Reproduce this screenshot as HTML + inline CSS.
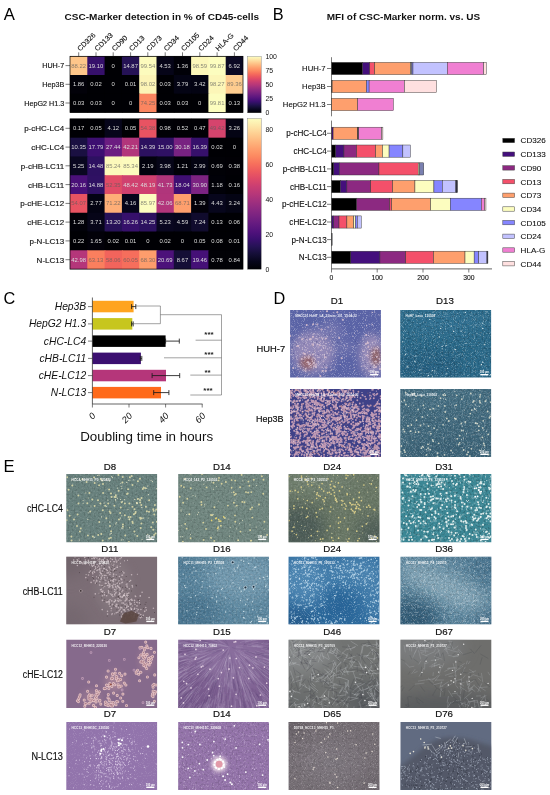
<!DOCTYPE html>
<html><head><meta charset="utf-8"><title>Figure</title>
<style>html,body{margin:0;padding:0;background:#fff}svg{display:block}text{font-family:"Liberation Sans",sans-serif}</style>
</head><body>
<svg width="550" height="795" viewBox="0 0 550 795">
<rect width="550" height="795" fill="#fff"/>
<g font-family="Liberation Sans, sans-serif">
<text x="3.8" y="19.8" font-size="16.7" fill="#000">A</text>
<text x="64.6" y="20.3" font-size="9" font-weight="bold" fill="#111" textLength="194.4" lengthAdjust="spacingAndGlyphs">CSC-Marker detection in % of CD45-cells</text>
<rect x="70.0" y="56.3" width="173.0" height="56.1" fill="#000004"/>
<text x="64.2" y="68.2" font-size="7.2" text-anchor="end" fill="#111" stroke="#111" stroke-width="0.15">HUH-7</text>
<line x1="65.5" x2="70.0" y1="65.6" y2="65.6" stroke="#222" stroke-width="0.6"/>
<rect x="70.00" y="56.30" width="18.20" height="19.60" fill="#fec68a"/>
<text x="78.65" y="67.6" font-size="5.9" text-anchor="middle" fill="#5c5c5c" fill-opacity="0.72">88.22</text>
<rect x="87.30" y="56.30" width="18.20" height="19.60" fill="#36106b"/>
<text x="95.95" y="67.6" font-size="5.9" text-anchor="middle" fill="#dcdcdc">19.10</text>
<rect x="104.60" y="56.30" width="18.20" height="19.60" fill="#000004"/>
<text x="113.25" y="67.6" font-size="5.9" text-anchor="middle" fill="#dcdcdc">0</text>
<rect x="121.90" y="56.30" width="18.20" height="19.60" fill="#251255"/>
<text x="130.55" y="67.6" font-size="5.9" text-anchor="middle" fill="#dcdcdc">14.87</text>
<rect x="139.20" y="56.30" width="18.20" height="19.60" fill="#fcfbbd"/>
<text x="147.85" y="67.6" font-size="5.9" text-anchor="middle" fill="#5c5c5c" fill-opacity="0.72">99.54</text>
<rect x="156.50" y="56.30" width="18.20" height="19.60" fill="#060518"/>
<text x="165.15" y="67.6" font-size="5.9" text-anchor="middle" fill="#dcdcdc">4.53</text>
<rect x="173.80" y="56.30" width="18.20" height="19.60" fill="#010108"/>
<text x="182.45" y="67.6" font-size="5.9" text-anchor="middle" fill="#dcdcdc">1.36</text>
<rect x="191.10" y="56.30" width="18.20" height="19.60" fill="#fcf7b9"/>
<text x="199.75" y="67.6" font-size="5.9" text-anchor="middle" fill="#5c5c5c" fill-opacity="0.72">98.59</text>
<rect x="208.40" y="56.30" width="18.20" height="19.60" fill="#fcfdbf"/>
<text x="217.05" y="67.6" font-size="5.9" text-anchor="middle" fill="#5c5c5c" fill-opacity="0.72">99.87</text>
<rect x="225.70" y="56.30" width="17.30" height="19.60" fill="#0b0924"/>
<text x="234.35" y="67.6" font-size="5.9" text-anchor="middle" fill="#dcdcdc">6.92</text>
<text x="64.2" y="86.9" font-size="7.2" text-anchor="end" fill="#111" stroke="#111" stroke-width="0.15">Hep3B</text>
<line x1="65.5" x2="70.0" y1="84.3" y2="84.3" stroke="#222" stroke-width="0.6"/>
<rect x="70.00" y="75.00" width="18.20" height="19.60" fill="#020109"/>
<text x="78.65" y="86.3" font-size="5.9" text-anchor="middle" fill="#dcdcdc">1.86</text>
<rect x="87.30" y="75.00" width="18.20" height="19.60" fill="#000004"/>
<text x="95.95" y="86.3" font-size="5.9" text-anchor="middle" fill="#dcdcdc">0.02</text>
<rect x="104.60" y="75.00" width="18.20" height="19.60" fill="#000004"/>
<text x="113.25" y="86.3" font-size="5.9" text-anchor="middle" fill="#dcdcdc">0</text>
<rect x="121.90" y="75.00" width="18.20" height="19.60" fill="#000004"/>
<text x="130.55" y="86.3" font-size="5.9" text-anchor="middle" fill="#dcdcdc">0.01</text>
<rect x="139.20" y="75.00" width="18.20" height="19.60" fill="#fcf4b6"/>
<text x="147.85" y="86.3" font-size="5.9" text-anchor="middle" fill="#5c5c5c" fill-opacity="0.72">98.02</text>
<rect x="156.50" y="75.00" width="18.20" height="19.60" fill="#000004"/>
<text x="165.15" y="86.3" font-size="5.9" text-anchor="middle" fill="#dcdcdc">0.03</text>
<rect x="173.80" y="75.00" width="18.20" height="19.60" fill="#040414"/>
<text x="182.45" y="86.3" font-size="5.9" text-anchor="middle" fill="#dcdcdc">3.79</text>
<rect x="191.10" y="75.00" width="18.20" height="19.60" fill="#030312"/>
<text x="199.75" y="86.3" font-size="5.9" text-anchor="middle" fill="#dcdcdc">3.42</text>
<rect x="208.40" y="75.00" width="18.20" height="19.60" fill="#fcf6b8"/>
<text x="217.05" y="86.3" font-size="5.9" text-anchor="middle" fill="#5c5c5c" fill-opacity="0.72">98.27</text>
<rect x="225.70" y="75.00" width="17.30" height="19.60" fill="#fecc8f"/>
<text x="234.35" y="86.3" font-size="5.9" text-anchor="middle" fill="#5c5c5c" fill-opacity="0.72">89.36</text>
<text x="64.2" y="105.6" font-size="7.2" text-anchor="end" fill="#111" stroke="#111" stroke-width="0.15">HepG2 H1.3</text>
<line x1="65.5" x2="70.0" y1="103.0" y2="103.0" stroke="#222" stroke-width="0.6"/>
<rect x="70.00" y="93.70" width="18.20" height="18.70" fill="#000004"/>
<text x="78.65" y="105.0" font-size="5.9" text-anchor="middle" fill="#dcdcdc">0.03</text>
<rect x="87.30" y="93.70" width="18.20" height="18.70" fill="#000004"/>
<text x="95.95" y="105.0" font-size="5.9" text-anchor="middle" fill="#dcdcdc">0.03</text>
<rect x="104.60" y="93.70" width="18.20" height="18.70" fill="#000004"/>
<text x="113.25" y="105.0" font-size="5.9" text-anchor="middle" fill="#dcdcdc">0</text>
<rect x="121.90" y="93.70" width="18.20" height="18.70" fill="#000004"/>
<text x="130.55" y="105.0" font-size="5.9" text-anchor="middle" fill="#dcdcdc">0</text>
<rect x="139.20" y="93.70" width="18.20" height="18.70" fill="#fb8560"/>
<text x="147.85" y="105.0" font-size="5.9" text-anchor="middle" fill="#5c5c5c" fill-opacity="0.72">74.25</text>
<rect x="156.50" y="93.70" width="18.20" height="18.70" fill="#000004"/>
<text x="165.15" y="105.0" font-size="5.9" text-anchor="middle" fill="#dcdcdc">0.03</text>
<rect x="173.80" y="93.70" width="18.20" height="18.70" fill="#000004"/>
<text x="182.45" y="105.0" font-size="5.9" text-anchor="middle" fill="#dcdcdc">0.03</text>
<rect x="191.10" y="93.70" width="18.20" height="18.70" fill="#000004"/>
<text x="199.75" y="105.0" font-size="5.9" text-anchor="middle" fill="#dcdcdc">0</text>
<rect x="208.40" y="93.70" width="18.20" height="18.70" fill="#fcfdbf"/>
<text x="217.05" y="105.0" font-size="5.9" text-anchor="middle" fill="#5c5c5c" fill-opacity="0.72">99.81</text>
<rect x="225.70" y="93.70" width="17.30" height="18.70" fill="#000004"/>
<text x="234.35" y="105.0" font-size="5.9" text-anchor="middle" fill="#dcdcdc">0.13</text>
<rect x="70.0" y="56.3" width="173.0" height="56.1" fill="none" stroke="#000" stroke-width="0.7"/>
<rect x="70.0" y="118.9" width="173.0" height="150.2" fill="#000004"/>
<text x="64.2" y="131.2" font-size="8.0" text-anchor="end" fill="#111" stroke="#111" stroke-width="0.15">p-cHC-LC4</text>
<line x1="65.5" x2="70.0" y1="128.3" y2="128.3" stroke="#222" stroke-width="0.6"/>
<rect x="70.00" y="118.90" width="18.20" height="19.67" fill="#000004"/>
<text x="78.65" y="130.3" font-size="5.9" text-anchor="middle" fill="#dcdcdc">0.17</text>
<rect x="87.30" y="118.90" width="18.20" height="19.67" fill="#000004"/>
<text x="95.95" y="130.3" font-size="5.9" text-anchor="middle" fill="#dcdcdc">0.05</text>
<rect x="104.60" y="118.90" width="18.20" height="19.67" fill="#06051a"/>
<text x="113.25" y="130.3" font-size="5.9" text-anchor="middle" fill="#dcdcdc">4.12</text>
<rect x="121.90" y="118.90" width="18.20" height="19.67" fill="#000004"/>
<text x="130.55" y="130.3" font-size="5.9" text-anchor="middle" fill="#dcdcdc">0.05</text>
<rect x="139.20" y="118.90" width="18.20" height="19.67" fill="#e85362"/>
<text x="147.85" y="130.3" font-size="5.9" text-anchor="middle" fill="#5c5c5c" fill-opacity="0.72">54.38</text>
<rect x="156.50" y="118.90" width="18.20" height="19.67" fill="#010106"/>
<text x="165.15" y="130.3" font-size="5.9" text-anchor="middle" fill="#dcdcdc">0.98</text>
<rect x="173.80" y="118.90" width="18.20" height="19.67" fill="#010005"/>
<text x="182.45" y="130.3" font-size="5.9" text-anchor="middle" fill="#dcdcdc">0.52</text>
<rect x="191.10" y="118.90" width="18.20" height="19.67" fill="#010005"/>
<text x="199.75" y="130.3" font-size="5.9" text-anchor="middle" fill="#dcdcdc">0.47</text>
<rect x="208.40" y="118.90" width="18.20" height="19.67" fill="#d5446d"/>
<text x="217.05" y="130.3" font-size="5.9" text-anchor="middle" fill="#5c5c5c" fill-opacity="0.72">49.42</text>
<rect x="225.70" y="118.90" width="17.30" height="19.67" fill="#040414"/>
<text x="234.35" y="130.3" font-size="5.9" text-anchor="middle" fill="#dcdcdc">3.26</text>
<text x="64.2" y="149.9" font-size="8.0" text-anchor="end" fill="#111" stroke="#111" stroke-width="0.15">cHC-LC4</text>
<line x1="65.5" x2="70.0" y1="147.1" y2="147.1" stroke="#222" stroke-width="0.6"/>
<rect x="70.00" y="137.67" width="18.20" height="19.67" fill="#1a1042"/>
<text x="78.65" y="149.1" font-size="5.9" text-anchor="middle" fill="#dcdcdc">10.35</text>
<rect x="87.30" y="137.67" width="18.20" height="19.67" fill="#3d0f71"/>
<text x="95.95" y="149.1" font-size="5.9" text-anchor="middle" fill="#dcdcdc">17.79</text>
<rect x="104.60" y="137.67" width="18.20" height="19.67" fill="#6b1d81"/>
<text x="113.25" y="149.1" font-size="5.9" text-anchor="middle" fill="#dcdcdc">27.44</text>
<rect x="121.90" y="137.67" width="18.20" height="19.67" fill="#b2357b"/>
<text x="130.55" y="149.1" font-size="5.9" text-anchor="middle" fill="#dcdcdc">42.21</text>
<rect x="139.20" y="137.67" width="18.20" height="19.67" fill="#2c115f"/>
<text x="147.85" y="149.1" font-size="5.9" text-anchor="middle" fill="#dcdcdc">14.39</text>
<rect x="156.50" y="137.67" width="18.20" height="19.67" fill="#2f1163"/>
<text x="165.15" y="149.1" font-size="5.9" text-anchor="middle" fill="#dcdcdc">15.00</text>
<rect x="173.80" y="137.67" width="18.20" height="19.67" fill="#782281"/>
<text x="182.45" y="149.1" font-size="5.9" text-anchor="middle" fill="#dcdcdc">30.18</text>
<rect x="191.10" y="137.67" width="18.20" height="19.67" fill="#36106b"/>
<text x="199.75" y="149.1" font-size="5.9" text-anchor="middle" fill="#dcdcdc">16.39</text>
<rect x="208.40" y="137.67" width="18.20" height="19.67" fill="#000004"/>
<text x="217.05" y="149.1" font-size="5.9" text-anchor="middle" fill="#dcdcdc">0.02</text>
<rect x="225.70" y="137.67" width="17.30" height="19.67" fill="#000004"/>
<text x="234.35" y="149.1" font-size="5.9" text-anchor="middle" fill="#dcdcdc">0</text>
<text x="64.2" y="168.7" font-size="8.0" text-anchor="end" fill="#111" stroke="#111" stroke-width="0.15">p-cHB-LC11</text>
<line x1="65.5" x2="70.0" y1="165.8" y2="165.8" stroke="#222" stroke-width="0.6"/>
<rect x="70.00" y="156.44" width="18.20" height="19.67" fill="#090720"/>
<text x="78.65" y="167.8" font-size="5.9" text-anchor="middle" fill="#dcdcdc">5.25</text>
<rect x="87.30" y="156.44" width="18.20" height="19.67" fill="#2d1161"/>
<text x="95.95" y="167.8" font-size="5.9" text-anchor="middle" fill="#dcdcdc">14.48</text>
<rect x="104.60" y="156.44" width="18.20" height="19.67" fill="#fcf9bb"/>
<text x="113.25" y="167.8" font-size="5.9" text-anchor="middle" fill="#5c5c5c" fill-opacity="0.72">85.24</text>
<rect x="121.90" y="156.44" width="18.20" height="19.67" fill="#fcfbbd"/>
<text x="130.55" y="167.8" font-size="5.9" text-anchor="middle" fill="#5c5c5c" fill-opacity="0.72">85.34</text>
<rect x="139.20" y="156.44" width="18.20" height="19.67" fill="#02020d"/>
<text x="147.85" y="167.8" font-size="5.9" text-anchor="middle" fill="#dcdcdc">2.19</text>
<rect x="156.50" y="156.44" width="18.20" height="19.67" fill="#060518"/>
<text x="165.15" y="167.8" font-size="5.9" text-anchor="middle" fill="#dcdcdc">3.98</text>
<rect x="173.80" y="156.44" width="18.20" height="19.67" fill="#010108"/>
<text x="182.45" y="167.8" font-size="5.9" text-anchor="middle" fill="#dcdcdc">1.21</text>
<rect x="191.10" y="156.44" width="18.20" height="19.67" fill="#030312"/>
<text x="199.75" y="167.8" font-size="5.9" text-anchor="middle" fill="#dcdcdc">2.99</text>
<rect x="208.40" y="156.44" width="18.20" height="19.67" fill="#010106"/>
<text x="217.05" y="167.8" font-size="5.9" text-anchor="middle" fill="#dcdcdc">0.69</text>
<rect x="225.70" y="156.44" width="17.30" height="19.67" fill="#010005"/>
<text x="234.35" y="167.8" font-size="5.9" text-anchor="middle" fill="#dcdcdc">0.38</text>
<text x="64.2" y="187.5" font-size="8.0" text-anchor="end" fill="#111" stroke="#111" stroke-width="0.15">cHB-LC11</text>
<line x1="65.5" x2="70.0" y1="184.6" y2="184.6" stroke="#222" stroke-width="0.6"/>
<rect x="70.00" y="175.21" width="18.20" height="19.67" fill="#4a1079"/>
<text x="78.65" y="186.6" font-size="5.9" text-anchor="middle" fill="#dcdcdc">20.16</text>
<rect x="87.30" y="175.21" width="18.20" height="19.67" fill="#2f1163"/>
<text x="95.95" y="186.6" font-size="5.9" text-anchor="middle" fill="#dcdcdc">14.88</text>
<rect x="104.60" y="175.21" width="18.20" height="19.67" fill="#e04c67"/>
<text x="113.25" y="186.6" font-size="5.9" text-anchor="middle" fill="#5c5c5c" fill-opacity="0.72">52.35</text>
<rect x="121.90" y="175.21" width="18.20" height="19.67" fill="#d0416f"/>
<text x="130.55" y="186.6" font-size="5.9" text-anchor="middle" fill="#dcdcdc">48.42</text>
<rect x="139.20" y="175.21" width="18.20" height="19.67" fill="#cf4070"/>
<text x="147.85" y="186.6" font-size="5.9" text-anchor="middle" fill="#dcdcdc">48.19</text>
<rect x="156.50" y="175.21" width="18.20" height="19.67" fill="#b0357b"/>
<text x="165.15" y="186.6" font-size="5.9" text-anchor="middle" fill="#dcdcdc">41.73</text>
<rect x="173.80" y="175.21" width="18.20" height="19.67" fill="#3f0f72"/>
<text x="182.45" y="186.6" font-size="5.9" text-anchor="middle" fill="#dcdcdc">18.04</text>
<rect x="191.10" y="175.21" width="18.20" height="19.67" fill="#7c2382"/>
<text x="199.75" y="186.6" font-size="5.9" text-anchor="middle" fill="#dcdcdc">30.90</text>
<rect x="208.40" y="175.21" width="18.20" height="19.67" fill="#010108"/>
<text x="217.05" y="186.6" font-size="5.9" text-anchor="middle" fill="#dcdcdc">1.18</text>
<rect x="225.70" y="175.21" width="17.30" height="19.67" fill="#000004"/>
<text x="234.35" y="186.6" font-size="5.9" text-anchor="middle" fill="#dcdcdc">0.16</text>
<text x="64.2" y="206.2" font-size="8.0" text-anchor="end" fill="#111" stroke="#111" stroke-width="0.15">p-cHE-LC12</text>
<line x1="65.5" x2="70.0" y1="203.4" y2="203.4" stroke="#222" stroke-width="0.6"/>
<rect x="70.00" y="193.98" width="18.20" height="19.67" fill="#e85362"/>
<text x="78.65" y="205.4" font-size="5.9" text-anchor="middle" fill="#5c5c5c" fill-opacity="0.72">54.07</text>
<rect x="87.30" y="193.98" width="18.20" height="19.67" fill="#030312"/>
<text x="95.95" y="205.4" font-size="5.9" text-anchor="middle" fill="#dcdcdc">2.77</text>
<rect x="104.60" y="193.98" width="18.20" height="19.67" fill="#feae77"/>
<text x="113.25" y="205.4" font-size="5.9" text-anchor="middle" fill="#5c5c5c" fill-opacity="0.72">71.22</text>
<rect x="121.90" y="193.98" width="18.20" height="19.67" fill="#06051a"/>
<text x="130.55" y="205.4" font-size="5.9" text-anchor="middle" fill="#dcdcdc">4.16</text>
<rect x="139.20" y="193.98" width="18.20" height="19.67" fill="#fcfdbf"/>
<text x="147.85" y="205.4" font-size="5.9" text-anchor="middle" fill="#5c5c5c" fill-opacity="0.72">85.97</text>
<rect x="156.50" y="193.98" width="18.20" height="19.67" fill="#b2357b"/>
<text x="165.15" y="205.4" font-size="5.9" text-anchor="middle" fill="#dcdcdc">42.06</text>
<rect x="173.80" y="193.98" width="18.20" height="19.67" fill="#fe9f6d"/>
<text x="182.45" y="205.4" font-size="5.9" text-anchor="middle" fill="#5c5c5c" fill-opacity="0.72">68.71</text>
<rect x="191.10" y="193.98" width="18.20" height="19.67" fill="#020109"/>
<text x="199.75" y="205.4" font-size="5.9" text-anchor="middle" fill="#dcdcdc">1.39</text>
<rect x="208.40" y="193.98" width="18.20" height="19.67" fill="#07061c"/>
<text x="217.05" y="205.4" font-size="5.9" text-anchor="middle" fill="#dcdcdc">4.43</text>
<rect x="225.70" y="193.98" width="17.30" height="19.67" fill="#040414"/>
<text x="234.35" y="205.4" font-size="5.9" text-anchor="middle" fill="#dcdcdc">3.24</text>
<text x="64.2" y="225.0" font-size="8.0" text-anchor="end" fill="#111" stroke="#111" stroke-width="0.15">cHE-LC12</text>
<line x1="65.5" x2="70.0" y1="222.1" y2="222.1" stroke="#222" stroke-width="0.6"/>
<rect x="70.00" y="212.75" width="18.20" height="19.67" fill="#010108"/>
<text x="78.65" y="224.1" font-size="5.9" text-anchor="middle" fill="#dcdcdc">1.28</text>
<rect x="87.30" y="212.75" width="18.20" height="19.67" fill="#060518"/>
<text x="95.95" y="224.1" font-size="5.9" text-anchor="middle" fill="#dcdcdc">3.71</text>
<rect x="104.60" y="212.75" width="18.20" height="19.67" fill="#271258"/>
<text x="113.25" y="224.1" font-size="5.9" text-anchor="middle" fill="#dcdcdc">13.20</text>
<rect x="121.90" y="212.75" width="18.20" height="19.67" fill="#36106b"/>
<text x="130.55" y="224.1" font-size="5.9" text-anchor="middle" fill="#dcdcdc">16.26</text>
<rect x="139.20" y="212.75" width="18.20" height="19.67" fill="#2c115f"/>
<text x="147.85" y="224.1" font-size="5.9" text-anchor="middle" fill="#dcdcdc">14.25</text>
<rect x="156.50" y="212.75" width="18.20" height="19.67" fill="#090720"/>
<text x="165.15" y="224.1" font-size="5.9" text-anchor="middle" fill="#dcdcdc">5.23</text>
<rect x="173.80" y="212.75" width="18.20" height="19.67" fill="#07061c"/>
<text x="182.45" y="224.1" font-size="5.9" text-anchor="middle" fill="#dcdcdc">4.59</text>
<rect x="191.10" y="212.75" width="18.20" height="19.67" fill="#100b2d"/>
<text x="199.75" y="224.1" font-size="5.9" text-anchor="middle" fill="#dcdcdc">7.24</text>
<rect x="208.40" y="212.75" width="18.20" height="19.67" fill="#000004"/>
<text x="217.05" y="224.1" font-size="5.9" text-anchor="middle" fill="#dcdcdc">0.13</text>
<rect x="225.70" y="212.75" width="17.30" height="19.67" fill="#000004"/>
<text x="234.35" y="224.1" font-size="5.9" text-anchor="middle" fill="#dcdcdc">0.06</text>
<text x="64.2" y="243.8" font-size="8.0" text-anchor="end" fill="#111" stroke="#111" stroke-width="0.15">p-N-LC13</text>
<line x1="65.5" x2="70.0" y1="240.9" y2="240.9" stroke="#222" stroke-width="0.6"/>
<rect x="70.00" y="231.52" width="18.20" height="19.67" fill="#000004"/>
<text x="78.65" y="242.9" font-size="5.9" text-anchor="middle" fill="#dcdcdc">0.22</text>
<rect x="87.30" y="231.52" width="18.20" height="19.67" fill="#020109"/>
<text x="95.95" y="242.9" font-size="5.9" text-anchor="middle" fill="#dcdcdc">1.65</text>
<rect x="104.60" y="231.52" width="18.20" height="19.67" fill="#000004"/>
<text x="113.25" y="242.9" font-size="5.9" text-anchor="middle" fill="#dcdcdc">0.02</text>
<rect x="121.90" y="231.52" width="18.20" height="19.67" fill="#000004"/>
<text x="130.55" y="242.9" font-size="5.9" text-anchor="middle" fill="#dcdcdc">0.01</text>
<rect x="139.20" y="231.52" width="18.20" height="19.67" fill="#000004"/>
<text x="147.85" y="242.9" font-size="5.9" text-anchor="middle" fill="#dcdcdc">0</text>
<rect x="156.50" y="231.52" width="18.20" height="19.67" fill="#000004"/>
<text x="165.15" y="242.9" font-size="5.9" text-anchor="middle" fill="#dcdcdc">0.02</text>
<rect x="173.80" y="231.52" width="18.20" height="19.67" fill="#000004"/>
<text x="182.45" y="242.9" font-size="5.9" text-anchor="middle" fill="#dcdcdc">0</text>
<rect x="191.10" y="231.52" width="18.20" height="19.67" fill="#000004"/>
<text x="199.75" y="242.9" font-size="5.9" text-anchor="middle" fill="#dcdcdc">0.05</text>
<rect x="208.40" y="231.52" width="18.20" height="19.67" fill="#000004"/>
<text x="217.05" y="242.9" font-size="5.9" text-anchor="middle" fill="#dcdcdc">0.08</text>
<rect x="225.70" y="231.52" width="17.30" height="19.67" fill="#000004"/>
<text x="234.35" y="242.9" font-size="5.9" text-anchor="middle" fill="#dcdcdc">0.01</text>
<text x="64.2" y="262.6" font-size="8.0" text-anchor="end" fill="#111" stroke="#111" stroke-width="0.15">N-LC13</text>
<line x1="65.5" x2="70.0" y1="259.7" y2="259.7" stroke="#222" stroke-width="0.6"/>
<rect x="70.00" y="250.29" width="18.20" height="18.77" fill="#b5367a"/>
<text x="78.65" y="261.7" font-size="5.9" text-anchor="middle" fill="#dcdcdc">42.98</text>
<rect x="87.30" y="250.29" width="18.20" height="18.77" fill="#fa7f5e"/>
<text x="95.95" y="261.7" font-size="5.9" text-anchor="middle" fill="#5c5c5c" fill-opacity="0.72">63.13</text>
<rect x="104.60" y="250.29" width="18.20" height="18.77" fill="#f2645c"/>
<text x="113.25" y="261.7" font-size="5.9" text-anchor="middle" fill="#5c5c5c" fill-opacity="0.72">58.06</text>
<rect x="121.90" y="250.29" width="18.20" height="18.77" fill="#f66e5c"/>
<text x="130.55" y="261.7" font-size="5.9" text-anchor="middle" fill="#5c5c5c" fill-opacity="0.72">60.05</text>
<rect x="139.20" y="250.29" width="18.20" height="18.77" fill="#fe9d6c"/>
<text x="147.85" y="261.7" font-size="5.9" text-anchor="middle" fill="#5c5c5c" fill-opacity="0.72">68.30</text>
<rect x="156.50" y="250.29" width="18.20" height="18.77" fill="#4c117a"/>
<text x="165.15" y="261.7" font-size="5.9" text-anchor="middle" fill="#dcdcdc">20.69</text>
<rect x="173.80" y="250.29" width="18.20" height="18.77" fill="#140e36"/>
<text x="182.45" y="261.7" font-size="5.9" text-anchor="middle" fill="#dcdcdc">8.67</text>
<rect x="191.10" y="250.29" width="18.20" height="18.77" fill="#451077"/>
<text x="199.75" y="261.7" font-size="5.9" text-anchor="middle" fill="#dcdcdc">19.46</text>
<rect x="208.40" y="250.29" width="18.20" height="18.77" fill="#010106"/>
<text x="217.05" y="261.7" font-size="5.9" text-anchor="middle" fill="#dcdcdc">0.78</text>
<rect x="225.70" y="250.29" width="17.30" height="18.77" fill="#010106"/>
<text x="234.35" y="261.7" font-size="5.9" text-anchor="middle" fill="#dcdcdc">0.84</text>
<rect x="70.0" y="118.9" width="173.0" height="150.2" fill="none" stroke="#000" stroke-width="0.7"/>
<line x1="78.7" x2="78.7" y1="52.3" y2="56.3" stroke="#222" stroke-width="0.6"/>
<text transform="translate(80.2,51.5) rotate(-45)" font-size="7.2" fill="#111" stroke="#111" stroke-width="0.12">CD326</text>
<line x1="96.0" x2="96.0" y1="52.3" y2="56.3" stroke="#222" stroke-width="0.6"/>
<text transform="translate(97.5,51.5) rotate(-45)" font-size="7.2" fill="#111" stroke="#111" stroke-width="0.12">CD133</text>
<line x1="113.2" x2="113.2" y1="52.3" y2="56.3" stroke="#222" stroke-width="0.6"/>
<text transform="translate(114.8,51.5) rotate(-45)" font-size="7.2" fill="#111" stroke="#111" stroke-width="0.12">CD90</text>
<line x1="130.6" x2="130.6" y1="52.3" y2="56.3" stroke="#222" stroke-width="0.6"/>
<text transform="translate(132.1,51.5) rotate(-45)" font-size="7.2" fill="#111" stroke="#111" stroke-width="0.12">CD13</text>
<line x1="147.8" x2="147.8" y1="52.3" y2="56.3" stroke="#222" stroke-width="0.6"/>
<text transform="translate(149.3,51.5) rotate(-45)" font-size="7.2" fill="#111" stroke="#111" stroke-width="0.12">CD73</text>
<line x1="165.2" x2="165.2" y1="52.3" y2="56.3" stroke="#222" stroke-width="0.6"/>
<text transform="translate(166.7,51.5) rotate(-45)" font-size="7.2" fill="#111" stroke="#111" stroke-width="0.12">CD34</text>
<line x1="182.5" x2="182.5" y1="52.3" y2="56.3" stroke="#222" stroke-width="0.6"/>
<text transform="translate(184.0,51.5) rotate(-45)" font-size="7.2" fill="#111" stroke="#111" stroke-width="0.12">CD105</text>
<line x1="199.8" x2="199.8" y1="52.3" y2="56.3" stroke="#222" stroke-width="0.6"/>
<text transform="translate(201.3,51.5) rotate(-45)" font-size="7.2" fill="#111" stroke="#111" stroke-width="0.12">CD24</text>
<line x1="217.1" x2="217.1" y1="52.3" y2="56.3" stroke="#222" stroke-width="0.6"/>
<text transform="translate(218.6,51.5) rotate(-45)" font-size="7.2" fill="#111" stroke="#111" stroke-width="0.12">HLA-G</text>
<line x1="234.4" x2="234.4" y1="52.3" y2="56.3" stroke="#222" stroke-width="0.6"/>
<text transform="translate(235.9,51.5) rotate(-45)" font-size="7.2" fill="#111" stroke="#111" stroke-width="0.12">CD44</text>
<defs><linearGradient id="mg" x1="0" y1="1" x2="0" y2="0">
<stop offset="0.00" stop-color="#000004"/>
<stop offset="0.05" stop-color="#06051a"/>
<stop offset="0.10" stop-color="#140e36"/>
<stop offset="0.15" stop-color="#251255"/>
<stop offset="0.20" stop-color="#3b0f70"/>
<stop offset="0.25" stop-color="#51127c"/>
<stop offset="0.30" stop-color="#641a80"/>
<stop offset="0.35" stop-color="#782281"/>
<stop offset="0.40" stop-color="#8c2981"/>
<stop offset="0.45" stop-color="#a1307e"/>
<stop offset="0.50" stop-color="#b73779"/>
<stop offset="0.55" stop-color="#ca3e72"/>
<stop offset="0.60" stop-color="#de4968"/>
<stop offset="0.65" stop-color="#ed5a5f"/>
<stop offset="0.70" stop-color="#f7705c"/>
<stop offset="0.75" stop-color="#fc8961"/>
<stop offset="0.80" stop-color="#fe9f6d"/>
<stop offset="0.85" stop-color="#feb77e"/>
<stop offset="0.90" stop-color="#fecf92"/>
<stop offset="0.95" stop-color="#fde7a9"/>
<stop offset="1.00" stop-color="#fcfdbf"/>
</linearGradient></defs>
<rect x="247.6" y="56.6" width="13.6" height="56.2" fill="url(#mg)" stroke="#222" stroke-width="0.4" stroke-opacity="0.6"/>
<text x="265.4" y="59.2" font-size="6.9" fill="#111">100</text>
<text x="265.4" y="73.2" font-size="6.9" fill="#111">75</text>
<text x="265.4" y="87.3" font-size="6.9" fill="#111">50</text>
<text x="265.4" y="101.3" font-size="6.9" fill="#111">25</text>
<text x="265.4" y="115.4" font-size="6.9" fill="#111">0</text>
<rect x="247.6" y="118.6" width="13.6" height="150.6" fill="url(#mg)" stroke="#222" stroke-width="0.4" stroke-opacity="0.6"/>
<text x="265.4" y="131.7" font-size="6.9" fill="#111">80</text>
<text x="265.4" y="166.7" font-size="6.9" fill="#111">60</text>
<text x="265.4" y="201.7" font-size="6.9" fill="#111">40</text>
<text x="265.4" y="236.8" font-size="6.9" fill="#111">20</text>
<text x="265.4" y="271.8" font-size="6.9" fill="#111">0</text>
</g>
<g font-family="Liberation Sans, sans-serif">
<text x="272.7" y="19.8" font-size="16.3" fill="#000">B</text>
<text x="326.8" y="20.1" font-size="9" font-weight="bold" fill="#111" textLength="153.3" lengthAdjust="spacingAndGlyphs">MFI of CSC-Marker norm. vs. US</text>
<text x="325.6" y="71.3" font-size="7.7" text-anchor="end" fill="#111" stroke="#111" stroke-width="0.12">HUH-7</text>
<line x1="327" x2="331.5" y1="68.5" y2="68.5" stroke="#222" stroke-width="0.6"/>
<rect x="331.50" y="62.40" width="31.09" height="12.2" fill="#000000" stroke="#333" stroke-width="0.45"/>
<rect x="362.59" y="62.40" width="7.20" height="12.2" fill="#440f7c" stroke="#333" stroke-width="0.45"/>
<rect x="369.79" y="62.40" width="4.91" height="12.2" fill="#f4506a" stroke="#333" stroke-width="0.45"/>
<rect x="374.69" y="62.40" width="35.99" height="12.2" fill="#fe9f6d" stroke="#333" stroke-width="0.45"/>
<rect x="410.69" y="62.40" width="0.98" height="12.2" fill="#fcfdbf" stroke="#333" stroke-width="0.45"/>
<rect x="411.67" y="62.40" width="1.31" height="12.2" fill="#8585ff" stroke="#333" stroke-width="0.45"/>
<rect x="412.98" y="62.40" width="34.36" height="12.2" fill="#c2c2ff" stroke="#333" stroke-width="0.45"/>
<rect x="447.34" y="62.40" width="36.32" height="12.2" fill="#f07fd2" stroke="#333" stroke-width="0.45"/>
<rect x="483.66" y="62.40" width="2.62" height="12.2" fill="#ffe0e0" stroke="#333" stroke-width="0.45"/>
<text x="325.6" y="89.3" font-size="7.7" text-anchor="end" fill="#111" stroke="#111" stroke-width="0.12">Hep3B</text>
<line x1="327" x2="331.5" y1="86.5" y2="86.5" stroke="#222" stroke-width="0.6"/>
<rect x="331.50" y="80.40" width="0.65" height="12.2" fill="#000000" stroke="#333" stroke-width="0.45"/>
<rect x="332.15" y="80.40" width="34.36" height="12.2" fill="#fe9f6d" stroke="#333" stroke-width="0.45"/>
<rect x="366.51" y="80.40" width="2.62" height="12.2" fill="#8585ff" stroke="#333" stroke-width="0.45"/>
<rect x="369.13" y="80.40" width="35.34" height="12.2" fill="#f07fd2" stroke="#333" stroke-width="0.45"/>
<rect x="404.47" y="80.40" width="32.07" height="12.2" fill="#ffe0e0" stroke="#333" stroke-width="0.45"/>
<text x="325.6" y="107.3" font-size="7.7" text-anchor="end" fill="#111" stroke="#111" stroke-width="0.12">HepG2 H1.3</text>
<line x1="327" x2="331.5" y1="104.5" y2="104.5" stroke="#222" stroke-width="0.6"/>
<rect x="331.50" y="98.40" width="26.18" height="12.2" fill="#fe9f6d" stroke="#333" stroke-width="0.45"/>
<rect x="357.68" y="98.40" width="35.67" height="12.2" fill="#f07fd2" stroke="#333" stroke-width="0.45"/>
<text x="326.8" y="136.2" font-size="8.15" text-anchor="end" fill="#111" stroke="#111" stroke-width="0.12">p-cHC-LC4</text>
<line x1="327" x2="331.5" y1="133.3" y2="133.3" stroke="#222" stroke-width="0.6"/>
<rect x="331.50" y="127.20" width="1.64" height="12.2" fill="#440f7c" stroke="#333" stroke-width="0.45"/>
<rect x="333.14" y="127.20" width="24.54" height="12.2" fill="#fe9f6d" stroke="#333" stroke-width="0.45"/>
<rect x="357.68" y="127.20" width="0.98" height="12.2" fill="#000000" stroke="#333" stroke-width="0.45"/>
<rect x="358.66" y="127.20" width="22.91" height="12.2" fill="#f07fd2" stroke="#333" stroke-width="0.45"/>
<rect x="381.57" y="127.20" width="1.31" height="12.2" fill="#ffe0e0" stroke="#333" stroke-width="0.45"/>
<text x="326.8" y="154.0" font-size="8.15" text-anchor="end" fill="#111" stroke="#111" stroke-width="0.12">cHC-LC4</text>
<line x1="327" x2="331.5" y1="151.1" y2="151.1" stroke="#222" stroke-width="0.6"/>
<rect x="331.50" y="145.00" width="4.25" height="12.2" fill="#000000" stroke="#333" stroke-width="0.45"/>
<rect x="335.75" y="145.00" width="8.18" height="12.2" fill="#440f7c" stroke="#333" stroke-width="0.45"/>
<rect x="343.93" y="145.00" width="12.76" height="12.2" fill="#8c2981" stroke="#333" stroke-width="0.45"/>
<rect x="356.70" y="145.00" width="18.98" height="12.2" fill="#f4506a" stroke="#333" stroke-width="0.45"/>
<rect x="375.68" y="145.00" width="6.87" height="12.2" fill="#fe9f6d" stroke="#333" stroke-width="0.45"/>
<rect x="382.55" y="145.00" width="6.54" height="12.2" fill="#fcfdbf" stroke="#333" stroke-width="0.45"/>
<rect x="389.09" y="145.00" width="13.74" height="12.2" fill="#8585ff" stroke="#333" stroke-width="0.45"/>
<rect x="402.84" y="145.00" width="7.53" height="12.2" fill="#c2c2ff" stroke="#333" stroke-width="0.45"/>
<text x="326.8" y="171.8" font-size="8.15" text-anchor="end" fill="#111" stroke="#111" stroke-width="0.12">p-cHB-LC11</text>
<line x1="327" x2="331.5" y1="168.9" y2="168.9" stroke="#222" stroke-width="0.6"/>
<rect x="331.50" y="162.80" width="2.29" height="12.2" fill="#000000" stroke="#333" stroke-width="0.45"/>
<rect x="333.79" y="162.80" width="5.89" height="12.2" fill="#440f7c" stroke="#333" stroke-width="0.45"/>
<rect x="339.68" y="162.80" width="39.27" height="12.2" fill="#8c2981" stroke="#333" stroke-width="0.45"/>
<rect x="378.95" y="162.80" width="39.27" height="12.2" fill="#f4506a" stroke="#333" stroke-width="0.45"/>
<rect x="418.21" y="162.80" width="1.31" height="12.2" fill="#fcfdbf" stroke="#333" stroke-width="0.45"/>
<rect x="419.52" y="162.80" width="4.25" height="12.2" fill="#7a80b0" stroke="#333" stroke-width="0.45"/>
<text x="326.8" y="189.5" font-size="8.15" text-anchor="end" fill="#111" stroke="#111" stroke-width="0.12">cHB-LC11</text>
<line x1="327" x2="331.5" y1="186.6" y2="186.6" stroke="#222" stroke-width="0.6"/>
<rect x="331.50" y="180.50" width="8.84" height="12.2" fill="#000000" stroke="#333" stroke-width="0.45"/>
<rect x="340.34" y="180.50" width="6.54" height="12.2" fill="#440f7c" stroke="#333" stroke-width="0.45"/>
<rect x="346.88" y="180.50" width="23.89" height="12.2" fill="#8c2981" stroke="#333" stroke-width="0.45"/>
<rect x="370.77" y="180.50" width="21.92" height="12.2" fill="#f4506a" stroke="#333" stroke-width="0.45"/>
<rect x="392.69" y="180.50" width="22.25" height="12.2" fill="#fe9f6d" stroke="#333" stroke-width="0.45"/>
<rect x="414.94" y="180.50" width="18.98" height="12.2" fill="#fcfdbf" stroke="#333" stroke-width="0.45"/>
<rect x="433.92" y="180.50" width="8.51" height="12.2" fill="#8585ff" stroke="#333" stroke-width="0.45"/>
<rect x="442.43" y="180.50" width="13.42" height="12.2" fill="#c2c2ff" stroke="#333" stroke-width="0.45"/>
<rect x="455.85" y="180.50" width="1.64" height="12.2" fill="#303040" stroke="#333" stroke-width="0.45"/>
<text x="326.8" y="207.2" font-size="8.15" text-anchor="end" fill="#111" stroke="#111" stroke-width="0.12">p-cHE-LC12</text>
<line x1="327" x2="331.5" y1="204.3" y2="204.3" stroke="#222" stroke-width="0.6"/>
<rect x="331.50" y="198.20" width="25.20" height="12.2" fill="#000000" stroke="#333" stroke-width="0.45"/>
<rect x="356.70" y="198.20" width="33.05" height="12.2" fill="#8c2981" stroke="#333" stroke-width="0.45"/>
<rect x="389.75" y="198.20" width="1.96" height="12.2" fill="#f4506a" stroke="#333" stroke-width="0.45"/>
<rect x="391.71" y="198.20" width="38.94" height="12.2" fill="#fe9f6d" stroke="#333" stroke-width="0.45"/>
<rect x="430.65" y="198.20" width="19.63" height="12.2" fill="#fcfdbf" stroke="#333" stroke-width="0.45"/>
<rect x="450.28" y="198.20" width="31.09" height="12.2" fill="#8585ff" stroke="#333" stroke-width="0.45"/>
<rect x="481.37" y="198.20" width="3.27" height="12.2" fill="#f07fd2" stroke="#333" stroke-width="0.45"/>
<rect x="484.64" y="198.20" width="1.31" height="12.2" fill="#ffe0e0" stroke="#333" stroke-width="0.45"/>
<text x="326.8" y="224.9" font-size="8.15" text-anchor="end" fill="#111" stroke="#111" stroke-width="0.12">cHE-LC12</text>
<line x1="327" x2="331.5" y1="222.0" y2="222.0" stroke="#222" stroke-width="0.6"/>
<rect x="331.50" y="215.90" width="2.29" height="12.2" fill="#440f7c" stroke="#333" stroke-width="0.45"/>
<rect x="333.79" y="215.90" width="5.24" height="12.2" fill="#8c2981" stroke="#333" stroke-width="0.45"/>
<rect x="339.03" y="215.90" width="7.85" height="12.2" fill="#f4506a" stroke="#333" stroke-width="0.45"/>
<rect x="346.88" y="215.90" width="6.87" height="12.2" fill="#fe9f6d" stroke="#333" stroke-width="0.45"/>
<rect x="353.75" y="215.90" width="1.64" height="12.2" fill="#fcfdbf" stroke="#333" stroke-width="0.45"/>
<rect x="355.39" y="215.90" width="1.96" height="12.2" fill="#8585ff" stroke="#333" stroke-width="0.45"/>
<rect x="357.35" y="215.90" width="3.93" height="12.2" fill="#c2c2ff" stroke="#333" stroke-width="0.45"/>
<text x="326.8" y="242.5" font-size="8.15" text-anchor="end" fill="#111" stroke="#111" stroke-width="0.12">p-N-LC13</text>
<line x1="327" x2="331.5" y1="239.6" y2="239.6" stroke="#222" stroke-width="0.6"/>
<rect x="331.50" y="233.50" width="0.65" height="12.2" fill="#303040" stroke="#333" stroke-width="0.45"/>
<text x="326.8" y="260.2" font-size="8.15" text-anchor="end" fill="#111" stroke="#111" stroke-width="0.12">N-LC13</text>
<line x1="327" x2="331.5" y1="257.3" y2="257.3" stroke="#222" stroke-width="0.6"/>
<rect x="331.50" y="251.20" width="19.31" height="12.2" fill="#000000" stroke="#333" stroke-width="0.45"/>
<rect x="350.81" y="251.20" width="29.12" height="12.2" fill="#440f7c" stroke="#333" stroke-width="0.45"/>
<rect x="379.93" y="251.20" width="25.85" height="12.2" fill="#8c2981" stroke="#333" stroke-width="0.45"/>
<rect x="405.78" y="251.20" width="27.81" height="12.2" fill="#f4506a" stroke="#333" stroke-width="0.45"/>
<rect x="433.59" y="251.20" width="31.41" height="12.2" fill="#fe9f6d" stroke="#333" stroke-width="0.45"/>
<rect x="465.01" y="251.20" width="9.16" height="12.2" fill="#fcfdbf" stroke="#333" stroke-width="0.45"/>
<rect x="474.17" y="251.20" width="4.58" height="12.2" fill="#8585ff" stroke="#333" stroke-width="0.45"/>
<rect x="478.75" y="251.20" width="8.18" height="12.2" fill="#c2c2ff" stroke="#333" stroke-width="0.45"/>
<rect x="486.93" y="251.20" width="0.98" height="12.2" fill="#303040" stroke="#333" stroke-width="0.45"/>
<line x1="331.5" x2="331.5" y1="57.2" y2="116.3" stroke="#444" stroke-width="0.7"/>
<line x1="331.5" x2="331.5" y1="120.6" y2="268.9" stroke="#444" stroke-width="0.7"/>
<line x1="331.5" x2="492" y1="268.9" y2="268.9" stroke="#222" stroke-width="0.7"/>
<line x1="331.5" x2="331.5" y1="268.9" y2="272.5" stroke="#222" stroke-width="0.6"/>
<text x="331.5" y="279.9" font-size="6.8" text-anchor="middle" fill="#111" stroke="#111" stroke-width="0.1">0</text>
<line x1="377.2" x2="377.2" y1="268.9" y2="272.5" stroke="#222" stroke-width="0.6"/>
<text x="377.2" y="279.9" font-size="6.8" text-anchor="middle" fill="#111" stroke="#111" stroke-width="0.1">100</text>
<line x1="423.0" x2="423.0" y1="268.9" y2="272.5" stroke="#222" stroke-width="0.6"/>
<text x="423.0" y="279.9" font-size="6.8" text-anchor="middle" fill="#111" stroke="#111" stroke-width="0.1">200</text>
<line x1="468.8" x2="468.8" y1="268.9" y2="272.5" stroke="#222" stroke-width="0.6"/>
<text x="468.8" y="279.9" font-size="6.8" text-anchor="middle" fill="#111" stroke="#111" stroke-width="0.1">300</text>
<rect x="502.8" y="138.3" width="11.8" height="4.4" fill="#000000" stroke="#444" stroke-width="0.5"/>
<text x="520.6" y="143.4" font-size="8.1" fill="#111" stroke="#111" stroke-width="0.1">CD326</text>
<rect x="502.8" y="152.0" width="11.8" height="4.4" fill="#440f7c" stroke="#444" stroke-width="0.5"/>
<text x="520.6" y="157.1" font-size="8.1" fill="#111" stroke="#111" stroke-width="0.1">CD133</text>
<rect x="502.8" y="165.7" width="11.8" height="4.4" fill="#8c2981" stroke="#444" stroke-width="0.5"/>
<text x="520.6" y="170.8" font-size="8.1" fill="#111" stroke="#111" stroke-width="0.1">CD90</text>
<rect x="502.8" y="179.4" width="11.8" height="4.4" fill="#f4506a" stroke="#444" stroke-width="0.5"/>
<text x="520.6" y="184.5" font-size="8.1" fill="#111" stroke="#111" stroke-width="0.1">CD13</text>
<rect x="502.8" y="193.1" width="11.8" height="4.4" fill="#fe9f6d" stroke="#444" stroke-width="0.5"/>
<text x="520.6" y="198.2" font-size="8.1" fill="#111" stroke="#111" stroke-width="0.1">CD73</text>
<rect x="502.8" y="206.8" width="11.8" height="4.4" fill="#fcfdbf" stroke="#444" stroke-width="0.5"/>
<text x="520.6" y="211.8" font-size="8.1" fill="#111" stroke="#111" stroke-width="0.1">CD34</text>
<rect x="502.8" y="220.4" width="11.8" height="4.4" fill="#8585ff" stroke="#444" stroke-width="0.5"/>
<text x="520.6" y="225.5" font-size="8.1" fill="#111" stroke="#111" stroke-width="0.1">CD105</text>
<rect x="502.8" y="234.1" width="11.8" height="4.4" fill="#c2c2ff" stroke="#444" stroke-width="0.5"/>
<text x="520.6" y="239.2" font-size="8.1" fill="#111" stroke="#111" stroke-width="0.1">CD24</text>
<rect x="502.8" y="247.8" width="11.8" height="4.4" fill="#f07fd2" stroke="#444" stroke-width="0.5"/>
<text x="520.6" y="252.9" font-size="8.1" fill="#111" stroke="#111" stroke-width="0.1">HLA-G</text>
<rect x="502.8" y="261.5" width="11.8" height="4.4" fill="#ffe0e0" stroke="#444" stroke-width="0.5"/>
<text x="520.6" y="266.6" font-size="8.1" fill="#111" stroke="#111" stroke-width="0.1">CD44</text>
</g>
<g font-family="Liberation Sans, sans-serif">
<text x="3.6" y="303.8" font-size="16.3" fill="#000">C</text>
<text x="86.2" y="309.9" font-size="10.3" font-style="italic" text-anchor="end" fill="#111">Hep3B</text>
<line x1="88" x2="92.4" y1="306.6" y2="306.6" stroke="#222" stroke-width="0.6"/>
<rect x="92.4" y="300.8" width="41.2" height="11.5" fill="#ffa420"/>
<path d="M131.6 306.6H135.8M131.6 304.1v5M135.8 304.1v5" stroke="#1a1a1a" stroke-width="0.85" fill="none"/>
<text x="86.2" y="327.2" font-size="10.3" font-style="italic" text-anchor="end" fill="#111">HepG2 H1.3</text>
<line x1="88" x2="92.4" y1="323.9" y2="323.9" stroke="#222" stroke-width="0.6"/>
<rect x="92.4" y="318.1" width="39.9" height="11.5" fill="#c7c61e"/>
<path d="M131.6 323.9H133.2M131.6 321.4v5M133.2 321.4v5" stroke="#1a1a1a" stroke-width="0.85" fill="none"/>
<text x="86.2" y="344.5" font-size="10.3" font-style="italic" text-anchor="end" fill="#111">cHC-LC4</text>
<line x1="88" x2="92.4" y1="341.1" y2="341.1" stroke="#222" stroke-width="0.6"/>
<rect x="92.4" y="335.4" width="73.2" height="11.5" fill="#000000"/>
<path d="M165.6 341.1H179.3M165.6 338.6v5M179.3 338.6v5" stroke="#1a1a1a" stroke-width="0.85" fill="none"/>
<text x="86.2" y="361.8" font-size="10.3" font-style="italic" text-anchor="end" fill="#111">cHB-LC11</text>
<line x1="88" x2="92.4" y1="358.4" y2="358.4" stroke="#222" stroke-width="0.6"/>
<rect x="92.4" y="352.6" width="48.5" height="11.5" fill="#3b0f70"/>
<path d="M140.3 358.4H141.8M140.3 355.9v5M141.8 355.9v5" stroke="#1a1a1a" stroke-width="0.85" fill="none"/>
<text x="86.2" y="378.9" font-size="10.3" font-style="italic" text-anchor="end" fill="#111">cHE-LC12</text>
<line x1="88" x2="92.4" y1="375.6" y2="375.6" stroke="#222" stroke-width="0.6"/>
<rect x="92.4" y="369.8" width="73.6" height="11.5" fill="#b5367a"/>
<path d="M152.1 375.6H179.7M152.1 373.1v5M179.7 373.1v5" stroke="#1a1a1a" stroke-width="0.85" fill="none"/>
<text x="86.2" y="396.0" font-size="10.3" font-style="italic" text-anchor="end" fill="#111">N-LC13</text>
<line x1="88" x2="92.4" y1="392.6" y2="392.6" stroke="#222" stroke-width="0.6"/>
<rect x="92.4" y="386.9" width="68.6" height="11.5" fill="#ff6a1a"/>
<path d="M153.7 392.6H168.9M153.7 390.1v5M168.9 390.1v5" stroke="#1a1a1a" stroke-width="0.85" fill="none"/>
<path d="M92.4 297.5V404H202.5" stroke="#222" stroke-width="0.7" fill="none"/>
<line x1="92.4" x2="92.4" y1="404" y2="407.5" stroke="#222" stroke-width="0.6"/>
<text transform="translate(96.2,416.5) rotate(-45)" font-size="9.2" text-anchor="end" font-style="italic" fill="#111">0</text>
<line x1="129.0" x2="129.0" y1="404" y2="407.5" stroke="#222" stroke-width="0.6"/>
<text transform="translate(132.8,416.5) rotate(-45)" font-size="9.2" text-anchor="end" font-style="italic" fill="#111">20</text>
<line x1="165.6" x2="165.6" y1="404" y2="407.5" stroke="#222" stroke-width="0.6"/>
<text transform="translate(169.4,416.5) rotate(-45)" font-size="9.2" text-anchor="end" font-style="italic" fill="#111">40</text>
<line x1="202.2" x2="202.2" y1="404" y2="407.5" stroke="#222" stroke-width="0.6"/>
<text transform="translate(206.0,416.5) rotate(-45)" font-size="9.2" text-anchor="end" font-style="italic" fill="#111">60</text>
<text x="80.2" y="440.6" font-size="13.1" fill="#111" textLength="133" lengthAdjust="spacingAndGlyphs">Doubling time in hours</text>
<path d="M135.7 306H160.4V323.7H133.6M160.4 314.7H221.5V395H190.3M195.6 340.2H221.5M164 357.8H221.5M190.3 375.1H221.5" stroke="#555" stroke-width="0.55" fill="none"/>
<text x="209" y="337.4" font-size="8" font-weight="bold" text-anchor="middle" fill="#222">***</text>
<text x="209" y="357.4" font-size="8" font-weight="bold" text-anchor="middle" fill="#222">***</text>
<text x="207.5" y="375" font-size="8" font-weight="bold" text-anchor="middle" fill="#222">**</text>
<text x="208" y="393.3" font-size="8" font-weight="bold" text-anchor="middle" fill="#222">***</text>
</g>
<g font-family="Liberation Sans, sans-serif">
<text x="273.5" y="303.8" font-size="16.3" fill="#000">D</text>
<text x="3.5" y="472.4" font-size="16.6" fill="#000">E</text>
<text x="337.0" y="304.2" font-size="9.7" text-anchor="middle" fill="#111" stroke="#111" stroke-width="0.18">D1</text>
<text x="445.0" y="304.2" font-size="9.7" text-anchor="middle" fill="#111" stroke="#111" stroke-width="0.18">D13</text>
<text x="285.2" y="351.5" font-size="9.8" text-anchor="end" fill="#111" stroke="#111" stroke-width="0.18" textLength="28.6" lengthAdjust="spacingAndGlyphs">HUH-7</text>
<text x="283.6" y="422.2" font-size="9.8" text-anchor="end" fill="#111" stroke="#111" stroke-width="0.18" textLength="27.6" lengthAdjust="spacingAndGlyphs">Hep3B</text>
<text x="62.8" y="512.3000000000001" font-size="10.0" text-anchor="end" fill="#111" stroke="#111" stroke-width="0.18" textLength="35.8" lengthAdjust="spacingAndGlyphs">cHC-LC4</text>
<text x="109.89999999999999" y="469.5" font-size="9.7" text-anchor="middle" fill="#111" stroke="#111" stroke-width="0.18">D8</text>
<text x="221.79999999999998" y="469.5" font-size="9.7" text-anchor="middle" fill="#111" stroke="#111" stroke-width="0.18">D14</text>
<text x="332.2" y="469.5" font-size="9.7" text-anchor="middle" fill="#111" stroke="#111" stroke-width="0.18">D24</text>
<text x="444.09999999999997" y="469.5" font-size="9.7" text-anchor="middle" fill="#111" stroke="#111" stroke-width="0.18">D31</text>
<text x="62.8" y="595.1" font-size="10.0" text-anchor="end" fill="#111" stroke="#111" stroke-width="0.18" textLength="40.1" lengthAdjust="spacingAndGlyphs">cHB-LC11</text>
<text x="109.89999999999999" y="552.3" font-size="9.7" text-anchor="middle" fill="#111" stroke="#111" stroke-width="0.18">D11</text>
<text x="221.79999999999998" y="552.3" font-size="9.7" text-anchor="middle" fill="#111" stroke="#111" stroke-width="0.18">D16</text>
<text x="332.2" y="552.3" font-size="9.7" text-anchor="middle" fill="#111" stroke="#111" stroke-width="0.18">D24</text>
<text x="444.09999999999997" y="552.3" font-size="9.7" text-anchor="middle" fill="#111" stroke="#111" stroke-width="0.18">D36</text>
<text x="62.8" y="678.1" font-size="10.0" text-anchor="end" fill="#111" stroke="#111" stroke-width="0.18" textLength="40.0" lengthAdjust="spacingAndGlyphs">cHE-LC12</text>
<text x="109.89999999999999" y="635.3" font-size="9.7" text-anchor="middle" fill="#111" stroke="#111" stroke-width="0.18">D7</text>
<text x="221.79999999999998" y="635.3" font-size="9.7" text-anchor="middle" fill="#111" stroke="#111" stroke-width="0.18">D15</text>
<text x="332.2" y="635.3" font-size="9.7" text-anchor="middle" fill="#111" stroke="#111" stroke-width="0.18">D46</text>
<text x="444.09999999999997" y="635.3" font-size="9.7" text-anchor="middle" fill="#111" stroke="#111" stroke-width="0.18">D67</text>
<text x="62.8" y="760.2" font-size="10.0" text-anchor="end" fill="#111" stroke="#111" stroke-width="0.18" textLength="31.4" lengthAdjust="spacingAndGlyphs">N-LC13</text>
<text x="109.89999999999999" y="717.4" font-size="9.7" text-anchor="middle" fill="#111" stroke="#111" stroke-width="0.18">D7</text>
<text x="221.79999999999998" y="717.4" font-size="9.7" text-anchor="middle" fill="#111" stroke="#111" stroke-width="0.18">D14</text>
<text x="332.2" y="717.4" font-size="9.7" text-anchor="middle" fill="#111" stroke="#111" stroke-width="0.18">D65</text>
<text x="444.09999999999997" y="717.4" font-size="9.7" text-anchor="middle" fill="#111" stroke="#111" stroke-width="0.18">D76</text>
</g>
<defs>
<filter id="b2" x="-50%" y="-50%" width="200%" height="200%"><feGaussianBlur stdDeviation="2"/></filter>
<filter id="b4" x="-50%" y="-50%" width="200%" height="200%"><feGaussianBlur stdDeviation="4"/></filter>
<filter id="b8" x="-60%" y="-60%" width="220%" height="220%"><feGaussianBlur stdDeviation="8"/></filter>
<filter id="nw" x="0" y="0" width="100%" height="100%"><feTurbulence type="fractalNoise" baseFrequency="0.55" numOctaves="2" seed="3"/><feColorMatrix values="0 0 0 0 1  0 0 0 0 1  0 0 0 0 1  4.5 0 0 0 -2.2"/></filter>
<filter id="nw2" x="0" y="0" width="100%" height="100%"><feTurbulence type="fractalNoise" baseFrequency="0.35" numOctaves="2" seed="11"/><feColorMatrix values="0 0 0 0 1  0 0 0 0 1  0 0 0 0 1  0 5 0 0 -2.6"/></filter>
<filter id="nk" x="0" y="0" width="100%" height="100%"><feTurbulence type="fractalNoise" baseFrequency="0.5" numOctaves="2" seed="7"/><feColorMatrix values="0 0 0 0 0  0 0 0 0 0  0 0 0 0 0  0 0 4.5 0 -2.2"/></filter>
<filter id="ng" x="0" y="0" width="100%" height="100%"><feTurbulence type="fractalNoise" baseFrequency="0.8" numOctaves="2" seed="5"/><feColorMatrix values="1.6 0 0 0 -0.3  1.6 0 0 0 -0.3  1.6 0 0 0 -0.3  0 0 0 0 1"/></filter>
<filter id="nf" x="0" y="0" width="100%" height="100%"><feTurbulence type="fractalNoise" baseFrequency="1.1" numOctaves="1" seed="9"/><feColorMatrix values="0 0 0 0 1  0 0 0 0 1  0 0 0 0 1  6 0 0 0 -3.3"/></filter>
<filter id="nfk" x="0" y="0" width="100%" height="100%"><feTurbulence type="fractalNoise" baseFrequency="1.0" numOctaves="1" seed="21"/><feColorMatrix values="0 0 0 0 0  0 0 0 0 0  0 0 0 0 0  0 6 0 0 -3.3"/></filter>
<radialGradient id="vg" cx="0.5" cy="0.5" r="0.75"><stop offset="0.45" stop-color="#000" stop-opacity="0"/><stop offset="1" stop-color="#000" stop-opacity="1"/></radialGradient>
</defs>
<clipPath id="cd00"><rect x="290.1" y="310.1" width="90.8" height="67.4"/></clipPath>
<g clip-path="url(#cd00)">
<rect x="289.1" y="309.1" width="92.8" height="70.2" fill="#5a63a6"/>
<ellipse cx="312.8" cy="352.4" rx="21.8" ry="21.8" fill="#b09cc0" opacity="0.65" filter="url(#b4)"/>
<ellipse cx="371.8" cy="355.1" rx="12.7" ry="21.8" fill="#b09cc0" opacity="0.7" filter="url(#b4)"/>
<ellipse cx="331.0" cy="330.6" rx="12.7" ry="9.5" fill="#8c86b8" opacity="0.45" filter="url(#b4)"/>
<ellipse cx="344.6" cy="347.6" rx="10.9" ry="8.2" fill="#8c86b8" opacity="0.35" filter="url(#b4)"/>
<ellipse cx="307.4" cy="362.6" rx="7.3" ry="6.8" fill="#94646a" opacity="0.9" filter="url(#b2)"/>
<ellipse cx="375.9" cy="356.5" rx="5.0" ry="8.9" fill="#8c5e62" opacity="0.9" filter="url(#b2)"/>
<rect x="290.1" y="310.1" width="90.8" height="68.2" filter="url(#nf)" opacity="0.3"/>
<path d="M313.3 343.9h0M371.9 312.2h0M309.8 338.9h0M310.2 340.0h0M331.8 329.9h0M365.5 355.8h0M336.0 350.3h0M312.1 364.5h0M305.8 347.5h0M325.8 343.5h0M306.2 350.0h0M297.7 311.2h0M346.8 333.6h0M304.6 346.1h0M314.9 358.6h0M319.3 342.4h0M325.2 338.8h0M309.1 351.4h0M378.7 364.5h0M310.4 354.3h0M327.9 327.3h0M377.5 349.0h0M308.8 356.1h0M317.0 344.2h0M369.2 371.5h0M302.4 347.7h0M374.1 341.3h0M361.6 366.6h0M379.8 338.8h0M378.2 372.1h0M313.1 342.6h0M349.3 312.8h0M330.9 331.5h0M318.0 326.9h0M291.9 326.7h0M334.9 368.9h0M335.6 364.3h0M379.5 366.1h0M316.7 371.1h0M306.3 339.6h0M327.9 349.0h0M313.6 366.6h0M326.5 351.9h0M315.1 354.2h0M318.4 357.3h0M377.3 349.1h0M305.1 359.9h0M374.0 376.3h0M363.0 339.6h0M312.6 361.2h0M307.3 340.0h0M314.9 350.0h0M378.5 347.3h0M367.8 362.6h0M324.9 329.5h0M322.5 346.1h0M330.3 340.8h0M379.8 330.9h0M364.1 351.4h0M314.1 358.4h0M334.1 342.0h0M322.4 354.9h0M326.6 357.1h0M354.3 367.6h0M371.8 352.6h0M307.3 352.8h0M311.9 359.1h0M321.2 367.2h0M335.0 335.9h0M311.1 366.0h0M320.1 350.6h0M370.0 361.8h0M372.4 312.5h0M300.8 316.3h0M366.9 355.3h0M341.0 345.7h0M322.2 338.2h0M354.4 370.3h0M317.7 339.1h0M299.6 354.6h0M323.7 345.6h0M321.5 349.3h0M364.1 354.5h0M317.2 334.1h0M373.8 364.8h0M347.5 346.0h0M305.8 368.9h0M368.7 371.0h0M362.4 350.0h0M367.4 341.4h0M317.3 357.2h0M327.2 353.1h0M317.5 344.6h0M323.9 361.2h0M320.7 341.2h0M322.3 338.4h0M313.5 345.1h0M378.3 358.9h0M299.5 347.8h0M315.4 342.8h0M300.6 368.3h0M325.2 371.8h0M371.4 347.3h0M374.2 376.2h0M307.8 348.3h0M377.3 346.4h0M303.6 338.3h0M323.5 342.2h0M353.1 346.6h0M319.7 357.2h0M334.9 332.6h0M302.8 327.6h0M344.7 345.5h0M360.0 356.6h0M297.1 359.5h0M318.9 328.5h0M374.9 353.6h0M371.7 353.3h0M295.0 344.8h0M309.6 339.7h0M333.1 337.6h0M324.0 354.7h0M303.0 370.1h0M366.5 367.9h0M324.8 340.1h0M362.7 351.3h0M293.5 358.1h0M362.9 366.0h0M324.9 367.0h0M378.2 354.9h0M374.3 367.4h0M324.3 317.5h0M338.9 336.8h0M306.0 350.0h0M325.2 348.3h0M315.3 338.4h0M379.6 358.4h0M313.3 333.9h0M369.3 349.5h0M297.1 363.7h0M316.0 355.2h0M322.5 367.3h0M298.1 366.5h0M308.4 362.2h0M333.9 351.9h0M299.0 366.8h0M340.9 341.1h0M309.6 366.2h0M374.0 372.0h0M307.4 344.9h0M379.2 363.1h0M380.0 367.1h0M372.7 342.6h0M323.5 347.7h0M367.4 351.6h0M342.2 352.3h0M333.7 360.4h0M323.1 361.1h0M310.1 373.7h0M297.8 365.8h0M328.8 342.4h0M354.4 333.5h0M376.5 366.9h0M363.3 351.5h0M318.3 351.3h0M329.8 353.9h0M357.5 331.0h0M320.8 350.3h0M369.1 324.3h0M316.8 338.8h0M332.0 369.2h0M335.3 356.2h0M369.1 361.1h0M378.9 314.8h0M320.3 311.4h0M309.2 370.6h0M306.1 371.9h0M362.3 370.0h0M365.7 320.3h0M310.1 329.6h0M328.5 327.1h0M374.6 361.6h0M305.7 368.5h0M373.3 367.7h0M379.5 359.6h0M301.0 374.8h0M314.7 352.0h0M319.8 337.6h0M323.6 370.8h0M322.4 339.6h0M308.7 362.1h0M333.7 312.6h0M323.4 348.2h0M370.9 349.2h0M327.8 315.0h0M349.9 368.7h0M312.2 359.9h0M379.8 377.9h0M318.1 347.9h0M331.7 347.8h0M324.6 354.8h0M330.3 367.1h0M378.7 340.8h0M373.0 363.0h0M340.6 364.6h0M330.2 370.7h0M332.4 344.7h0M310.5 365.4h0M331.3 369.9h0M318.5 361.5h0M325.9 346.7h0M377.3 351.3h0M366.4 325.3h0M298.6 337.9h0M378.5 374.4h0M304.5 376.3h0M302.5 334.6h0M311.4 344.0h0M370.7 359.1h0M293.9 366.0h0M300.1 337.4h0M346.1 348.8h0M364.1 365.9h0M368.2 357.5h0M372.3 363.2h0M329.8 320.2h0M368.7 335.3h0M299.7 371.9h0M315.2 352.4h0M331.5 350.0h0M296.0 341.6h0M294.0 348.0h0M302.3 349.5h0M292.1 351.8h0M306.9 362.5h0M368.9 332.1h0M313.5 357.2h0M371.7 363.4h0M318.4 363.1h0M352.7 336.1h0M370.6 357.9h0M329.4 347.9h0M314.7 350.7h0M375.8 371.6h0M331.3 361.3h0M292.6 349.8h0M366.5 326.0h0M363.0 338.1h0M345.6 333.8h0M318.1 346.8h0M367.3 368.5h0M367.7 352.5h0M372.6 324.5h0M309.5 351.5h0M314.1 333.9h0M372.4 352.6h0M366.2 374.9h0M313.6 347.1h0M306.4 342.8h0M372.0 324.3h0M296.0 357.1h0M327.4 336.7h0M377.0 372.1h0M371.9 352.8h0M375.9 341.1h0M370.7 356.3h0M374.8 312.4h0M346.2 356.6h0M370.6 358.1h0M291.9 354.9h0M362.8 327.3h0M325.0 321.9h0M375.1 336.6h0M308.7 374.7h0M330.4 350.3h0M373.4 348.0h0M306.1 310.7h0M315.4 359.2h0M299.7 337.1h0M372.3 357.5h0M370.3 363.8h0M321.7 337.7h0M374.4 365.2h0M371.8 355.3h0M363.1 360.5h0M374.6 365.2h0M291.5 349.3h0M298.0 369.5h0M376.1 363.6h0M370.5 374.1h0M311.0 367.4h0M301.7 355.7h0M346.8 317.7h0M316.9 345.2h0M309.0 367.1h0M298.3 364.6h0M310.0 339.2h0M373.9 371.6h0M362.6 357.7h0M321.2 350.2h0" stroke="#ecd6e0" stroke-width="0.9" stroke-linecap="round" fill="none" opacity="0.85"/>
<path d="M375.9 361.5h0M321.5 329.4h0M312.9 354.3h0M316.4 364.6h0M375.5 366.9h0M305.4 370.5h0M337.3 312.3h0M309.1 364.1h0M376.8 356.8h0M309.9 363.2h0M313.2 324.3h0M290.3 336.1h0M304.8 357.6h0M327.0 311.3h0M326.0 338.4h0M367.5 355.4h0M303.5 353.2h0M368.2 346.7h0M304.9 354.1h0M367.9 343.1h0M342.8 319.8h0M313.7 363.0h0M325.7 370.7h0M341.7 358.2h0M324.9 356.9h0M375.7 348.5h0M301.7 359.1h0M314.5 365.4h0M307.7 362.2h0M308.6 356.6h0M297.3 346.1h0M380.0 369.0h0M315.8 366.9h0M310.7 339.0h0M366.1 343.7h0M308.6 357.7h0M317.3 324.5h0M376.1 373.7h0M293.3 367.9h0M312.9 344.5h0M366.2 335.1h0M380.1 361.9h0M298.2 346.1h0M339.2 338.0h0M326.4 367.5h0M320.3 376.0h0M312.6 345.4h0M302.2 339.2h0M297.3 377.6h0M306.7 325.0h0M308.7 364.3h0M322.5 371.0h0M374.2 351.7h0M313.0 336.8h0M319.7 345.3h0" stroke="#ecd4dc" stroke-width="2.0" stroke-linecap="round" fill="none" opacity="0.9"/>
<path d="M375.9 361.5h0M321.5 329.4h0M312.9 354.3h0M316.4 364.6h0M375.5 366.9h0M305.4 370.5h0M337.3 312.3h0M309.1 364.1h0M376.8 356.8h0M309.9 363.2h0M313.2 324.3h0M290.3 336.1h0M304.8 357.6h0M327.0 311.3h0M326.0 338.4h0M367.5 355.4h0M303.5 353.2h0M368.2 346.7h0M304.9 354.1h0M367.9 343.1h0M342.8 319.8h0M313.7 363.0h0M325.7 370.7h0M341.7 358.2h0M324.9 356.9h0M375.7 348.5h0M301.7 359.1h0M314.5 365.4h0M307.7 362.2h0M308.6 356.6h0M297.3 346.1h0M380.0 369.0h0M315.8 366.9h0M310.7 339.0h0M366.1 343.7h0M308.6 357.7h0M317.3 324.5h0M376.1 373.7h0M293.3 367.9h0M312.9 344.5h0M366.2 335.1h0M380.1 361.9h0M298.2 346.1h0M339.2 338.0h0M326.4 367.5h0M320.3 376.0h0M312.6 345.4h0M302.2 339.2h0M297.3 377.6h0M306.7 325.0h0M308.7 364.3h0M322.5 371.0h0M374.2 351.7h0M313.0 336.8h0M319.7 345.3h0" stroke="#9a80a8" stroke-width="0.84" stroke-linecap="round" fill="none" opacity="0.9"/>
<path d="M314.2 350.3h0M312.6 342.1h0M367.0 346.4h0M311.8 346.0h0M292.3 347.2h0M320.3 360.0h0M293.5 353.5h0M318.0 336.4h0M375.9 376.1h0M317.0 368.9h0M332.1 315.8h0M378.0 359.3h0M310.2 373.0h0M325.2 335.6h0M296.3 345.0h0M329.7 334.9h0M372.8 327.0h0M292.8 339.4h0M324.6 364.4h0M303.7 360.7h0M373.6 377.3h0M364.3 371.2h0M363.0 321.5h0M368.1 336.6h0M312.8 353.2h0M294.8 370.7h0M369.2 332.6h0M337.8 342.5h0M351.7 366.6h0M318.1 354.5h0M301.5 355.3h0M325.8 355.8h0M335.7 317.0h0M344.6 324.5h0M380.1 352.7h0M335.4 373.0h0M371.7 353.9h0M299.2 362.2h0M326.0 376.0h0M316.8 342.1h0M370.0 350.7h0M370.3 367.3h0M375.3 357.5h0M322.2 358.0h0M370.4 367.4h0M316.8 341.7h0M328.9 369.2h0M309.9 360.7h0M365.4 363.4h0M326.3 340.0h0M370.5 357.9h0M305.5 338.7h0M314.6 352.2h0M355.4 341.4h0M313.1 346.3h0M308.8 336.1h0M304.1 343.8h0M295.6 358.1h0M357.3 343.4h0M364.9 361.0h0M323.9 366.1h0M315.5 320.0h0M324.5 340.4h0M310.0 362.6h0M332.8 339.2h0M375.7 333.6h0M332.6 341.8h0M299.3 354.1h0M302.9 376.8h0M290.5 332.4h0" stroke="#3a3c78" stroke-width="0.9" stroke-linecap="round" fill="none" opacity="0.6"/>
<text x="295.3" y="316.8" font-size="3.2" font-weight="bold" fill="#fff" opacity="0.88">MHCC01 HuH7_LA_2,0mm_101_15.04.22</text>
<rect x="370.1" y="374.0" width="8" height="1.4" fill="#fff"/>
<text x="374.1" y="373.2" font-size="2.7" font-weight="bold" text-anchor="middle" fill="#fff">100 µm</text>
</g>
<clipPath id="cd01"><rect x="400.3" y="310.1" width="90.8" height="67.4"/></clipPath>
<g clip-path="url(#cd01)">
<rect x="399.3" y="309.1" width="92.8" height="70.2" fill="#2a6989"/>
<ellipse cx="445.7" cy="320.3" rx="45.4" ry="13.6" fill="#347698" opacity="0.5" filter="url(#b8)"/>
<ellipse cx="427.5" cy="368.1" rx="36.3" ry="17.1" fill="#22587a" opacity="0.5" filter="url(#b8)"/>
<rect x="400.3" y="310.1" width="90.8" height="68.2" filter="url(#nf)" opacity="0.28"/>
<rect x="400.3" y="310.1" width="90.8" height="68.2" filter="url(#nw)" opacity="0.08"/>
<rect x="400.3" y="310.1" width="90.8" height="68.2" filter="url(#nk)" opacity="0.15"/>
<path d="M487.1 374.7h0M408.0 367.1h0M461.1 331.1h0M455.4 349.7h0M439.4 336.9h0M490.6 374.8h0M440.7 328.4h0M402.8 341.8h0M434.8 370.9h0M451.2 326.2h0M429.8 319.4h0M491.0 356.1h0M481.4 364.4h0M482.6 362.1h0M432.4 377.0h0M414.9 361.5h0M442.2 346.3h0M484.3 344.3h0M432.4 370.3h0M442.2 348.8h0M466.0 343.3h0M429.8 357.8h0M482.7 328.4h0M428.4 375.4h0M446.1 345.4h0M453.7 331.4h0M446.8 373.8h0M407.1 366.1h0M482.7 323.2h0M405.6 354.6h0M420.9 369.8h0M447.7 368.3h0M419.4 370.2h0M465.4 312.3h0M415.9 356.0h0M487.0 311.8h0" stroke="#e6f2f4" stroke-width="1.3" stroke-linecap="round" fill="none" opacity="0.9"/>
<text x="405.5" y="316.8" font-size="3.2" font-weight="bold" fill="#fff" opacity="0.88">HuH7_Lasu_110502</text>
<rect x="480.3" y="374.0" width="8" height="1.4" fill="#fff"/>
<text x="484.3" y="373.2" font-size="2.7" font-weight="bold" text-anchor="middle" fill="#fff">100 µm</text>
</g>
<clipPath id="cd10"><rect x="290.1" y="388.9" width="90.8" height="68.2"/></clipPath>
<g clip-path="url(#cd10)">
<rect x="289.1" y="387.9" width="92.8" height="70.2" fill="#3f4188"/>
<path d="M311.7 426.0h0M344.9 431.6h0M291.3 446.0h0M311.4 456.8h0M366.1 421.4h0M303.8 432.2h0M337.6 439.5h0M295.9 440.6h0M317.5 391.0h0M333.0 437.9h0M354.9 451.7h0M362.8 419.2h0M369.9 395.5h0M309.8 454.7h0M347.0 409.4h0M325.1 412.8h0M343.2 450.6h0M374.4 447.3h0M351.1 400.0h0M377.7 450.6h0M342.2 408.3h0M367.6 456.4h0M362.8 416.9h0M316.8 441.3h0M294.1 430.8h0M355.3 411.5h0M379.1 423.4h0M318.2 394.1h0M292.9 402.4h0M345.5 399.6h0M368.9 410.3h0M371.5 414.7h0M337.3 432.8h0M340.9 431.2h0M336.1 418.3h0M311.7 409.4h0M337.4 426.3h0M327.8 428.5h0M346.0 432.0h0M347.1 420.7h0M322.1 437.1h0M292.1 393.0h0M343.9 410.7h0M318.5 414.1h0M317.4 414.6h0M292.5 427.7h0M318.2 404.1h0M311.8 401.7h0M353.5 395.8h0M320.4 445.7h0M349.1 449.3h0M310.5 397.1h0M307.4 443.9h0M306.8 407.9h0M348.4 443.9h0M301.9 408.8h0M314.7 412.5h0M328.2 416.8h0M304.3 389.2h0M370.0 456.2h0M376.4 452.1h0M357.8 446.0h0M337.2 408.6h0M310.8 393.5h0M316.2 444.2h0M372.1 436.2h0M371.5 450.3h0M291.3 439.7h0M317.3 434.1h0M327.7 452.9h0M321.1 406.1h0M333.4 442.3h0M308.0 425.4h0M305.7 442.9h0M363.3 445.1h0M347.2 447.7h0M314.7 407.2h0M328.5 421.2h0M290.3 392.6h0M301.4 393.6h0M318.8 410.4h0M348.8 428.9h0M307.5 411.3h0M340.5 437.7h0M297.4 401.1h0M345.0 442.3h0M362.8 431.4h0M323.9 422.7h0M328.3 436.2h0M312.4 425.4h0M296.6 417.9h0M370.0 452.8h0M371.6 442.8h0M332.2 397.3h0M350.2 449.4h0M350.7 438.9h0M299.5 429.0h0M303.1 441.7h0M298.4 395.7h0M306.4 390.5h0M301.1 446.5h0M366.0 453.9h0M336.5 437.7h0M358.1 452.6h0M319.5 427.4h0M312.1 401.2h0M346.0 440.3h0M323.5 416.0h0M328.1 394.6h0M378.5 417.1h0M304.7 436.0h0M351.3 424.2h0M348.5 450.1h0M298.8 439.9h0M337.1 419.1h0M307.0 407.1h0M343.3 410.4h0M352.9 453.9h0M354.1 417.1h0M343.2 407.1h0M292.2 421.6h0M305.7 413.5h0M333.6 429.8h0M365.9 444.9h0M333.8 438.1h0M326.4 438.9h0M332.5 404.6h0M355.3 435.0h0M367.6 405.4h0M313.6 401.7h0M368.1 450.3h0M368.7 410.3h0M356.3 394.8h0M342.8 435.0h0M320.5 418.7h0M309.2 428.8h0M325.6 426.0h0M315.0 434.3h0M370.7 450.9h0M375.6 414.4h0M358.9 409.1h0M349.5 443.9h0M358.6 454.5h0M338.8 396.6h0M322.1 437.9h0M341.5 401.3h0M347.4 401.1h0M349.6 397.3h0M302.9 411.5h0M344.3 426.7h0M331.7 410.2h0M296.3 437.7h0M339.4 439.3h0M314.2 415.0h0M293.9 423.3h0M359.9 413.1h0M326.7 425.8h0M322.1 446.7h0M314.7 395.7h0M360.8 438.5h0M307.3 417.3h0M364.2 440.0h0M303.4 416.1h0M338.0 427.7h0M312.8 442.2h0M363.0 449.7h0M324.9 426.6h0M347.6 455.5h0M317.3 447.6h0M344.7 438.5h0M360.1 434.0h0M337.6 420.3h0M338.2 391.4h0M348.8 419.2h0M377.2 449.7h0M362.0 431.4h0M322.8 404.8h0M339.0 452.3h0M369.1 436.3h0M368.0 429.9h0M355.1 439.3h0M363.3 452.4h0M329.8 440.5h0M300.0 391.8h0M308.3 399.9h0M353.6 425.6h0M349.1 409.7h0M358.8 416.3h0M371.8 438.0h0M323.8 425.0h0M310.4 389.1h0M307.8 403.2h0M326.8 400.4h0M300.1 400.4h0M295.5 390.4h0M327.1 436.9h0M326.7 415.9h0M377.8 403.8h0M333.2 400.1h0M321.5 397.4h0M356.2 407.7h0M332.4 452.5h0M312.8 407.0h0M347.2 412.4h0M352.1 455.0h0M290.4 391.0h0M305.6 391.4h0M349.5 450.3h0M378.5 421.4h0M373.4 453.0h0M317.8 430.3h0M298.1 408.9h0M300.5 415.5h0M351.8 452.2h0M357.3 439.0h0M340.3 451.9h0M327.8 404.5h0M333.7 407.3h0M355.5 430.2h0M325.2 422.1h0M359.0 435.1h0M311.6 446.4h0M369.9 448.4h0M371.5 438.9h0M323.7 393.8h0M300.1 394.4h0M312.0 392.2h0M348.6 428.8h0M311.0 454.9h0M341.2 417.5h0M345.0 442.7h0M307.2 401.0h0M365.1 396.6h0M297.9 420.6h0M365.4 430.9h0M359.2 448.3h0M344.9 419.3h0M366.0 429.4h0M308.8 425.7h0M334.1 393.8h0M356.9 417.7h0M345.1 403.5h0M380.5 411.8h0M297.7 403.8h0M374.6 438.4h0M379.7 430.6h0M338.7 417.5h0M372.1 453.7h0M360.3 416.7h0M306.9 395.4h0M316.8 424.3h0M293.8 439.7h0M329.4 412.4h0M357.9 408.5h0M317.3 416.9h0M304.0 440.9h0M378.8 455.7h0M323.9 399.9h0M332.2 424.8h0M322.8 447.1h0M332.2 449.4h0M317.1 405.4h0M291.0 397.9h0M338.8 400.2h0M308.6 441.4h0M379.0 442.5h0M293.3 401.5h0M329.4 412.0h0M339.7 395.3h0M312.5 443.6h0M313.7 391.9h0M347.1 435.0h0M363.5 405.8h0M359.0 442.7h0M365.6 426.5h0M305.4 390.1h0M371.5 450.7h0M350.5 452.2h0M344.8 417.2h0M305.6 401.4h0M380.2 426.2h0M322.1 419.9h0M331.2 454.3h0M318.7 424.5h0M367.4 445.3h0M345.7 391.0h0M340.0 422.2h0M354.5 451.1h0M350.8 414.2h0M371.4 454.4h0M307.8 451.7h0M324.9 445.4h0M314.7 453.7h0M318.9 415.7h0M302.0 406.0h0M297.3 404.6h0M297.3 424.8h0M366.2 431.9h0M290.6 408.1h0M296.4 407.2h0M314.4 426.1h0M311.5 454.2h0M351.4 433.0h0M295.1 440.7h0M307.3 445.0h0M294.5 454.4h0M324.8 396.2h0M379.8 408.0h0M303.3 397.6h0M373.2 394.1h0M375.4 456.9h0M312.4 413.1h0M334.1 436.9h0M292.0 412.5h0M361.1 427.7h0M339.0 419.1h0M374.8 446.8h0M377.6 446.2h0M314.2 402.7h0M378.9 416.8h0M300.5 389.8h0M362.2 456.5h0M337.8 441.1h0M339.2 419.0h0M344.6 410.9h0M324.0 410.6h0M344.7 455.8h0M368.4 445.9h0M378.8 407.3h0M335.6 438.8h0M348.7 408.2h0M331.2 421.5h0M369.5 456.2h0M330.2 431.0h0M328.7 446.7h0M295.5 447.2h0M379.2 413.9h0M339.9 449.2h0M368.9 437.4h0M317.4 423.4h0M323.9 433.3h0M343.2 398.9h0M323.8 430.8h0M297.5 410.8h0M292.8 425.6h0M338.6 439.2h0M366.2 451.2h0M352.1 397.1h0M324.4 421.3h0M316.1 401.9h0M344.5 394.7h0M322.0 389.4h0M306.8 407.6h0M336.6 418.4h0M350.0 418.6h0M379.0 436.0h0M330.2 440.3h0M296.1 389.5h0M328.4 449.9h0M320.2 417.5h0M298.1 432.6h0M375.0 424.6h0M297.8 404.7h0M367.9 425.7h0M379.3 434.0h0M308.5 409.3h0M302.2 425.2h0M322.3 441.3h0M368.0 439.2h0M295.5 418.4h0M307.7 448.3h0M364.8 452.8h0M373.1 416.0h0M307.0 391.5h0M325.0 447.0h0M295.3 416.3h0M306.2 406.0h0M353.1 412.1h0M310.1 419.1h0M312.4 436.6h0M351.0 430.5h0M358.3 415.8h0M344.4 431.7h0M295.2 442.6h0M334.6 428.4h0M371.7 435.7h0M364.3 456.2h0M380.5 421.8h0M355.2 412.0h0M343.1 396.2h0M367.4 421.5h0M368.5 419.4h0M343.0 445.1h0M298.6 440.8h0M317.6 449.7h0M339.3 456.3h0M358.0 408.8h0M351.7 439.0h0M333.6 427.6h0M353.4 427.3h0M300.1 426.7h0M307.9 416.7h0M299.8 392.6h0M308.4 423.3h0M299.3 425.6h0M369.0 424.1h0M296.1 407.7h0M333.4 418.5h0M336.5 402.5h0M379.6 442.8h0M378.6 411.2h0M305.1 434.4h0M336.3 414.3h0M357.7 423.3h0M328.9 443.8h0M339.5 428.8h0M294.3 400.5h0M309.3 440.6h0M376.6 446.7h0M323.9 391.9h0M357.8 451.7h0M304.5 455.8h0M334.1 439.3h0M339.5 434.5h0M304.7 398.2h0M370.4 398.3h0M297.6 442.5h0M331.5 456.7h0M314.0 436.7h0M315.7 436.5h0M293.1 424.2h0M325.4 443.8h0M350.7 411.2h0M331.2 443.5h0M311.0 417.3h0M318.8 428.0h0M344.3 408.7h0M292.5 412.0h0M341.8 407.0h0M344.7 434.1h0M337.5 418.0h0M295.8 443.1h0M299.2 452.1h0M346.7 418.8h0M333.7 405.8h0M327.7 389.7h0M290.5 437.2h0M317.8 421.1h0M317.8 398.0h0M298.1 454.7h0M377.6 402.0h0M357.7 425.1h0M336.3 431.9h0M351.3 423.8h0M290.7 393.6h0M374.2 417.7h0M341.0 415.6h0M344.7 390.9h0M357.1 406.5h0M313.4 413.3h0M357.6 454.2h0M308.5 411.9h0M311.9 428.8h0M312.0 401.3h0M306.3 423.1h0M370.3 427.4h0M329.2 391.6h0M358.3 413.7h0M314.8 403.9h0M308.0 430.2h0M333.5 414.7h0M329.4 402.5h0M348.8 437.7h0M307.8 449.7h0M354.8 455.7h0M360.6 450.2h0M344.1 453.5h0M367.8 450.7h0M303.3 403.6h0M328.4 410.4h0M374.4 406.2h0M376.3 410.5h0M378.7 408.1h0M370.7 405.5h0M320.3 409.6h0M339.3 427.1h0M336.2 409.2h0M374.9 440.3h0M296.5 406.0h0M304.2 454.9h0M373.1 426.9h0M328.9 392.7h0M314.2 408.6h0M308.3 451.8h0M350.5 396.2h0M326.3 412.4h0M344.0 406.0h0M342.4 390.6h0M321.3 400.5h0M300.4 410.5h0M327.0 411.7h0M334.3 442.0h0M359.8 421.8h0M305.6 446.7h0M324.8 424.1h0M324.2 413.6h0M291.1 426.1h0M335.1 419.7h0M300.5 448.0h0M362.3 406.7h0M339.2 446.1h0M369.7 455.7h0M324.5 396.2h0M331.1 439.6h0M380.8 435.1h0M339.9 394.4h0M298.4 394.7h0M315.6 434.1h0M309.2 437.7h0M336.5 452.8h0M354.1 439.6h0M359.7 436.5h0M307.5 425.5h0M309.8 428.9h0M367.0 419.3h0M350.9 398.2h0M362.7 447.5h0M311.4 400.2h0M329.9 415.5h0M353.5 410.6h0M359.7 441.9h0M296.8 452.2h0M344.1 416.5h0M329.2 403.7h0M322.0 429.9h0M376.1 433.2h0M350.1 429.9h0M335.1 424.6h0M317.2 446.8h0M334.1 419.1h0M308.5 406.8h0M341.1 428.2h0M306.3 402.5h0M331.4 427.5h0M350.0 444.3h0M290.2 418.9h0M294.1 442.8h0M316.7 431.5h0M335.2 447.5h0M321.3 393.3h0M323.1 425.5h0M290.7 391.5h0M298.6 447.0h0M311.8 437.4h0M295.7 440.1h0M380.7 398.6h0M312.7 447.7h0M342.7 399.1h0M366.5 452.4h0M346.2 455.4h0M317.8 397.3h0M326.1 448.8h0M352.5 446.5h0M314.2 414.0h0M351.0 448.9h0M374.4 436.4h0M336.2 439.9h0M323.7 413.1h0M310.8 449.1h0M349.0 422.0h0M341.9 421.2h0M370.4 428.9h0M365.8 456.5h0M325.7 403.0h0M309.2 440.5h0M365.1 413.2h0M372.2 434.1h0M341.0 418.6h0M337.0 408.4h0M370.5 440.6h0M307.7 438.8h0M349.4 403.5h0M337.6 414.4h0M330.8 433.1h0M375.9 433.7h0M346.7 428.7h0M346.3 397.5h0M313.5 452.4h0M333.0 440.4h0M337.6 399.9h0M359.5 440.7h0M334.4 392.9h0M370.7 431.5h0M364.0 413.1h0M326.5 394.2h0M296.6 406.2h0M300.6 426.0h0M343.7 412.6h0M365.1 428.4h0M319.4 416.7h0M378.3 389.0h0M310.6 443.0h0M305.5 441.1h0M378.8 420.0h0M327.8 404.1h0M354.0 427.2h0M298.0 412.8h0M335.5 399.4h0M348.6 407.8h0M295.6 448.2h0M364.8 413.1h0M305.7 431.6h0M300.1 442.3h0M367.8 446.0h0M369.6 436.5h0M328.8 390.6h0M312.8 420.3h0M378.2 428.2h0M377.1 407.1h0M362.7 449.6h0M327.2 430.0h0M311.4 417.5h0M298.2 452.2h0M364.4 454.0h0M353.6 408.8h0M300.0 449.2h0M295.7 453.1h0M296.3 406.6h0M315.6 437.3h0M347.4 447.1h0M355.0 415.1h0M304.3 426.2h0M357.3 410.8h0M339.7 431.7h0M313.4 435.9h0M351.1 454.7h0M377.4 430.8h0M337.9 440.2h0M307.8 424.2h0M332.2 433.9h0M362.3 444.3h0M353.9 431.7h0M290.3 400.7h0M323.9 437.0h0M326.2 418.8h0M379.6 425.3h0M317.7 437.4h0M357.6 448.9h0M377.9 430.5h0M332.3 395.5h0M366.2 437.4h0M304.8 396.3h0M335.1 437.4h0M357.0 428.7h0M307.2 391.8h0M337.3 430.7h0M374.5 442.4h0M290.5 454.4h0M299.6 401.0h0M306.1 414.3h0M322.1 433.5h0M362.1 431.7h0M318.2 432.6h0M343.4 422.4h0M308.7 437.6h0M293.4 406.1h0M297.6 444.7h0M296.4 431.8h0M367.2 409.5h0M303.9 440.6h0M296.8 396.8h0M312.5 410.9h0M340.2 417.1h0M321.0 421.4h0M312.2 400.8h0M318.8 449.7h0M324.0 411.6h0M369.4 419.1h0M306.1 404.3h0M302.0 426.7h0M337.4 423.2h0M307.5 444.9h0M341.3 406.1h0M308.4 400.6h0M365.6 427.9h0M379.8 442.9h0M297.0 447.0h0M291.1 442.7h0M294.4 419.9h0M320.3 409.6h0M330.2 457.0h0M368.1 437.1h0M352.5 428.4h0M341.5 409.7h0M372.9 413.9h0M378.8 423.7h0M320.9 399.1h0M317.7 450.1h0M330.4 397.7h0M337.5 413.8h0M309.8 410.1h0M367.7 427.9h0M380.6 396.3h0M291.6 418.9h0M315.7 408.4h0M297.1 390.1h0M298.1 424.9h0M344.7 447.0h0M314.9 431.4h0M295.3 405.3h0M336.0 407.6h0M313.3 450.6h0M310.2 394.2h0M309.7 449.1h0M330.3 454.4h0M336.0 406.5h0M309.4 405.3h0M344.9 419.3h0M345.8 435.6h0M366.7 420.5h0M377.1 440.5h0M292.3 418.7h0M324.1 395.6h0M313.2 440.9h0M316.7 445.2h0M297.8 408.0h0M329.1 450.9h0M349.3 399.4h0M308.6 414.3h0M292.1 422.3h0M350.1 445.3h0M344.8 407.4h0M347.8 392.5h0M335.7 401.4h0M364.9 412.7h0M315.9 424.4h0M322.0 410.9h0M335.9 429.8h0M343.7 409.9h0M321.4 396.5h0M372.6 442.6h0M378.9 426.8h0M349.4 447.5h0M317.7 403.1h0M343.6 413.0h0M367.2 435.7h0M353.2 402.2h0M301.7 450.5h0M315.3 401.9h0M332.2 436.4h0M369.6 418.2h0M357.2 430.3h0M316.7 420.7h0M313.3 445.2h0M297.9 446.7h0M338.2 429.0h0M319.0 441.4h0M367.0 410.0h0M317.7 440.0h0M344.8 410.8h0M375.7 405.1h0M374.6 454.6h0M360.5 452.3h0M336.3 421.1h0M349.3 436.7h0M294.2 395.1h0M380.6 439.6h0M376.4 447.0h0M364.5 437.4h0M373.2 418.2h0M318.5 389.8h0M343.7 407.7h0M298.7 413.3h0M343.8 453.2h0M313.3 394.1h0M347.5 433.7h0M290.3 450.5h0M347.2 416.4h0M317.5 407.8h0M355.9 420.0h0M322.4 427.6h0M343.9 446.4h0M362.9 409.6h0M375.5 425.0h0M297.9 440.5h0M355.9 423.5h0M300.6 429.7h0M308.8 430.5h0M349.1 412.8h0M356.6 452.2h0M326.5 439.7h0M324.2 440.4h0M308.3 388.9h0M358.4 391.8h0M319.0 403.1h0M307.3 428.8h0M321.8 447.2h0M336.6 434.3h0M307.0 453.9h0M339.6 422.7h0M316.9 393.9h0M324.0 457.0h0M314.8 403.4h0M379.0 443.8h0M339.4 442.3h0M376.7 428.1h0M307.2 433.3h0M373.4 432.7h0M303.9 424.7h0M373.3 450.4h0M335.7 455.7h0M296.5 401.3h0M319.6 437.2h0M362.6 436.8h0M364.3 430.8h0M339.5 396.3h0M374.8 411.8h0M369.4 435.6h0M332.8 423.5h0M308.2 399.7h0M337.9 393.8h0M299.3 415.2h0M333.2 398.8h0M323.0 445.5h0M319.8 446.2h0M336.9 432.5h0M376.6 447.2h0M301.8 407.3h0M306.5 449.7h0M352.7 436.2h0M337.2 431.8h0M338.4 431.7h0M315.9 400.8h0M344.3 422.1h0M308.4 423.6h0M308.1 419.9h0M324.2 441.6h0M376.3 394.6h0M296.0 454.4h0M329.4 395.6h0M380.3 435.8h0M341.7 410.1h0M317.7 399.1h0M294.4 391.7h0M367.1 444.5h0M331.0 425.9h0M317.7 423.8h0M366.5 412.7h0M326.8 449.2h0M347.0 397.9h0M346.8 395.9h0M343.4 415.4h0M358.7 429.5h0M341.7 439.4h0M314.7 433.2h0M332.1 450.0h0M340.2 427.7h0M306.8 434.5h0M338.5 419.7h0M368.0 456.0h0M372.7 421.1h0M293.8 447.5h0M315.3 409.7h0M316.3 408.6h0M322.8 440.5h0M374.7 414.5h0M356.6 438.3h0M307.6 440.6h0M322.0 434.4h0M361.3 450.2h0M300.5 436.0h0M302.9 430.5h0M309.9 390.8h0M367.2 428.9h0M371.5 433.2h0M306.0 418.8h0M313.8 434.9h0M313.6 400.7h0M354.6 434.3h0M371.5 440.6h0M357.8 434.2h0M305.3 414.6h0M358.3 409.6h0M296.9 429.7h0M359.8 447.6h0M379.6 404.0h0M303.3 451.0h0M377.8 443.9h0M360.4 413.2h0M328.8 436.7h0M341.0 427.6h0M332.8 417.6h0M331.9 438.8h0M306.2 391.5h0M367.2 429.8h0M375.0 444.9h0M310.3 425.6h0M344.2 394.3h0M355.7 406.3h0M345.8 449.5h0M334.5 406.5h0M376.7 403.8h0M374.8 425.5h0M373.5 438.8h0M315.8 433.7h0M310.6 405.9h0M295.5 443.8h0M303.8 428.4h0M298.2 418.2h0M331.4 438.5h0M380.7 434.5h0M291.1 413.2h0M330.0 401.0h0M317.9 398.8h0M335.8 398.1h0M376.3 438.1h0M300.0 434.0h0M375.0 422.7h0M360.6 397.9h0M363.7 444.8h0M292.3 390.6h0M353.2 414.4h0M378.9 448.2h0M330.0 430.3h0M362.1 433.9h0M294.6 401.1h0M373.7 421.1h0M307.1 406.2h0M316.2 443.1h0M319.2 435.4h0M369.9 436.4h0M328.9 415.8h0M379.8 453.3h0M334.9 393.8h0M345.5 417.0h0M332.8 437.2h0M314.2 423.8h0M290.7 393.2h0M354.5 414.9h0M312.2 402.2h0M310.8 455.8h0M306.5 390.2h0M336.9 442.2h0M339.4 392.5h0M312.6 404.9h0M343.5 433.6h0M313.4 389.6h0M354.7 397.1h0M358.3 437.3h0M379.8 437.8h0M319.2 454.8h0M347.9 455.9h0M306.1 397.8h0M301.0 449.3h0M333.3 414.1h0M329.8 438.4h0M368.8 446.6h0M366.4 413.2h0M309.3 445.1h0M322.9 444.6h0M290.7 417.9h0M300.3 415.7h0M370.3 451.8h0M296.8 413.8h0M292.7 442.1h0M360.9 435.0h0M321.2 419.6h0M291.1 417.7h0M313.2 442.6h0M327.4 390.6h0M314.0 395.7h0M370.7 424.3h0M304.3 390.8h0M307.6 439.9h0M353.3 425.3h0M341.8 433.5h0M293.4 407.3h0M378.8 419.4h0M354.6 407.5h0M366.8 421.8h0M337.3 427.6h0M314.7 421.2h0M299.5 442.6h0M340.9 416.9h0M331.3 414.2h0M376.2 413.9h0M349.9 389.3h0M341.0 444.8h0M294.8 454.9h0M328.1 423.8h0M322.4 405.4h0M324.2 398.8h0M336.7 439.0h0M350.6 451.1h0M375.6 420.5h0M326.0 418.7h0M344.8 392.5h0M338.7 412.1h0M364.1 411.1h0M323.4 401.4h0M365.1 450.6h0M313.0 424.9h0M322.9 389.4h0M374.8 441.2h0M346.0 391.7h0M345.7 438.0h0M329.6 444.5h0M297.1 396.8h0M315.3 393.2h0M301.9 418.0h0M311.3 417.7h0M369.0 448.1h0M378.4 427.1h0M292.9 394.2h0M345.4 428.8h0M299.9 438.4h0M376.8 431.6h0M302.1 451.2h0M309.0 417.6h0M319.4 421.0h0M312.5 397.0h0M354.8 435.2h0M349.8 445.9h0M306.7 391.8h0M354.5 407.5h0M342.8 431.9h0M350.8 415.0h0M319.6 439.1h0M316.6 394.0h0M358.7 413.2h0M366.7 418.5h0M357.9 423.5h0M365.9 445.1h0M325.0 444.1h0M349.3 403.7h0M296.8 447.6h0M341.8 446.3h0M367.8 417.9h0M379.6 409.7h0M327.3 419.0h0M339.6 442.1h0M305.3 425.2h0M343.7 412.2h0M362.1 411.6h0M357.1 423.7h0M320.7 427.7h0M371.8 412.9h0M309.5 408.7h0M374.4 395.4h0M332.6 437.3h0M301.1 415.5h0M303.1 397.2h0M290.1 394.3h0M365.9 412.7h0M339.2 449.7h0M307.7 416.3h0M302.2 418.6h0M296.0 411.5h0M372.8 389.7h0M345.8 404.6h0M321.1 456.5h0M322.2 401.2h0M360.3 437.7h0M337.0 452.6h0M339.8 454.1h0M333.1 443.1h0M316.8 416.2h0M324.1 412.8h0M297.0 406.7h0M312.7 443.9h0M318.0 424.1h0M375.8 454.2h0M302.6 451.7h0M337.2 392.9h0M352.6 435.6h0M320.4 407.7h0M328.1 430.7h0M320.8 404.2h0M348.8 404.7h0M366.0 399.0h0M298.3 444.4h0M290.2 408.0h0M333.2 398.9h0M353.3 407.6h0M313.2 390.4h0M315.0 434.0h0M319.2 408.4h0M333.3 392.1h0M318.5 396.5h0M353.3 422.2h0M356.2 414.8h0M348.8 405.3h0M343.8 413.1h0M320.0 398.7h0M345.8 407.6h0M294.4 441.6h0M368.1 449.8h0M310.5 453.2h0M367.0 450.8h0M324.2 450.1h0M299.1 391.5h0M318.0 453.4h0M326.2 437.5h0M365.8 433.2h0M378.0 447.7h0M326.3 425.1h0M313.2 424.3h0M325.3 394.7h0M320.3 421.6h0M340.5 442.1h0M344.9 452.8h0M333.0 411.9h0M301.8 404.2h0M311.7 393.4h0M332.3 419.9h0M321.7 408.5h0M336.1 404.4h0M374.5 449.4h0M338.2 395.5h0M336.7 453.4h0M331.4 443.0h0M343.4 406.8h0M364.8 449.1h0M298.0 433.7h0M317.4 402.6h0M328.4 416.7h0M311.0 447.3h0M352.7 419.1h0M333.5 398.0h0M327.5 402.0h0M352.8 431.8h0M304.9 389.6h0M370.3 422.2h0M319.5 415.2h0M367.0 418.1h0M322.4 405.1h0M372.3 418.7h0M369.1 420.6h0M328.0 394.4h0M299.7 452.8h0M321.2 389.1h0M349.1 395.2h0M295.6 389.8h0M310.6 440.2h0M336.0 452.2h0M318.0 441.7h0M307.1 442.4h0M351.2 450.7h0M353.4 433.8h0M300.2 414.7h0M363.9 448.9h0M320.3 449.9h0M292.0 426.2h0M297.3 419.1h0M306.4 410.8h0M339.5 397.3h0M291.3 410.8h0M307.0 440.4h0M368.2 443.7h0M320.0 445.8h0M326.1 442.6h0M322.4 424.7h0M375.0 448.5h0M348.8 439.1h0M312.2 433.2h0M368.9 443.3h0M318.4 408.0h0M371.9 431.2h0M328.9 400.9h0M379.3 450.8h0M352.5 404.3h0M292.3 390.1h0M379.2 428.3h0M298.4 390.1h0M302.4 411.8h0M310.9 431.5h0M302.4 441.6h0M347.2 408.3h0M291.0 407.3h0M316.7 432.3h0M299.8 417.8h0M293.3 424.9h0M322.7 440.6h0M327.1 409.7h0M359.0 423.8h0M321.1 438.3h0M368.1 409.4h0M368.7 428.9h0M357.9 441.5h0M368.6 431.0h0M305.3 395.4h0M319.2 411.5h0M377.3 427.3h0M291.0 436.4h0M360.7 412.7h0M336.6 442.2h0M365.0 448.2h0M335.6 437.0h0M378.2 452.6h0M352.5 396.1h0M346.3 390.7h0M366.9 442.2h0M326.8 405.5h0M372.5 431.9h0M308.9 394.7h0M367.0 452.0h0M318.8 393.1h0M321.3 415.4h0M356.2 447.4h0M364.3 408.8h0M362.4 395.0h0M380.2 421.0h0M360.2 449.6h0M327.7 415.2h0M296.3 415.6h0M350.1 456.9h0M358.5 428.8h0M360.7 421.9h0M304.5 435.4h0M308.1 404.5h0M347.9 422.8h0M367.2 432.1h0M375.3 446.8h0M354.5 434.8h0M378.8 437.5h0M363.6 418.0h0M298.7 424.5h0M364.7 453.9h0M350.9 416.3h0M310.8 410.5h0M323.5 427.6h0M312.4 390.3h0M311.9 444.5h0M307.5 437.8h0M366.3 425.0h0M353.8 456.9h0M340.5 426.2h0M363.4 417.5h0M341.5 389.7h0M371.6 415.9h0M340.8 440.2h0M297.7 432.0h0M339.6 444.5h0M323.6 447.3h0M373.2 425.8h0M353.0 422.2h0M301.9 454.3h0M293.1 440.2h0M294.4 456.4h0M336.1 437.4h0M321.7 421.5h0M376.6 449.0h0M363.2 421.4h0M372.7 451.8h0M361.4 412.7h0M333.0 450.2h0M364.1 446.3h0M317.2 451.0h0M336.0 394.6h0M370.6 444.3h0M341.0 424.4h0M334.1 450.7h0M367.7 409.6h0M307.4 454.6h0M297.4 428.0h0M354.6 416.6h0M308.6 411.3h0M310.6 391.8h0M339.3 430.3h0M345.6 411.5h0M291.3 441.6h0M342.7 432.4h0M303.2 395.4h0M355.8 425.4h0M329.4 420.3h0M296.4 433.6h0M319.1 432.1h0M376.9 421.1h0M335.7 406.0h0M321.2 399.2h0M355.4 450.5h0M359.8 403.5h0M328.5 417.4h0M355.6 404.5h0M320.3 399.9h0M344.5 407.5h0M345.9 404.4h0M338.6 436.0h0M356.4 406.3h0M377.7 429.6h0M312.1 416.7h0M362.5 415.6h0M322.3 422.4h0M375.9 414.3h0M346.6 403.9h0M330.5 445.3h0M315.8 408.7h0M314.6 425.3h0M293.7 410.9h0M309.2 440.1h0M334.5 417.7h0M290.5 397.2h0M373.5 423.1h0M338.4 456.2h0M369.0 406.4h0M337.9 417.4h0M375.1 438.3h0M311.3 419.0h0M310.0 402.9h0M317.2 396.4h0M376.5 446.0h0M377.0 452.9h0M294.4 411.6h0M333.0 441.5h0M350.3 389.7h0M329.3 412.5h0M309.2 456.8h0M335.3 413.3h0M305.1 452.4h0M369.6 418.0h0M311.5 444.7h0M361.5 433.8h0M379.9 443.6h0M373.8 398.3h0M363.7 412.8h0M364.5 453.1h0M366.6 451.0h0M323.7 451.4h0M371.9 415.0h0M293.3 396.1h0M331.5 438.7h0M356.0 424.6h0M318.7 432.2h0M369.2 438.8h0M299.7 437.1h0M299.0 397.5h0M292.4 408.6h0M313.0 446.9h0M308.3 392.3h0M341.6 441.3h0M293.1 443.3h0M332.2 449.7h0M345.0 415.3h0M376.2 456.0h0M334.3 400.0h0M308.7 430.0h0M367.0 413.9h0M367.1 438.4h0M300.9 397.9h0M335.2 449.8h0M294.4 421.4h0M362.7 444.0h0M300.0 427.3h0M301.1 392.5h0M297.2 418.9h0M352.7 410.4h0M323.7 445.8h0M316.5 404.5h0M326.0 444.4h0M380.2 410.4h0M312.1 422.5h0M363.1 417.8h0M336.0 418.2h0M317.6 434.6h0M344.9 406.4h0M319.6 405.3h0M330.9 408.0h0M374.6 453.6h0M374.4 427.6h0M330.2 434.1h0M354.3 443.2h0M321.4 443.6h0M311.4 400.2h0M312.3 401.2h0M305.2 410.5h0M377.3 393.7h0M373.8 415.0h0M319.1 389.8h0M313.9 432.8h0M379.1 425.2h0M294.6 448.9h0M380.6 436.7h0M357.3 400.3h0M332.9 402.1h0M323.9 406.8h0M379.9 411.5h0M300.0 443.0h0M312.3 416.0h0M351.3 417.7h0M350.7 412.6h0M334.9 447.9h0M314.6 451.2h0M377.2 409.6h0M355.8 449.6h0M314.7 397.7h0M354.1 439.4h0M333.1 441.1h0M351.9 451.5h0M378.5 431.6h0M352.0 409.7h0M364.8 443.9h0M363.4 447.9h0M297.0 453.0h0M330.5 395.8h0M326.7 434.6h0M351.2 393.0h0M332.3 400.0h0M322.8 413.4h0M338.9 443.9h0M335.4 409.2h0M326.2 432.3h0M380.5 436.8h0M356.1 435.6h0M368.6 440.4h0M315.7 447.9h0M325.5 446.0h0M335.3 412.6h0M367.8 417.1h0M314.7 423.3h0M368.9 421.6h0M352.6 406.8h0M296.2 452.0h0M312.4 428.1h0M332.6 453.6h0M342.9 392.0h0M333.4 417.6h0M341.9 449.5h0M374.7 410.7h0M358.4 433.6h0M309.7 421.1h0M350.9 418.4h0M321.7 415.8h0M353.3 390.5h0M298.1 398.6h0M368.5 423.7h0M354.5 425.7h0M290.9 395.5h0M324.1 454.8h0M315.8 403.3h0M339.7 406.4h0M343.0 390.0h0M304.5 440.9h0M316.4 428.8h0M331.5 417.0h0M313.4 427.5h0M341.8 455.1h0M356.9 411.2h0M325.8 448.9h0M294.2 426.2h0M345.1 420.9h0M355.1 405.9h0M306.3 392.9h0M351.4 416.0h0M311.1 406.5h0M377.3 426.1h0M306.5 442.4h0M309.7 395.5h0M359.0 412.7h0M306.9 455.4h0M335.5 452.7h0M317.6 419.2h0M368.1 411.3h0M315.2 419.3h0M339.3 430.9h0M369.0 424.4h0M376.4 416.4h0M336.3 436.7h0M311.3 394.7h0M324.2 443.2h0M345.6 399.1h0M300.4 432.9h0M329.6 445.2h0M368.7 432.8h0M327.9 443.2h0M312.2 457.0h0M349.5 445.7h0M360.3 429.3h0M315.4 435.1h0M320.6 404.4h0M342.7 407.2h0M335.5 450.1h0M342.4 433.0h0M296.9 420.2h0M371.8 412.6h0M353.6 392.1h0M329.4 452.8h0M306.7 415.9h0M294.9 403.5h0M348.0 419.4h0M298.3 407.5h0M372.7 443.3h0M298.1 447.1h0M369.0 453.2h0M334.7 443.6h0M366.2 409.8h0M364.0 416.3h0M322.3 434.0h0M335.7 394.0h0M306.4 432.1h0M331.7 392.3h0" stroke="#c9a0b6" stroke-width="1.9" stroke-linecap="round" fill="none" opacity="0.93"/>
<path d="M299.1 400.6h0M305.7 428.3h0M330.2 453.9h0M320.0 410.9h0M350.9 407.7h0M324.8 412.1h0M310.6 417.4h0M362.5 448.2h0M315.9 389.6h0M370.4 414.9h0M322.2 411.8h0M315.6 421.0h0M295.6 396.5h0M332.6 433.0h0M326.4 430.2h0M338.7 425.7h0M352.0 438.5h0M350.2 403.1h0M320.1 426.2h0M312.9 454.7h0M315.6 393.7h0M373.8 438.0h0M378.0 436.3h0M332.9 415.9h0M304.4 431.7h0M314.8 431.5h0M351.3 420.8h0M332.4 391.8h0M352.7 395.3h0M335.0 412.5h0M366.7 425.7h0M332.9 428.4h0M354.6 416.8h0M301.0 419.9h0M307.9 400.7h0M372.7 423.8h0M333.1 420.2h0M363.5 423.5h0M347.6 405.5h0M300.2 400.2h0M304.2 398.0h0M303.1 422.2h0M318.4 395.1h0M315.7 438.4h0M307.4 420.7h0M326.8 423.1h0M353.2 415.2h0M342.8 404.7h0M308.2 444.3h0M304.8 429.2h0M295.8 435.3h0M329.1 418.6h0M324.3 408.3h0M296.5 429.2h0M323.2 391.8h0M345.6 391.1h0M345.7 427.8h0M328.4 411.2h0M368.7 429.3h0M327.7 455.6h0M350.9 436.3h0M310.8 397.0h0M310.2 455.0h0M333.8 444.0h0M373.0 426.5h0M380.2 407.0h0M360.8 433.4h0M310.2 451.9h0M348.4 390.0h0M323.9 398.2h0M376.1 410.4h0M372.0 437.4h0M320.4 426.3h0M355.9 432.9h0M369.4 443.5h0M303.3 419.8h0M314.7 410.7h0M357.4 445.6h0M356.6 404.6h0M352.7 405.0h0M319.6 412.1h0M292.6 455.1h0M293.7 411.8h0M313.0 423.1h0M307.3 457.0h0M299.8 407.2h0M369.8 399.5h0M346.4 412.1h0M332.7 401.4h0M336.2 405.2h0M334.9 456.6h0M341.7 409.5h0M314.2 446.6h0M366.0 416.9h0M316.9 442.9h0M305.8 394.7h0M342.0 442.5h0M363.1 395.9h0M323.7 448.4h0M309.9 398.4h0M300.2 418.2h0M325.3 400.5h0M356.0 412.6h0M324.0 407.7h0M302.2 429.1h0M307.2 454.1h0M347.1 438.0h0M342.7 420.2h0M366.3 419.8h0M352.8 442.3h0M344.7 444.5h0M309.1 456.8h0M349.1 392.5h0M340.5 450.8h0M292.1 411.4h0M352.2 410.0h0M296.0 406.6h0M362.8 453.9h0M341.7 454.7h0M313.6 420.4h0M369.3 421.9h0M296.5 415.9h0M293.7 402.4h0M291.8 401.1h0M307.0 422.7h0M337.9 435.8h0M338.0 425.1h0M333.6 393.4h0M321.8 436.9h0M372.9 420.4h0M337.5 408.2h0M315.6 425.1h0M314.4 457.0h0M336.5 427.4h0M347.5 417.2h0M297.6 427.4h0M330.0 397.9h0M363.0 403.0h0M328.2 430.8h0M313.4 393.1h0M325.5 429.4h0M337.9 442.4h0M355.3 440.6h0M357.3 432.4h0M324.7 449.9h0M322.9 397.5h0M372.1 432.8h0M370.1 392.7h0M333.6 390.4h0M352.4 454.7h0M329.1 404.6h0M347.1 445.7h0M337.9 433.2h0M354.5 408.0h0M308.8 453.7h0M318.0 430.7h0M310.4 423.4h0M339.7 419.2h0M353.5 411.3h0M320.5 448.0h0M348.8 455.2h0M363.2 426.5h0M343.7 414.5h0M363.1 436.4h0M302.1 413.6h0M321.4 397.5h0M329.4 422.5h0M328.3 423.0h0M312.7 421.7h0M360.8 442.4h0M334.4 446.0h0M322.4 441.1h0M341.4 399.8h0M320.3 418.2h0M359.2 455.5h0M350.6 408.8h0M346.8 412.9h0M318.3 424.8h0M309.4 417.7h0M375.0 419.2h0M341.9 394.8h0M369.6 451.4h0M339.7 444.8h0M321.4 398.5h0M297.3 409.6h0M326.4 410.9h0M336.2 399.2h0M320.3 390.3h0M323.6 419.6h0M330.2 422.8h0M296.4 418.9h0M335.2 426.4h0M316.8 452.2h0M360.7 430.3h0M295.0 431.2h0M319.7 435.4h0M371.4 396.1h0M333.0 398.3h0M351.5 406.8h0M353.9 447.4h0M346.7 408.2h0M361.3 443.9h0M311.0 421.1h0M346.7 398.5h0M340.2 398.3h0M339.4 419.3h0M379.3 426.8h0M328.6 430.2h0M369.2 423.7h0M328.1 446.5h0M380.3 440.0h0M315.5 406.0h0M356.0 431.9h0M324.6 417.6h0M324.3 436.0h0M316.7 425.5h0M344.9 391.8h0M373.7 448.3h0M302.5 431.5h0M362.5 420.4h0M318.1 391.0h0M380.2 411.2h0M305.1 453.9h0M329.7 392.5h0M290.4 440.0h0M322.7 390.0h0M369.5 419.6h0M306.9 411.1h0M307.0 456.4h0M290.2 432.3h0M322.2 444.6h0M314.3 447.6h0M376.3 391.2h0M380.3 430.9h0M315.5 447.8h0M371.7 454.5h0M303.2 420.3h0M330.3 403.2h0M302.2 394.1h0M291.0 416.5h0M362.5 413.5h0M347.9 400.4h0M307.8 416.2h0M375.7 453.8h0M293.9 418.0h0M324.3 420.5h0M290.6 429.2h0M358.1 452.6h0M360.4 455.8h0M316.3 430.6h0M337.2 417.8h0M320.2 390.8h0M370.0 431.9h0M334.0 415.4h0M298.1 409.8h0M329.0 414.4h0M364.7 413.8h0M341.2 412.3h0M320.2 411.5h0M347.0 397.6h0M363.7 425.2h0M313.6 390.2h0M341.0 438.4h0M372.3 448.6h0M335.9 452.2h0M290.4 449.6h0M323.3 414.0h0M344.7 426.2h0M370.7 432.8h0M310.9 449.0h0M372.7 416.8h0M297.0 408.6h0M310.1 432.0h0M344.9 416.1h0M320.2 452.1h0M344.2 428.9h0M291.9 402.9h0M291.4 413.0h0M327.3 417.2h0M337.7 450.1h0M319.5 419.5h0M303.8 437.2h0M356.3 435.8h0M291.2 427.0h0M306.6 415.5h0M353.1 395.6h0M298.6 456.7h0M339.7 390.3h0M327.4 390.2h0M348.7 391.3h0M301.2 417.7h0M308.8 445.6h0M346.8 455.6h0M356.3 451.4h0M311.0 441.8h0M293.3 450.5h0M337.4 407.4h0M379.9 410.6h0M373.7 431.8h0M314.4 404.4h0M308.6 452.7h0M297.3 444.8h0M337.2 419.6h0M336.0 428.9h0M310.9 414.2h0M347.3 426.5h0M348.2 431.4h0M328.0 396.0h0M373.4 434.1h0M318.8 425.9h0M335.3 428.9h0M310.0 426.5h0M315.7 423.4h0M300.4 408.8h0M323.8 419.6h0M344.6 431.0h0M370.9 432.8h0M372.4 419.2h0M297.5 432.1h0M374.5 393.7h0M359.0 442.5h0M311.5 451.9h0M366.6 445.3h0M336.2 433.9h0M358.2 452.4h0M348.8 439.6h0M302.8 446.0h0M311.7 426.7h0M312.5 414.2h0M361.1 453.2h0M318.9 411.0h0M339.9 414.9h0M328.2 434.0h0M328.1 422.6h0M308.0 431.9h0M317.8 419.1h0M325.4 448.3h0M363.3 438.4h0M315.7 437.8h0M345.1 447.6h0M306.5 456.4h0M345.8 408.1h0M364.0 440.4h0M298.6 441.3h0M302.6 411.7h0M346.7 442.3h0M339.5 452.4h0M355.7 437.6h0M370.9 443.5h0M309.0 396.8h0M341.8 424.3h0M291.0 401.2h0M371.0 452.8h0M346.7 429.3h0M346.0 413.4h0M293.6 444.3h0M297.9 407.1h0M375.7 431.0h0M297.6 417.0h0M294.6 411.4h0M343.7 456.2h0M377.8 454.6h0M304.8 407.2h0M301.0 406.7h0M330.8 442.3h0M362.2 421.5h0M322.2 430.0h0M327.6 401.1h0M321.8 453.0h0M299.7 449.8h0M344.2 407.1h0M316.2 450.8h0M296.9 412.2h0M371.7 389.9h0M354.5 415.3h0M327.8 423.0h0M378.8 454.3h0M337.7 402.6h0M314.2 450.6h0M344.3 417.1h0M370.5 445.1h0M327.3 421.0h0M314.1 424.6h0M290.2 434.5h0M354.3 394.6h0M295.7 429.3h0M331.7 392.3h0M290.6 412.8h0M375.2 438.8h0M357.4 397.3h0M327.6 445.2h0M317.4 408.3h0M325.6 436.2h0M312.2 407.8h0M296.9 400.8h0M308.0 391.7h0M347.1 408.9h0M317.6 422.8h0M348.0 452.6h0M297.6 393.6h0M323.8 426.1h0M368.1 429.3h0M330.8 403.5h0M322.4 397.0h0M312.5 454.7h0M358.9 406.8h0M329.9 425.4h0M305.6 390.7h0M306.6 451.1h0M372.6 420.0h0M291.0 416.1h0M374.7 424.2h0M330.9 431.6h0M301.3 429.0h0M327.9 401.4h0M328.2 454.0h0M311.8 421.9h0M294.8 410.0h0M306.9 397.7h0M309.6 440.6h0M305.1 402.1h0M298.2 403.5h0M330.3 449.1h0M294.3 437.1h0M337.9 401.9h0M301.3 455.3h0M326.9 403.2h0M345.2 406.4h0M350.8 404.8h0M325.0 427.5h0M318.1 389.0h0M299.1 394.8h0M348.5 400.6h0M323.9 396.8h0M291.8 452.1h0M337.9 445.6h0M332.9 438.1h0M320.0 440.9h0M342.8 399.9h0M306.4 424.7h0M352.4 410.7h0M344.9 416.8h0M347.9 390.0h0M291.8 450.8h0M342.6 413.6h0M317.9 409.1h0M311.6 446.4h0M378.5 400.2h0M330.3 410.2h0M362.0 392.5h0M291.3 392.3h0M341.1 389.1h0M321.7 455.5h0M344.1 437.4h0M339.2 450.2h0M354.8 441.1h0M343.9 400.8h0M312.1 449.6h0M368.4 433.5h0M309.5 420.8h0M379.9 436.5h0M380.1 418.4h0M340.4 418.3h0M322.1 394.8h0M312.9 446.5h0M319.8 391.7h0M309.2 414.2h0M371.1 447.0h0M360.6 422.8h0M308.2 443.3h0M333.2 436.3h0M314.1 408.5h0M331.5 439.8h0M321.6 416.4h0M337.2 429.4h0M330.2 439.7h0M329.4 441.4h0M342.8 395.5h0M357.8 396.9h0M371.3 420.3h0M295.9 450.0h0M310.6 436.1h0M311.2 456.5h0M319.7 446.5h0M306.4 454.1h0M322.2 443.1h0M321.6 416.5h0M324.3 406.2h0M331.0 433.0h0M293.5 441.5h0M354.4 432.8h0M302.8 451.5h0M322.2 440.2h0M378.0 436.5h0M358.6 423.7h0M302.7 400.0h0M329.1 451.4h0M342.6 447.1h0M349.6 449.0h0M365.5 434.9h0" stroke="#ecd8dc" stroke-width="1.0" stroke-linecap="round" fill="none" opacity="0.85"/>
<path d="M345.3 439.6h0M328.9 390.7h0M364.0 449.3h0M334.5 403.9h0M316.2 416.3h0M296.2 439.0h0M295.2 402.5h0M305.8 415.3h0M379.3 427.4h0M344.0 410.0h0M317.7 422.8h0M340.5 427.6h0M327.4 413.1h0M337.8 392.3h0M349.0 403.5h0M350.8 446.4h0M338.6 409.6h0M304.2 425.6h0M337.0 445.5h0M292.3 405.2h0M354.1 423.8h0M306.5 410.6h0M356.1 406.0h0M348.5 414.3h0M310.8 441.6h0M359.3 419.6h0M365.8 414.5h0M335.1 393.3h0M310.2 398.0h0M343.1 423.0h0M323.1 390.9h0M358.0 446.1h0M313.5 452.5h0M339.9 396.9h0M375.0 449.1h0M297.4 423.9h0M367.9 393.1h0M334.4 392.6h0M341.5 406.9h0M341.9 445.9h0M370.3 437.8h0M359.0 422.6h0M334.1 428.5h0M328.6 447.8h0M323.4 414.0h0M298.4 420.7h0M341.2 405.7h0M315.8 453.6h0M366.8 430.2h0M372.7 419.2h0M370.7 431.0h0M326.8 418.0h0M346.5 447.2h0M307.8 455.6h0M304.3 446.8h0M365.4 456.0h0M295.3 451.0h0M380.4 456.5h0M299.5 449.8h0M327.7 417.8h0M319.4 438.2h0M351.5 402.5h0M374.3 405.7h0M346.2 424.2h0M317.8 453.5h0M307.7 439.1h0M349.8 412.3h0M348.4 436.8h0M305.5 392.8h0M294.4 414.4h0M310.0 414.5h0M355.1 417.4h0M312.3 452.5h0M323.4 452.7h0M293.8 415.9h0M308.3 410.3h0M321.1 437.2h0M342.5 446.6h0M299.0 405.8h0M316.0 438.1h0M331.2 392.1h0M376.2 419.5h0M340.1 420.4h0M296.4 417.8h0M299.2 452.1h0M330.8 451.4h0M303.1 404.6h0M321.1 425.9h0M349.1 390.7h0M330.5 410.1h0M348.0 427.6h0M297.1 390.4h0M375.5 446.0h0M360.0 428.3h0M297.2 440.6h0M348.7 415.1h0M309.9 423.2h0M339.6 421.2h0M297.8 450.0h0M327.5 407.1h0M296.0 389.0h0M302.3 432.7h0M369.9 405.2h0M354.0 442.8h0M373.3 446.9h0M335.7 434.5h0M332.4 408.8h0M308.3 396.1h0M302.8 446.0h0M345.5 409.5h0M307.3 417.8h0M338.7 422.1h0M318.9 446.3h0M349.0 443.1h0M320.6 404.6h0M349.1 400.1h0M345.8 402.8h0M320.9 432.5h0M302.5 412.5h0M355.0 453.1h0" stroke="#a86a60" stroke-width="1.2" stroke-linecap="round" fill="none" opacity="0.6"/>
<text x="295.3" y="395.6" font-size="3.2" font-weight="bold" fill="#fff" opacity="0.88">MHCC01 Hep3B_LA_2,0mm_101_15.04.22</text>
<rect x="370.1" y="453.6" width="8" height="1.4" fill="#fff"/>
<text x="374.1" y="452.8" font-size="2.7" font-weight="bold" text-anchor="middle" fill="#fff">100 µm</text>
</g>
<clipPath id="cd11"><rect x="400.3" y="388.9" width="90.8" height="68.2"/></clipPath>
<g clip-path="url(#cd11)">
<rect x="399.3" y="387.9" width="92.8" height="70.2" fill="#3f677b"/>
<ellipse cx="445.7" cy="395.7" rx="45.4" ry="13.6" fill="#4a7488" opacity="0.5" filter="url(#b8)"/>
<ellipse cx="445.7" cy="453.7" rx="45.4" ry="13.6" fill="#365a6e" opacity="0.5" filter="url(#b8)"/>
<rect x="400.3" y="388.9" width="90.8" height="68.2" filter="url(#nf)" opacity="0.2"/>
<rect x="400.3" y="388.9" width="90.8" height="68.2" filter="url(#nw)" opacity="0.14"/>
<rect x="400.3" y="388.9" width="90.8" height="68.2" filter="url(#nk)" opacity="0.1"/>
<path d="M421.7 395.9h0M414.4 393.4h0M483.7 443.5h0M420.5 425.5h0M416.0 396.1h0M484.5 445.4h0M473.0 402.1h0M457.2 438.8h0M480.2 394.8h0M461.3 423.4h0M443.3 395.0h0M478.9 426.2h0M482.8 427.9h0M477.3 423.6h0M454.7 418.3h0M428.0 444.3h0M404.5 431.6h0M448.8 421.0h0M490.9 402.2h0M418.7 432.0h0M432.6 439.8h0M451.0 450.6h0M405.9 404.5h0M456.2 405.1h0M416.4 420.2h0M463.6 450.0h0M467.0 454.4h0M426.5 454.8h0M437.6 453.2h0M474.6 408.9h0M440.6 398.2h0M487.6 411.5h0M404.4 400.5h0M433.2 408.7h0M489.4 417.8h0M405.7 392.7h0M461.8 399.1h0M444.9 405.9h0M411.4 425.0h0M437.5 456.3h0M422.3 416.9h0M438.5 405.9h0M475.8 422.9h0M423.4 405.4h0M421.3 448.2h0M405.0 452.2h0M490.2 416.4h0M459.7 442.8h0M445.2 395.2h0M479.6 450.3h0M430.9 433.7h0M458.6 444.5h0M459.7 435.7h0M484.1 454.1h0M488.5 454.5h0M404.3 450.2h0M488.2 434.4h0M415.5 432.2h0M468.1 452.2h0M400.6 451.8h0M479.9 396.8h0M471.4 448.8h0M480.1 402.7h0M430.3 449.7h0M443.1 424.8h0M403.4 429.4h0M478.8 430.4h0M433.2 441.2h0M401.3 446.0h0M408.0 426.0h0M471.8 410.1h0M444.5 454.8h0M410.7 431.2h0M446.8 418.5h0M470.8 393.5h0M418.1 409.5h0M438.7 443.3h0M479.7 400.9h0M445.2 412.0h0M482.4 437.4h0M428.6 426.1h0M465.3 421.9h0M422.6 446.7h0M469.9 456.1h0M461.7 430.5h0M483.2 420.8h0M428.1 448.1h0M456.0 419.0h0M470.3 413.6h0M412.4 394.5h0M473.8 401.0h0M434.1 428.2h0M456.7 395.3h0M485.3 401.2h0M430.0 409.4h0" stroke="#d8dccc" stroke-width="1.8" stroke-linecap="round" fill="none" opacity="0.9"/>
<path d="M402.1 453.6h0M473.0 444.0h0M414.7 428.7h0M452.4 452.9h0M488.2 396.9h0M461.6 439.7h0M475.8 409.6h0M437.2 429.8h0M464.2 410.0h0M430.0 431.6h0M481.9 416.2h0M474.5 408.3h0M401.5 401.4h0M463.3 430.8h0M486.7 431.4h0M406.4 455.3h0M483.8 430.1h0M408.6 406.5h0M484.6 449.8h0M413.8 405.2h0M486.4 400.0h0M462.1 426.2h0M424.1 424.7h0M409.1 391.1h0M411.4 393.1h0M426.5 449.6h0M466.7 433.6h0M480.1 438.0h0M463.3 438.3h0M445.9 399.4h0M444.3 393.5h0M479.7 406.4h0M462.2 447.7h0M435.4 417.8h0M479.9 390.2h0M414.1 399.6h0M475.1 404.7h0M443.6 437.9h0M475.3 456.9h0M483.9 452.8h0M477.3 445.8h0M410.0 431.1h0M428.0 433.0h0M454.8 391.4h0M423.5 447.4h0M428.2 450.0h0M431.1 445.8h0M481.4 449.1h0M463.7 430.1h0M490.0 413.0h0M465.1 422.9h0M454.6 405.9h0M406.8 442.2h0M463.6 396.9h0M475.4 423.6h0M476.9 431.4h0M402.0 438.9h0M443.7 398.8h0M481.1 439.9h0M427.4 415.4h0M403.4 417.0h0M468.8 447.7h0M463.0 442.7h0M440.0 400.8h0M480.8 452.5h0M468.9 416.7h0M476.7 410.8h0M423.5 423.8h0M424.2 408.5h0M412.3 440.6h0" stroke="#eef0e4" stroke-width="1.0" stroke-linecap="round" fill="none" opacity="0.9"/>
<text x="405.5" y="395.6" font-size="3.2" font-weight="bold" fill="#fff" opacity="0.88">Hep3B_Lasu_110502</text>
<rect x="480.3" y="453.6" width="8" height="1.4" fill="#fff"/>
<text x="484.3" y="452.8" font-size="2.7" font-weight="bold" text-anchor="middle" fill="#fff">100 µm</text>
</g>
<clipPath id="ce00"><rect x="66.3" y="474" width="90.8" height="68.2"/></clipPath>
<g clip-path="url(#ce00)">
<rect x="65.3" y="473" width="92.8" height="70.2" fill="#68817d"/>
<rect x="66.3" y="474" width="90.8" height="68.2" filter="url(#nw)" opacity="0.1"/>
<rect x="66.3" y="474" width="90.8" height="68.2" filter="url(#nk)" opacity="0.12"/>
<path d="M122.9 524.6h0M125.2 535.4h0M118.4 474.9h0M80.8 528.4h0M122.4 482.6h0M145.4 488.3h0M155.5 533.5h0M153.6 510.8h0M154.1 535.0h0M99.1 485.3h0M66.6 520.2h0M71.5 540.5h0M134.4 531.6h0M137.8 499.0h0M67.1 477.2h0M150.7 538.2h0M115.8 495.3h0M82.4 479.3h0M128.9 542.0h0M141.3 505.1h0M71.4 536.5h0M111.1 531.2h0M137.9 481.3h0M79.9 531.6h0M154.9 504.9h0M132.5 506.7h0M103.0 484.0h0M111.6 497.1h0M129.4 519.3h0M99.3 522.0h0M140.5 518.2h0M141.5 497.9h0M153.2 509.3h0M119.0 519.4h0M122.9 526.8h0M131.7 475.9h0M106.3 518.3h0M128.6 517.0h0M109.1 489.4h0M78.4 495.6h0M87.9 535.6h0M103.1 493.0h0M69.6 515.8h0M115.8 497.1h0M153.3 529.8h0M140.1 517.8h0M98.2 534.9h0M100.4 503.4h0M111.0 493.5h0M67.5 510.3h0M151.2 527.3h0M124.9 515.2h0M77.0 525.9h0M114.7 496.9h0M114.4 505.7h0M133.9 514.3h0M146.9 511.2h0M137.0 503.2h0M130.6 517.1h0M149.1 500.3h0M143.7 487.4h0M129.4 503.5h0M137.2 536.1h0M109.7 511.4h0M140.0 478.7h0M140.7 528.0h0M156.9 521.8h0M142.8 489.0h0M152.8 522.6h0M92.9 536.6h0M121.7 502.2h0M122.8 477.0h0M100.7 478.9h0M78.5 503.4h0M120.8 507.4h0M149.0 511.8h0M90.2 511.6h0M134.5 509.3h0M74.0 519.6h0M77.6 514.5h0M145.9 506.8h0M128.1 489.2h0M98.0 500.3h0M141.8 518.2h0M120.1 513.1h0M102.2 480.6h0M110.0 525.9h0M105.2 505.8h0M101.3 534.0h0M89.4 492.9h0M109.1 538.5h0M127.0 493.9h0M132.5 485.1h0M68.6 489.7h0M102.7 540.4h0M94.6 505.9h0M132.8 523.0h0M124.9 503.4h0M156.2 509.4h0M110.9 537.8h0M94.1 477.5h0M102.8 510.2h0M110.5 513.0h0M86.6 481.9h0M94.7 482.9h0M118.7 490.7h0M129.9 477.3h0M92.3 499.5h0M135.3 513.2h0M140.5 518.7h0M132.4 521.8h0M140.0 500.1h0M72.3 485.6h0M127.7 493.5h0M135.7 512.0h0M87.3 503.3h0M141.4 523.6h0M108.2 503.6h0M154.3 514.6h0M140.2 502.6h0" stroke="#dcd8a8" stroke-width="2.0" stroke-linecap="round" fill="none" opacity="0.9"/>
<path d="M110.1 534.1h0M85.9 492.9h0M117.4 498.3h0M88.2 498.0h0M122.4 501.3h0M141.8 507.4h0M122.9 528.6h0M83.1 500.5h0M109.5 522.0h0M129.2 519.7h0M138.8 498.7h0M128.0 509.6h0M94.2 537.4h0M121.8 488.2h0M115.7 500.8h0M116.6 522.8h0M146.8 488.5h0M104.1 503.0h0M148.4 494.6h0M121.3 539.9h0M121.1 486.5h0M120.3 518.1h0M142.1 539.3h0M143.5 518.0h0M109.6 480.9h0M80.5 480.3h0M123.1 539.8h0M75.6 478.4h0M133.8 479.7h0M115.6 499.6h0M120.5 499.5h0M129.6 527.8h0M87.9 519.4h0M155.7 510.9h0M151.1 480.3h0M99.1 475.1h0M107.9 500.1h0M106.5 506.2h0M112.4 477.6h0M137.0 503.6h0M148.2 518.0h0M135.0 534.8h0M137.2 502.8h0M156.6 488.8h0M90.9 506.0h0M126.8 482.4h0M107.9 479.0h0M147.8 534.4h0M120.7 483.3h0M149.9 537.9h0M83.1 503.3h0M134.8 499.4h0M130.0 480.1h0M124.7 499.6h0M88.2 512.8h0M115.8 523.9h0M110.0 522.1h0M136.3 502.6h0M121.7 528.1h0M111.7 476.6h0M97.7 475.5h0M117.7 488.1h0M71.7 480.0h0M79.4 540.0h0M101.6 516.9h0M147.8 486.1h0M111.2 533.4h0M121.8 515.7h0M152.5 481.6h0M128.4 480.3h0" stroke="#f2eecc" stroke-width="1.1" stroke-linecap="round" fill="none" opacity="0.9"/>
<text x="71.5" y="480.7" font-size="3.2" font-weight="bold" fill="#fff" opacity="0.88">HCC4_MHH15_P0_120420</text>
<rect x="146.3" y="538.7" width="8" height="1.4" fill="#fff"/>
<text x="150.3" y="537.9" font-size="2.7" font-weight="bold" text-anchor="middle" fill="#fff">100 µm</text>
</g>
<clipPath id="ce01"><rect x="178.2" y="474" width="90.8" height="68.2"/></clipPath>
<g clip-path="url(#ce01)">
<rect x="177.2" y="473" width="92.8" height="70.2" fill="#70867f"/>
<rect x="178.2" y="474" width="90.8" height="68.2" filter="url(#nw)" opacity="0.1"/>
<rect x="178.2" y="474" width="90.8" height="68.2" filter="url(#nk)" opacity="0.12"/>
<path d="M250.2 530.1h0M202.0 474.0h0M220.9 525.8h0M248.1 492.6h0M244.5 502.2h0M240.1 487.2h0M251.3 492.1h0M240.5 531.6h0M186.7 528.6h0M218.6 480.4h0M235.9 493.9h0M231.6 487.7h0M210.9 537.6h0M224.9 518.0h0M251.3 540.6h0M211.0 515.0h0M231.7 480.1h0M225.9 482.0h0M206.6 487.4h0M190.7 488.3h0M241.6 474.9h0M179.7 496.7h0M234.5 494.9h0M213.5 482.7h0M183.1 502.8h0M214.3 540.9h0M267.1 534.9h0M259.0 504.5h0M250.5 509.2h0M242.3 501.9h0M246.0 492.1h0M249.4 485.7h0M189.4 514.2h0M201.5 504.8h0M201.3 502.0h0M233.8 492.3h0M221.7 483.7h0M206.0 528.9h0M238.1 540.2h0M212.3 515.1h0M214.4 507.3h0M263.2 493.8h0M219.0 477.9h0M248.4 481.6h0M211.1 538.0h0M183.9 487.1h0M233.9 502.8h0M252.1 507.5h0M187.3 498.7h0M235.0 515.4h0M235.2 480.6h0M236.8 505.6h0M235.3 521.8h0M253.8 479.7h0M261.0 535.9h0M219.2 521.3h0M190.6 538.3h0M218.2 527.1h0M203.3 522.6h0M250.9 540.7h0M263.5 479.7h0M203.6 539.9h0M261.9 476.2h0M252.3 517.6h0M181.2 485.8h0M182.9 541.7h0M264.4 521.8h0M185.2 523.9h0M227.9 505.6h0M185.0 479.0h0" stroke="#e0d8a0" stroke-width="1.9" stroke-linecap="round" fill="none" opacity="0.9"/>
<path d="M181.0 509.8h0M203.8 484.3h0M213.5 489.2h0M229.4 536.1h0M193.0 495.6h0M230.2 527.6h0M195.3 496.2h0M218.2 501.1h0M228.2 519.2h0M236.8 528.9h0M238.7 540.3h0M235.0 500.2h0M181.8 525.8h0M242.8 480.8h0M181.1 511.0h0M198.7 512.6h0M204.8 506.1h0M256.7 485.5h0M189.1 481.7h0M182.7 536.7h0M239.6 523.7h0M204.3 504.2h0M256.2 527.1h0M197.6 514.4h0M250.0 524.8h0M242.5 520.6h0M186.7 514.6h0M211.5 482.0h0M180.7 536.8h0M217.8 530.8h0M190.9 474.7h0M178.4 530.5h0M231.8 492.6h0M216.3 486.4h0M213.1 514.5h0M235.1 506.8h0M190.6 534.6h0M218.9 529.1h0M264.3 529.2h0M189.1 514.4h0" stroke="#f2eecc" stroke-width="1.0" stroke-linecap="round" fill="none" opacity="0.9"/>
<path d="M223.7 516.9h0M216.3 518.1h0M220.7 521.2h0M215.8 518.4h0M217.6 528.4h0M218.7 519.5h0M211.6 520.4h0" stroke="#e2d070" stroke-width="1.7" stroke-linecap="round" fill="none" opacity="1"/>
<text x="183.4" y="480.7" font-size="3.2" font-weight="bold" fill="#fff" opacity="0.88">HCC4_142_P2_120502</text>
<rect x="258.2" y="538.7" width="8" height="1.4" fill="#fff"/>
<text x="262.2" y="537.9" font-size="2.7" font-weight="bold" text-anchor="middle" fill="#fff">100 µm</text>
</g>
<clipPath id="ce02"><rect x="288.6" y="474" width="90.8" height="68.2"/></clipPath>
<g clip-path="url(#ce02)">
<rect x="287.6" y="473" width="92.8" height="70.2" fill="#6a7866"/>
<ellipse cx="297.7" cy="528.6" rx="27.2" ry="23.9" fill="#3e4e50" opacity="0.65" filter="url(#b8)"/>
<ellipse cx="379.4" cy="535.4" rx="22.7" ry="20.5" fill="#3e4e50" opacity="0.55" filter="url(#b8)"/>
<ellipse cx="315.8" cy="480.8" rx="36.3" ry="13.6" fill="#7a8a7c" opacity="0.5" filter="url(#b8)"/>
<rect x="288.6" y="474" width="90.8" height="68.2" filter="url(#nw)" opacity="0.1"/>
<rect x="288.6" y="474" width="90.8" height="68.2" filter="url(#nk)" opacity="0.08"/>
<path d="M293.9 508.6h0M328.0 478.8h0M327.1 530.4h0M350.4 503.2h0M341.8 504.9h0M302.4 507.3h0M351.3 509.2h0M324.2 501.2h0M346.2 478.2h0M297.8 498.8h0M368.0 515.9h0M330.9 507.0h0M363.9 485.0h0M374.9 510.0h0M335.6 498.2h0M321.7 489.0h0M347.9 528.5h0M356.7 506.6h0M338.4 482.9h0M312.2 502.6h0M339.0 527.5h0M339.5 490.9h0M358.7 508.6h0M351.5 504.8h0M295.2 490.4h0M319.4 487.3h0M345.3 508.9h0M298.1 492.1h0M359.3 492.4h0M340.4 521.8h0M334.0 486.1h0M290.2 491.1h0M355.2 511.6h0M331.7 537.7h0M325.3 497.7h0M311.8 485.1h0M330.3 484.7h0M316.7 498.3h0M306.8 508.4h0M356.5 508.3h0M344.6 517.8h0M316.2 512.7h0M377.4 537.9h0M329.4 492.3h0M370.1 507.2h0M317.3 531.3h0M356.8 531.2h0M327.5 492.8h0M335.0 486.9h0M338.5 523.1h0M355.1 504.7h0M347.1 493.5h0M301.3 487.1h0M356.7 502.2h0M336.2 499.7h0M330.1 511.6h0M347.2 494.7h0M341.5 500.5h0M349.8 502.6h0M355.7 508.4h0M349.0 538.7h0M301.5 477.5h0M323.0 499.5h0M320.5 539.2h0M362.3 526.3h0M317.3 492.8h0M323.7 491.1h0M311.1 478.4h0M353.0 504.5h0M347.9 541.6h0M359.2 538.5h0M322.1 483.6h0M338.6 517.6h0M368.8 505.4h0M322.3 508.4h0M376.4 487.5h0M335.6 500.2h0M292.1 531.2h0M333.0 490.0h0M359.4 505.3h0M331.6 481.3h0M322.9 538.8h0M334.5 495.8h0M358.0 504.2h0M288.8 476.3h0M344.5 503.5h0M347.9 475.5h0M311.2 535.6h0M336.9 501.7h0M293.9 527.1h0M338.6 538.2h0M316.7 494.5h0M360.2 509.7h0M354.4 512.9h0M307.8 516.5h0M371.3 483.9h0M301.5 476.0h0M371.6 538.4h0M307.3 481.6h0M353.6 499.1h0M352.6 510.7h0M357.8 540.7h0M296.4 534.6h0M320.2 496.3h0M306.4 517.5h0M307.3 500.5h0M317.0 516.8h0M333.1 540.5h0M374.0 509.4h0M361.4 500.7h0M346.2 506.0h0M331.1 494.1h0M346.1 475.0h0M359.1 497.6h0M293.9 505.9h0M334.3 492.5h0M318.6 495.6h0M330.2 526.0h0M307.9 484.4h0M289.0 520.6h0M366.3 523.8h0M353.7 474.8h0M347.7 529.7h0M366.8 507.2h0M330.9 488.1h0M342.1 486.9h0M319.9 509.4h0M305.0 479.7h0M374.6 536.1h0M342.9 501.1h0" stroke="#e0d088" stroke-width="1.7" stroke-linecap="round" fill="none" opacity="0.92"/>
<path d="M375.7 491.5h0M346.8 539.2h0M324.3 504.6h0M376.3 541.6h0M292.1 491.4h0M370.6 535.7h0M292.9 527.6h0M347.3 541.2h0M301.7 525.5h0M350.1 494.4h0M357.4 481.2h0M311.9 482.5h0M303.9 490.3h0M350.1 474.9h0M306.3 476.5h0M308.6 537.7h0M369.3 483.5h0M297.4 537.3h0M345.7 504.8h0M363.3 506.6h0M301.6 489.1h0M353.4 511.7h0M367.7 492.2h0M302.7 492.5h0M319.0 485.4h0M317.5 535.6h0M377.5 477.9h0M349.3 488.4h0M314.6 491.6h0M321.7 541.6h0M372.6 480.7h0M370.0 477.9h0M315.3 540.7h0M361.9 497.2h0M288.8 530.8h0M305.5 503.7h0M308.4 513.0h0M305.0 526.5h0M306.5 479.4h0M343.9 507.8h0M307.3 515.8h0M362.3 513.8h0M294.6 524.0h0M354.1 477.8h0M319.0 531.4h0M333.4 475.1h0M331.9 533.5h0M305.5 530.7h0M303.4 499.3h0M289.0 509.5h0M335.4 482.2h0M362.7 533.0h0M353.2 500.0h0M294.2 533.5h0M333.5 509.0h0M337.4 475.4h0M308.9 486.4h0M311.3 529.7h0M297.4 521.7h0M290.2 514.9h0M336.1 521.9h0M367.6 522.9h0M299.8 507.7h0M314.0 482.3h0M301.0 514.4h0M302.0 513.1h0M303.5 530.3h0M323.9 502.7h0M336.3 501.0h0M359.1 497.1h0" stroke="#ece4b0" stroke-width="1.0" stroke-linecap="round" fill="none" opacity="0.8"/>
<text x="293.8" y="480.7" font-size="3.2" font-weight="bold" fill="#fff" opacity="0.88">HCC4_142_P2_120512</text>
<rect x="368.6" y="538.7" width="8" height="1.4" fill="#fff"/>
<text x="372.6" y="537.9" font-size="2.7" font-weight="bold" text-anchor="middle" fill="#fff">100 µm</text>
</g>
<clipPath id="ce03"><rect x="400.5" y="474" width="90.8" height="68.2"/></clipPath>
<g clip-path="url(#ce03)">
<rect x="399.5" y="473" width="92.8" height="70.2" fill="#3c8896"/>
<rect x="400.5" y="474" width="90.8" height="68.2" filter="url(#nw2)" opacity="0.25"/>
<rect x="400.5" y="474" width="90.8" height="68.2" filter="url(#nk)" opacity="0.18"/>
<path d="M421.1 539.6h0M464.5 479.8h0M491.2 488.3h0M442.2 504.9h0M418.0 530.6h0M421.8 475.4h0M437.5 535.5h0M410.8 491.6h0M406.2 516.3h0M460.5 497.1h0M445.7 518.3h0M453.3 483.7h0M486.4 507.3h0M486.4 513.5h0M480.5 493.5h0M480.2 483.2h0M409.4 521.1h0M486.8 531.5h0M418.4 484.2h0M446.8 478.9h0M446.6 521.8h0M422.6 474.8h0M424.7 502.9h0M476.3 534.8h0M436.5 485.3h0M489.0 487.8h0M427.7 474.9h0M431.5 485.6h0M421.5 502.0h0M438.5 514.1h0M409.1 479.8h0M447.8 498.6h0M446.3 522.3h0M406.2 475.2h0M435.6 513.1h0M432.4 539.8h0M476.4 488.3h0M403.5 539.8h0M490.4 513.6h0M488.6 504.1h0M455.5 507.9h0M414.5 482.3h0M441.6 482.6h0M466.4 522.8h0M436.3 498.6h0M418.4 504.4h0M466.3 522.3h0M402.6 498.8h0M409.0 540.0h0M446.1 522.1h0M421.3 509.9h0M459.3 474.5h0M483.0 524.7h0M489.6 489.3h0M450.2 540.6h0M486.0 532.0h0M457.3 539.3h0M427.4 531.7h0M434.1 539.4h0M428.8 493.8h0M477.0 520.7h0M466.6 530.0h0M433.4 503.2h0M448.5 531.2h0M406.7 524.0h0M438.6 482.0h0M425.4 493.9h0M446.3 492.9h0M437.9 498.6h0M472.2 525.0h0M474.3 514.7h0M433.9 527.2h0M435.7 518.6h0M490.7 536.8h0M412.9 515.6h0M408.4 505.6h0M482.7 537.1h0M455.6 533.0h0M429.5 476.6h0M478.5 518.6h0M475.7 529.6h0M455.0 495.8h0M433.0 496.3h0M410.9 523.2h0M415.0 491.4h0M439.7 527.3h0M420.7 494.0h0M468.5 481.4h0M451.0 524.2h0M451.3 496.3h0M467.3 506.7h0M485.5 542.0h0M412.5 496.3h0M415.8 526.0h0M481.1 513.9h0M438.2 537.9h0M481.9 536.9h0M489.8 507.4h0M477.1 510.0h0M462.3 506.5h0M476.6 508.1h0M449.0 537.9h0M420.2 509.9h0M475.4 518.2h0M436.3 476.4h0M486.3 497.7h0M456.9 483.8h0M407.7 486.6h0M412.1 539.8h0M457.7 539.8h0M491.2 476.7h0M460.1 541.2h0M486.5 518.3h0M415.9 490.1h0M431.9 499.4h0M434.5 516.9h0M413.3 522.4h0M428.9 476.2h0M433.2 499.0h0M427.9 518.1h0M471.6 524.6h0M424.2 531.4h0M478.6 504.5h0M445.8 518.6h0M453.0 524.2h0M455.0 505.1h0M435.3 511.3h0M416.3 484.0h0M408.5 528.1h0M420.3 517.4h0M480.6 487.5h0M403.8 523.0h0M429.0 540.6h0M467.5 513.3h0M401.5 529.4h0M478.1 502.3h0M400.5 540.9h0M446.9 506.8h0M465.6 541.0h0M439.1 484.1h0M464.9 538.9h0M431.9 514.7h0M423.5 521.3h0M403.0 478.4h0M463.7 489.4h0M463.4 491.9h0M455.2 501.7h0M463.4 521.8h0M473.8 518.7h0M471.3 507.7h0M429.1 518.6h0M431.9 508.5h0M462.6 536.0h0M488.6 516.1h0M443.1 489.1h0M455.9 485.0h0M420.6 523.3h0M418.7 520.9h0M424.7 504.3h0M413.3 490.1h0M476.8 536.9h0M470.3 482.1h0M478.3 519.4h0M454.9 507.2h0M480.8 540.5h0M469.1 538.4h0M445.9 499.4h0M453.2 515.7h0M491.2 492.8h0M418.5 517.1h0M430.9 500.2h0M444.7 484.8h0M472.7 516.9h0M486.8 506.6h0M469.7 534.0h0M461.1 521.1h0M446.6 501.3h0M443.5 528.8h0M411.2 537.0h0M463.8 536.5h0M451.9 538.9h0M441.1 486.5h0M472.4 535.1h0M448.5 520.3h0M425.5 536.2h0M465.4 520.9h0M464.2 487.0h0M459.7 516.9h0M417.0 480.9h0M417.2 507.1h0M464.6 503.9h0M403.2 497.8h0M447.4 513.0h0M440.8 499.1h0M410.1 487.2h0M452.0 480.9h0M403.0 482.6h0M430.7 509.5h0M454.5 527.5h0M461.9 502.5h0M407.2 486.4h0M425.6 512.2h0M484.0 484.2h0M400.6 534.7h0M433.7 528.5h0M451.5 532.5h0M427.8 489.0h0M454.2 535.5h0M477.6 484.9h0M426.7 537.3h0M440.5 493.7h0M440.6 507.9h0M466.9 495.1h0M483.1 513.5h0M451.3 516.4h0M439.1 523.4h0M464.3 476.8h0M457.1 511.2h0M405.3 475.2h0M409.6 483.4h0M433.3 534.2h0M460.7 498.5h0M489.1 533.4h0M446.7 493.2h0M438.6 487.1h0M437.5 484.1h0M489.2 537.7h0M447.0 526.0h0M456.9 540.5h0M490.1 516.8h0M402.4 492.5h0M448.4 516.5h0M427.3 483.6h0M455.0 475.8h0M466.0 525.9h0M425.3 523.3h0M431.9 540.1h0M481.4 483.2h0M490.6 521.4h0M480.7 516.8h0M475.4 510.2h0M469.6 474.1h0M480.9 482.0h0M453.3 521.3h0M487.9 516.7h0M448.7 531.9h0M412.2 516.7h0M430.9 496.7h0M420.5 499.7h0M419.1 504.9h0M466.0 528.1h0M479.3 507.5h0M409.1 500.4h0M481.0 508.0h0M461.1 539.1h0M473.5 519.4h0M451.5 500.5h0M424.4 497.0h0M478.7 490.1h0M424.2 506.9h0" stroke="#e8f2f0" stroke-width="2.0" stroke-linecap="round" fill="none" opacity="0.95"/>
<path d="M457.1 532.5h0M433.1 485.5h0M469.1 487.0h0M461.3 499.9h0M451.8 534.3h0M424.1 476.3h0M407.7 532.2h0M447.0 492.2h0M410.9 513.6h0M460.2 477.4h0M426.4 523.8h0M487.3 534.4h0M480.1 517.3h0M437.2 475.6h0M490.3 501.6h0M433.2 520.0h0M483.4 502.0h0M439.5 479.1h0M467.6 501.6h0M421.8 530.2h0M437.6 474.1h0M479.9 518.4h0M410.1 534.5h0M456.4 514.6h0M440.6 532.8h0M407.3 476.1h0M405.1 537.3h0M433.8 532.4h0M421.7 478.3h0M428.6 531.8h0M450.7 491.9h0M484.7 481.8h0M429.0 502.5h0M432.2 507.3h0M444.5 479.0h0M435.0 502.6h0M441.2 524.5h0M407.3 510.5h0M473.1 476.2h0M455.7 488.7h0M427.2 479.9h0M429.1 507.2h0M441.4 531.4h0M417.0 501.5h0M466.5 482.2h0M420.4 501.8h0M413.6 483.5h0M409.5 537.1h0M480.6 486.2h0M462.5 494.9h0M482.5 502.4h0M455.9 527.3h0M476.7 498.2h0M439.8 480.4h0M458.4 534.6h0M482.7 496.2h0M404.3 474.5h0M480.8 517.4h0M460.6 482.9h0M468.6 500.4h0M429.6 493.8h0M466.5 500.7h0M428.7 476.8h0M453.5 516.4h0M490.3 484.3h0M451.5 502.1h0M466.4 509.1h0M463.3 502.7h0M490.2 485.0h0M456.1 526.1h0M411.0 492.2h0M419.5 476.4h0M414.5 520.9h0M468.9 512.8h0M402.9 503.7h0M427.8 501.8h0M434.3 491.9h0M485.4 476.9h0M490.3 510.1h0M430.7 521.2h0M486.8 521.2h0M415.2 475.2h0M442.9 510.0h0M403.7 537.9h0M417.4 482.6h0M415.1 522.7h0M411.9 499.0h0M450.3 478.6h0M445.2 509.4h0M413.6 521.6h0M483.7 500.3h0M464.9 542.0h0M454.5 495.9h0M414.3 517.9h0M451.5 524.6h0M464.4 488.6h0M413.1 485.9h0M429.8 474.4h0M483.4 531.2h0M445.3 483.0h0M401.7 539.0h0M416.3 502.3h0M444.5 502.1h0M429.0 478.5h0M443.7 498.3h0M477.2 501.9h0M480.5 528.8h0M436.9 490.0h0M448.3 524.1h0M488.1 510.7h0M455.2 478.5h0M449.4 487.8h0M448.9 528.4h0M487.3 515.5h0M488.4 498.2h0M434.7 497.8h0M486.8 480.6h0M405.4 502.2h0M473.4 520.3h0M467.1 497.7h0M415.0 503.6h0M488.3 519.5h0M449.3 500.7h0M461.8 522.1h0M414.2 512.9h0M434.2 474.3h0M402.2 512.7h0M410.5 533.0h0M440.7 484.1h0M452.3 522.2h0M414.6 484.3h0M473.9 532.0h0M451.3 475.7h0M446.8 524.2h0M441.5 495.5h0M439.8 498.9h0M455.7 519.2h0M467.8 491.6h0M456.5 509.8h0M476.2 493.9h0" stroke="#ffffff" stroke-width="1.0" stroke-linecap="round" fill="none" opacity="0.9"/>
<path d="M481.2 491.7h0M478.8 490.1h0M477.6 496.4h0M479.0 487.4h0M479.9 491.9h0M475.2 496.7h0M474.6 488.4h0" stroke="#fff" stroke-width="1.8" stroke-linecap="round" fill="none" opacity="1"/>
<text x="405.7" y="480.7" font-size="3.2" font-weight="bold" fill="#fff" opacity="0.88">HCC4_MHH15_P4_120519</text>
<rect x="480.5" y="538.7" width="8" height="1.4" fill="#fff"/>
<text x="484.5" y="537.9" font-size="2.7" font-weight="bold" text-anchor="middle" fill="#fff">100 µm</text>
</g>
<clipPath id="ce10"><rect x="66.3" y="556.8" width="90.8" height="67.4"/></clipPath>
<g clip-path="url(#ce10)">
<rect x="65.3" y="555.8" width="92.8" height="70.2" fill="#7c6e76"/>
<ellipse cx="113.5" cy="585.4" rx="18.2" ry="27.3" fill="#8c8086" opacity="0.5" filter="url(#b4)"/>
<ellipse cx="66.3" cy="556.8" rx="22.7" ry="20.5" fill="#675b62" opacity="0.5" filter="url(#b8)"/>
<ellipse cx="66.3" cy="625.0" rx="22.7" ry="20.5" fill="#6b5f66" opacity="0.4" filter="url(#b8)"/>
<path d="M108.3 582.3h0M132.2 585.6h0M90.5 571.1h0M110.9 558.4h0M84.7 557.4h0M115.3 558.0h0M102.5 600.4h0M119.3 587.6h0M121.4 557.6h0M117.3 566.2h0M116.8 604.3h0M131.3 609.4h0M111.2 563.6h0M117.1 583.3h0M124.7 593.8h0M132.1 606.0h0M122.0 603.0h0M109.0 593.3h0M108.7 592.4h0M123.9 572.9h0M113.3 570.3h0M110.9 580.5h0M102.5 571.0h0M106.2 569.5h0M95.8 568.4h0M115.5 579.7h0M116.5 588.9h0M114.7 561.7h0M95.4 583.1h0M121.9 616.0h0M137.0 602.4h0M92.0 565.7h0M110.0 569.1h0M113.6 574.1h0M94.5 572.2h0M85.4 560.0h0M116.9 604.9h0M125.1 611.3h0M104.7 558.1h0M121.8 582.8h0M114.1 602.0h0M133.9 617.5h0M109.2 601.4h0M134.6 600.7h0M128.1 609.5h0M119.9 600.1h0M119.7 593.1h0M125.0 604.4h0M112.7 586.9h0M121.6 611.9h0M107.3 559.7h0M141.8 617.0h0M135.3 612.4h0M100.1 572.0h0M115.1 584.6h0M108.4 581.9h0M131.2 603.9h0M109.8 585.2h0M117.8 600.8h0M96.9 558.0h0M115.7 586.5h0M130.6 580.6h0M128.8 593.1h0M109.1 571.0h0M109.0 585.8h0M80.1 561.6h0M126.7 607.6h0M132.5 587.0h0M85.2 563.9h0M103.1 585.5h0M113.2 580.3h0M109.3 567.5h0M116.7 606.8h0M101.5 591.3h0M119.8 594.0h0M97.0 570.4h0M122.9 596.3h0M127.9 595.9h0M77.4 565.5h0M125.6 600.2h0M108.6 601.3h0M73.7 560.0h0M120.7 607.2h0M115.4 605.7h0M113.9 578.9h0M92.0 558.6h0M99.0 569.4h0M119.8 588.1h0M112.9 596.5h0M131.6 574.7h0M134.3 609.2h0M129.9 602.9h0M103.6 561.3h0M125.1 601.0h0M118.5 601.2h0M100.8 573.5h0M116.0 592.4h0M96.9 580.9h0M134.7 608.3h0M108.5 572.8h0M122.1 616.9h0M121.8 579.8h0M126.5 593.6h0M116.2 579.8h0M122.4 615.1h0M126.9 599.8h0M118.2 581.9h0M106.7 595.7h0M115.7 604.6h0M102.2 609.6h0M140.4 617.8h0M107.2 573.0h0M118.6 587.1h0M77.8 560.6h0M127.2 587.3h0M109.7 584.2h0M109.1 604.1h0M137.7 616.7h0M101.4 589.2h0M109.0 587.2h0M129.3 588.8h0M115.9 606.4h0M122.0 575.2h0M136.9 610.9h0M115.5 593.7h0M140.8 614.5h0M116.3 612.8h0M116.8 562.1h0M99.7 564.0h0M113.4 581.6h0M134.1 615.6h0M100.2 572.5h0M129.3 600.7h0M131.7 617.3h0M123.3 609.9h0M91.1 582.4h0M99.4 568.9h0M130.0 617.3h0M113.0 587.8h0M106.1 575.2h0M137.2 617.1h0M125.7 618.1h0M127.0 584.0h0M107.5 611.3h0M104.4 577.7h0M138.2 609.5h0M112.7 604.2h0M110.0 599.7h0M108.7 583.7h0M140.2 617.5h0M104.3 575.3h0M143.3 615.3h0M104.6 575.5h0M120.7 608.6h0M92.4 572.4h0M130.8 608.1h0M101.7 565.8h0M126.2 599.0h0M108.5 590.9h0M112.2 604.9h0M122.8 590.2h0M104.5 594.9h0M112.6 585.3h0M98.5 566.0h0M109.9 574.4h0M108.2 560.7h0M98.6 577.7h0M119.3 594.6h0M93.9 580.7h0M88.5 575.0h0M130.7 615.6h0M99.0 560.1h0M123.9 594.9h0M96.1 580.9h0M102.6 592.1h0M93.6 565.4h0M123.5 603.1h0M125.3 607.7h0M138.9 613.3h0M126.7 595.4h0M120.6 596.4h0M114.6 589.5h0M113.2 576.3h0M90.3 556.8h0M120.2 601.1h0M114.7 594.4h0M119.7 583.6h0M122.0 591.7h0M127.0 586.1h0M131.5 616.2h0M81.7 562.8h0M122.0 597.3h0M104.4 572.6h0M120.0 596.9h0M106.2 583.6h0M94.2 561.5h0M117.8 612.3h0M105.3 583.2h0M110.4 561.6h0M114.9 568.3h0M94.3 558.6h0M145.8 607.5h0M112.4 559.5h0M135.3 596.0h0M111.9 580.9h0M99.7 558.7h0M129.8 605.1h0M149.1 597.5h0M123.1 614.2h0M108.6 601.9h0M119.1 610.9h0M128.1 595.6h0M115.1 595.8h0M107.7 601.5h0M127.4 593.8h0M137.0 605.9h0M110.0 586.5h0M140.3 595.8h0M121.5 616.7h0M93.9 557.9h0M95.7 568.7h0M124.4 609.8h0M106.3 602.0h0M118.1 598.8h0M146.3 610.0h0M85.8 577.6h0M99.6 585.0h0M144.7 611.4h0M121.7 607.8h0M134.4 614.0h0M116.6 567.3h0M126.1 598.0h0M102.7 559.8h0M95.4 566.8h0M113.2 584.2h0M101.3 577.3h0M128.1 598.4h0M107.6 614.1h0M120.0 558.8h0M103.7 568.6h0M112.2 613.7h0M135.6 596.5h0M94.1 558.4h0M120.2 609.4h0M127.9 613.6h0M98.2 569.5h0M126.6 606.0h0M135.0 604.3h0M123.6 595.5h0M101.5 573.9h0M127.9 606.1h0M102.3 575.8h0M100.0 570.1h0M134.5 600.4h0M117.1 561.4h0M131.0 599.6h0M121.1 578.9h0M89.3 572.3h0M107.5 585.4h0M112.2 594.7h0M127.1 603.9h0M111.4 608.4h0M122.4 582.3h0M124.8 596.0h0M134.0 616.0h0M127.7 613.6h0M131.6 599.4h0M116.7 588.3h0M140.9 609.5h0M132.2 618.1h0M113.6 574.5h0M77.2 559.8h0M101.3 559.7h0M142.1 592.3h0M100.5 589.7h0M139.4 602.9h0M82.4 563.3h0M114.2 569.1h0M95.3 593.9h0M153.4 608.3h0M110.0 606.2h0M102.9 591.0h0M102.5 595.8h0M94.0 571.3h0M100.9 568.0h0M129.1 617.4h0M119.4 576.5h0M113.0 565.7h0M108.3 561.5h0M115.6 600.6h0M118.5 607.7h0M137.0 602.7h0M111.8 600.9h0M92.8 573.8h0M95.5 557.0h0M107.3 570.5h0M88.4 560.4h0M115.7 586.9h0M93.8 562.5h0M117.7 586.0h0" stroke="#cfc0c5" stroke-width="1.6" stroke-linecap="round" fill="none" opacity="0.8"/>
<path d="M118.7 582.9h0M91.2 572.0h0M110.2 582.5h0M128.6 596.6h0M127.3 603.6h0M99.5 577.7h0M108.9 570.9h0M111.1 563.2h0M129.7 605.3h0M111.3 590.0h0M126.1 613.2h0M111.4 578.7h0M103.0 572.6h0M140.6 616.5h0M103.5 585.4h0M114.1 571.0h0M118.3 605.5h0M119.9 572.3h0M93.4 578.5h0M116.2 588.9h0M111.5 557.9h0M107.2 616.1h0M137.5 615.7h0M113.9 578.2h0M105.0 560.1h0M120.2 601.2h0M91.7 561.8h0M130.2 617.5h0M105.1 572.2h0M111.2 571.5h0M94.7 568.5h0M117.9 581.4h0M126.0 593.7h0M118.9 596.8h0M95.0 565.0h0M111.2 568.6h0M88.6 557.9h0M117.0 566.9h0M99.4 593.4h0M124.2 579.9h0M81.7 563.7h0M126.2 576.5h0M126.9 588.0h0M79.6 572.6h0M125.6 587.4h0M140.6 604.5h0M117.6 590.2h0M112.5 566.3h0M119.5 597.9h0M120.3 586.1h0M127.2 581.8h0M128.7 598.7h0M121.7 571.6h0M128.6 605.1h0M123.0 608.0h0M122.7 587.4h0M120.9 608.9h0M108.2 559.0h0M131.4 591.0h0M116.4 576.7h0M88.2 557.5h0M96.0 580.6h0M103.1 580.6h0M96.8 556.9h0M90.5 569.2h0M116.0 570.5h0M118.0 596.7h0M110.3 585.7h0M130.0 615.6h0M80.4 559.1h0M113.2 605.4h0M136.2 603.6h0M107.3 600.8h0M89.4 562.4h0M101.9 560.0h0M119.6 579.1h0M96.3 583.5h0M102.3 586.9h0M138.1 599.4h0M104.8 599.3h0M116.2 579.8h0M109.2 569.9h0M110.1 577.6h0M101.8 597.9h0M96.1 562.3h0M137.5 616.1h0M109.0 576.7h0M110.5 604.8h0M128.5 598.8h0M135.9 616.7h0M111.4 581.1h0M102.1 593.5h0M114.5 570.7h0M104.1 601.4h0M119.5 612.1h0M109.8 590.0h0M104.8 573.8h0M106.9 584.4h0M98.5 568.9h0M116.8 581.9h0M128.9 595.0h0M110.9 563.4h0M118.3 593.8h0M122.0 605.3h0M128.7 603.1h0M109.8 557.6h0M114.3 567.5h0M115.2 604.7h0M104.8 563.4h0M131.8 605.9h0M94.0 597.3h0M125.4 607.4h0M104.8 570.4h0M90.5 557.9h0M120.5 592.2h0M101.7 563.1h0M119.6 615.0h0M92.7 577.3h0M116.9 609.8h0M133.8 614.1h0M129.9 615.3h0M142.6 616.5h0M126.1 590.2h0M118.5 596.8h0M106.1 594.1h0M109.4 561.2h0M104.7 566.6h0M109.9 592.8h0M124.7 596.9h0M108.8 578.1h0M116.0 597.1h0M113.9 606.5h0M124.3 616.5h0M113.0 578.2h0M126.0 613.0h0M87.7 580.1h0M109.5 580.9h0M104.2 572.5h0M125.7 606.5h0M136.5 585.8h0M143.4 608.7h0M98.6 560.9h0M100.7 567.3h0M136.0 585.2h0M122.4 615.4h0M112.2 584.2h0M117.9 561.8h0M132.1 617.3h0M85.7 561.6h0M100.2 594.1h0M145.1 604.4h0M146.0 602.4h0M138.9 600.0h0M136.3 610.9h0M90.4 562.5h0M115.9 595.0h0M154.4 612.5h0M96.9 569.0h0M134.7 610.6h0M106.9 574.7h0" stroke="#3a2e32" stroke-width="1.0" stroke-linecap="round" fill="none" opacity="0.6"/>
<path d="M119.0 580.5h0M99.7 581.7h0M110.3 572.6h0M128.4 606.3h0M120.6 589.1h0M97.7 567.3h0M123.4 595.6h0M78.9 558.8h0M118.5 560.1h0M111.8 614.7h0M86.1 574.6h0M94.4 569.2h0M127.5 560.3h0M125.2 596.9h0M109.5 602.8h0M124.8 610.2h0M139.6 600.5h0M96.6 580.1h0M122.9 613.8h0M111.8 595.4h0M122.8 575.1h0M131.9 609.0h0M92.5 566.4h0M114.3 591.4h0M103.4 559.3h0M122.9 571.6h0M105.9 580.6h0M107.1 602.6h0M106.4 563.9h0M104.5 592.7h0M101.2 585.4h0M101.1 561.6h0M115.1 599.8h0M109.0 566.3h0M103.1 587.8h0M104.9 579.9h0M96.4 576.8h0M114.8 613.9h0M101.5 578.7h0M75.0 557.1h0M92.8 576.5h0M94.6 564.8h0M103.7 563.0h0M120.5 563.3h0M120.1 566.5h0M122.2 597.2h0M137.3 574.3h0M133.0 616.9h0M111.1 610.8h0M111.0 585.5h0M115.2 601.0h0M129.0 610.7h0M103.5 562.6h0M122.8 608.1h0M117.4 567.5h0M113.7 561.7h0M103.3 564.3h0M117.8 585.8h0M126.1 584.7h0M130.3 604.3h0M115.7 590.0h0M99.1 593.3h0M118.8 594.1h0M129.6 581.4h0M132.7 600.3h0M134.3 602.5h0M124.5 560.8h0M101.5 560.6h0M119.4 590.0h0M109.0 564.0h0M124.4 595.4h0M91.7 564.7h0M121.9 617.5h0M89.6 564.9h0M113.9 564.3h0M110.4 593.9h0M131.8 613.3h0M100.1 581.9h0M149.4 616.7h0M104.8 586.6h0M115.3 559.7h0M136.9 608.6h0M97.9 560.1h0M131.8 600.4h0M100.8 579.3h0M111.1 594.1h0M97.1 564.3h0M114.3 601.6h0M116.1 560.1h0M131.4 609.1h0M116.1 574.7h0M103.7 560.6h0M113.8 579.3h0M120.1 593.2h0M99.9 567.0h0M104.4 568.7h0M99.8 575.2h0M121.2 600.7h0M107.6 577.9h0M140.1 596.3h0" stroke="#efe5e7" stroke-width="0.9" stroke-linecap="round" fill="none" opacity="0.8"/>
<ellipse cx="129.0" cy="618.2" rx="6.4" ry="4.1" fill="#6a5650" opacity="0.8" filter="url(#b2)"/>
<path d="M119.9 621.6l3.6 -8.2l8.2 -2.7l7.3 4.1l-2.7 6.8l-10.9 2.0z" fill="#5a4642" opacity="0.85"/>
<circle cx="80.8" cy="590.9" r="1.3" fill="#2c2226" stroke="#cbbcc0" stroke-width="0.6"/>
<text x="71.5" y="563.5" font-size="3.2" font-weight="bold" fill="#fff" opacity="0.88">HCC11_MHH15P_120420</text>
<rect x="146.3" y="620.7" width="8" height="1.4" fill="#fff"/>
<text x="150.3" y="619.9" font-size="2.7" font-weight="bold" text-anchor="middle" fill="#fff">100 µm</text>
</g>
<clipPath id="ce11"><rect x="178.2" y="556.8" width="90.8" height="67.4"/></clipPath>
<g clip-path="url(#ce11)">
<rect x="177.2" y="555.8" width="92.8" height="70.2" fill="#5c879f"/>
<ellipse cx="241.8" cy="577.3" rx="36.3" ry="23.9" fill="#82a6ba" opacity="0.55" filter="url(#b8)"/>
<ellipse cx="187.3" cy="614.8" rx="31.8" ry="20.5" fill="#3d6985" opacity="0.6" filter="url(#b8)"/>
<ellipse cx="178.2" cy="563.6" rx="18.2" ry="13.6" fill="#3c6a88" opacity="0.4" filter="url(#b8)"/>
<rect x="178.2" y="556.8" width="90.8" height="68.2" filter="url(#nw)" opacity="0.16"/>
<rect x="178.2" y="556.8" width="90.8" height="68.2" filter="url(#nk)" opacity="0.1"/>
<path d="M230.1 586.1h0M196.9 612.3h0M237.5 567.7h0M208.0 573.8h0M268.7 559.8h0M233.0 582.8h0M239.5 588.0h0M238.3 565.9h0M267.4 622.9h0M182.2 557.1h0M263.6 577.5h0M259.8 578.2h0M217.8 561.2h0M254.8 567.5h0M215.7 559.3h0M252.5 601.7h0M255.8 567.0h0M212.2 597.8h0M248.6 563.4h0M251.5 621.4h0M215.8 573.5h0M234.2 569.0h0M219.6 568.0h0M252.8 609.8h0M209.8 586.4h0M242.9 579.4h0M185.5 587.4h0M213.7 616.1h0M200.1 592.6h0M225.4 597.9h0M222.6 588.3h0M216.4 596.7h0M222.7 568.1h0M266.2 585.1h0M178.5 593.3h0M186.6 564.2h0M268.3 589.9h0M217.8 591.0h0M244.1 618.0h0M216.6 601.1h0M192.1 573.0h0M240.6 600.6h0M253.5 589.5h0M265.6 586.5h0M243.4 617.4h0M261.1 609.1h0M267.3 576.3h0M191.0 597.4h0M195.6 580.7h0M195.9 571.0h0M269.0 617.3h0M245.7 604.2h0M216.7 602.1h0M202.3 581.6h0M235.1 571.1h0M257.6 616.2h0M184.6 585.7h0M183.2 574.2h0M247.2 599.7h0M241.3 591.3h0M202.1 586.9h0M244.2 589.7h0M221.5 589.5h0M243.6 611.4h0M250.3 622.6h0M243.6 561.3h0M254.2 557.9h0M207.4 607.3h0M203.8 569.5h0M186.9 610.7h0M198.2 607.6h0M195.6 595.8h0M266.7 616.1h0M196.5 614.6h0M225.7 612.0h0M264.9 579.1h0M241.1 560.2h0M256.3 583.9h0M193.8 567.6h0M256.7 625.0h0" stroke="#d4e4ea" stroke-width="1.4" stroke-linecap="round" fill="none" opacity="0.85"/>
<circle cx="245.4" cy="587.5" r="1.4" fill="#1c3040" stroke="#d8e8f0" stroke-width="0.7"/>
<circle cx="253.6" cy="586.8" r="1.4" fill="#1c3040" stroke="#d8e8f0" stroke-width="0.7"/>
<circle cx="232.7" cy="562.3" r="1.4" fill="#1c3040" stroke="#d8e8f0" stroke-width="0.7"/>
<text x="183.4" y="563.5" font-size="3.2" font-weight="bold" fill="#fff" opacity="0.88">HCC11_MHH15_P2_120502</text>
<rect x="258.2" y="620.7" width="8" height="1.4" fill="#fff"/>
<text x="262.2" y="619.9" font-size="2.7" font-weight="bold" text-anchor="middle" fill="#fff">100 µm</text>
</g>
<clipPath id="ce12"><rect x="288.6" y="556.8" width="90.8" height="67.4"/></clipPath>
<g clip-path="url(#ce12)">
<rect x="287.6" y="555.8" width="92.8" height="70.2" fill="#2f6c9e"/>
<ellipse cx="304.9" cy="580.7" rx="25.4" ry="27.3" fill="#6a9ec4" opacity="0.5" filter="url(#b8)"/>
<ellipse cx="356.7" cy="571.8" rx="27.2" ry="17.1" fill="#6a9ec4" opacity="0.45" filter="url(#b8)"/>
<ellipse cx="374.9" cy="597.7" rx="13.6" ry="20.5" fill="#6a9ec4" opacity="0.35" filter="url(#b8)"/>
<ellipse cx="293.1" cy="625.0" rx="22.7" ry="17.1" fill="#1e4f80" opacity="0.6" filter="url(#b8)"/>
<ellipse cx="338.5" cy="607.9" rx="18.2" ry="17.1" fill="#245d92" opacity="0.5" filter="url(#b8)"/>
<rect x="288.6" y="556.8" width="90.8" height="68.2" filter="url(#nf)" opacity="0.25"/>
<path d="M305.4 591.7h0M360.6 563.2h0M348.0 598.8h0M290.0 592.8h0M305.9 573.3h0M348.8 588.0h0M352.9 578.3h0M325.0 614.5h0M375.6 614.6h0M307.6 618.9h0M377.6 583.9h0M357.4 564.8h0M304.7 594.9h0M305.9 606.7h0M347.0 564.7h0M307.9 575.2h0M361.5 577.5h0M307.7 583.7h0M308.0 574.4h0M318.5 577.0h0M296.8 596.5h0M343.2 582.2h0M375.7 589.8h0M367.3 569.3h0M371.1 612.6h0M306.5 621.6h0M343.4 585.5h0M292.1 622.5h0M352.6 574.3h0M342.8 576.8h0M354.0 561.5h0M314.0 619.4h0M290.1 575.2h0M294.1 568.8h0M340.6 565.8h0M351.4 596.7h0M352.2 622.5h0M317.6 625.0h0M371.7 580.8h0M370.4 616.2h0M345.3 582.9h0M328.6 614.0h0M311.8 557.6h0M350.2 570.6h0M370.8 601.8h0M369.6 579.1h0M306.6 586.2h0M371.6 616.8h0M341.5 578.4h0M304.0 587.5h0M308.0 585.0h0M377.8 587.7h0M291.5 616.3h0M360.5 558.1h0M310.2 566.4h0M350.8 570.4h0M304.8 557.5h0M353.4 569.0h0M360.5 618.6h0M373.3 606.1h0M347.7 570.8h0M377.3 593.4h0M317.7 618.9h0M320.2 562.4h0M291.2 612.0h0M361.2 568.6h0M360.1 566.4h0M374.8 562.7h0M339.4 578.1h0M365.3 618.2h0M340.6 570.5h0M334.3 598.1h0M376.6 592.0h0M351.3 561.3h0M326.2 622.1h0M313.0 589.1h0M331.9 578.4h0M344.7 619.9h0M359.4 558.4h0M309.2 603.7h0M320.9 599.1h0M355.0 565.2h0M311.4 570.3h0M328.3 582.4h0M336.7 567.7h0M370.6 578.3h0M369.2 565.9h0M354.6 574.5h0M364.2 585.6h0M300.0 584.3h0M371.4 622.8h0M350.9 569.7h0M335.3 595.6h0M305.4 570.7h0M378.5 620.0h0M294.2 621.7h0M358.0 579.1h0M305.1 587.8h0M325.4 570.1h0M345.7 584.4h0M312.1 619.0h0M354.2 561.6h0M374.4 602.2h0M324.0 625.0h0M311.9 584.2h0M306.3 582.4h0M311.4 618.6h0M334.7 622.8h0M379.0 600.3h0M292.7 620.2h0M331.4 568.3h0M321.8 576.3h0M339.5 576.1h0M315.5 557.8h0M324.0 618.0h0M295.3 618.6h0M332.0 623.2h0M336.1 620.7h0M331.1 623.6h0M343.4 564.6h0M330.0 570.7h0M336.6 565.3h0M349.2 587.9h0M355.3 573.1h0M369.7 610.3h0M321.2 575.3h0M357.0 569.7h0M292.2 560.9h0M327.2 599.3h0M337.8 561.7h0M322.5 589.4h0M372.2 586.0h0M297.4 616.5h0M296.1 595.3h0M350.8 577.2h0M295.5 571.3h0M296.0 577.5h0M351.6 576.1h0M321.1 606.3h0M299.3 605.2h0M369.8 573.7h0M321.8 581.6h0M323.8 570.1h0M368.6 576.0h0M376.4 601.2h0M310.9 571.8h0M319.3 622.8h0M375.6 600.5h0M378.6 582.4h0M307.2 585.8h0M376.7 560.8h0M304.9 561.1h0M341.6 618.8h0M298.5 569.4h0M310.0 605.7h0M308.9 569.4h0M304.3 608.5h0M332.4 571.9h0M374.6 611.5h0M336.5 592.0h0M378.5 601.6h0M289.6 589.0h0M302.9 567.5h0M312.2 616.1h0M346.4 624.5h0M363.2 562.4h0M353.7 563.4h0M331.2 622.0h0M366.4 577.5h0M326.5 619.3h0M363.6 571.0h0M316.9 578.0h0M316.4 588.7h0M321.3 603.7h0M363.9 601.4h0M322.8 605.2h0M339.8 588.0h0M378.6 611.3h0M344.5 576.6h0M337.6 577.1h0M324.2 602.3h0M306.8 606.7h0M374.4 595.2h0M318.7 613.2h0M352.9 569.1h0M364.6 597.2h0M309.2 567.5h0M318.7 584.9h0M290.3 579.4h0M347.7 564.0h0M344.1 567.6h0M370.6 594.2h0M378.2 592.0h0M364.5 570.2h0M345.5 570.3h0M310.8 596.1h0M318.5 620.2h0M300.9 618.5h0M314.8 618.0h0M340.7 613.5h0M338.3 562.0h0M348.4 577.8h0M355.6 582.8h0M361.6 557.9h0M331.1 566.6h0M340.3 568.6h0M312.5 595.5h0M301.7 622.2h0M366.2 584.7h0M370.3 606.7h0M356.9 577.6h0M294.9 565.3h0M334.2 583.9h0M351.7 592.7h0M316.4 583.8h0M361.7 571.9h0M340.1 618.4h0M360.5 565.2h0M374.9 556.8h0M315.8 578.9h0M369.9 612.4h0M321.0 596.7h0M291.4 618.1h0M331.5 570.9h0M372.4 618.0h0M364.7 581.0h0M306.9 599.9h0M368.5 560.2h0M354.5 578.1h0M367.6 605.4h0M295.8 572.0h0M353.1 570.2h0M342.2 572.4h0M372.7 602.3h0M292.7 597.7h0M311.4 611.6h0M314.5 608.3h0M313.9 594.2h0M370.1 624.2h0M373.0 590.9h0M335.9 621.7h0M359.4 568.1h0M310.0 586.8h0M333.0 571.9h0M304.9 567.2h0M333.6 586.4h0M312.5 611.3h0M371.0 595.6h0M360.5 573.0h0M316.8 559.7h0M345.0 592.6h0M304.2 574.2h0M294.2 584.8h0M308.2 623.0h0M301.7 587.9h0M301.5 583.6h0M327.1 562.0h0M379.0 608.9h0M309.5 574.1h0M310.5 588.3h0M344.1 559.5h0M347.6 560.8h0M369.1 588.3h0M365.1 582.8h0M308.2 580.5h0M338.5 568.0h0M308.1 588.7h0M329.2 624.5h0M366.9 570.8h0M295.2 604.0h0M313.5 558.1h0M312.4 583.6h0M353.5 575.1h0M302.5 620.7h0M290.5 578.8h0M296.2 617.0h0M358.6 592.2h0M324.4 573.1h0M302.3 597.4h0M317.0 585.7h0M300.9 605.0h0M354.5 602.2h0M307.2 575.9h0M309.1 576.7h0M308.2 559.6h0M377.2 577.1h0M372.1 571.5h0M309.9 599.9h0M327.4 583.6h0M323.4 579.2h0M314.0 567.6h0M310.4 563.1h0M290.7 583.5h0M294.3 584.4h0M318.2 574.1h0M320.1 617.6h0M312.4 602.4h0M325.9 585.1h0M371.2 559.4h0M334.6 577.8h0M377.3 567.0h0M309.3 603.2h0M288.7 593.9h0M310.3 590.5h0M320.1 617.2h0M376.1 613.0h0M337.1 573.0h0M318.1 568.9h0M300.0 561.1h0M297.9 604.9h0M293.5 574.1h0M360.9 583.6h0M311.5 605.6h0M363.8 595.5h0M361.4 565.3h0M349.4 572.6h0M373.4 624.2h0M353.4 564.9h0M299.5 579.3h0M314.4 583.5h0M301.9 568.7h0M373.4 573.9h0M299.5 578.9h0M340.0 566.6h0M313.5 572.3h0M321.8 574.5h0M294.4 617.7h0M295.7 569.2h0M304.6 558.6h0M299.4 561.9h0" stroke="#b8d6ea" stroke-width="1.6" stroke-linecap="round" fill="none" opacity="0.85"/>
<path d="M357.0 577.9h0M325.1 604.9h0M309.2 583.3h0M346.5 580.9h0M370.8 578.7h0M319.0 607.4h0M304.7 564.0h0M320.4 586.2h0M334.2 584.3h0M337.4 621.7h0M368.5 578.7h0M298.4 624.1h0M376.0 571.8h0M352.7 568.9h0M305.3 581.2h0M302.0 600.1h0M347.1 571.3h0M334.4 595.5h0M364.6 603.8h0M349.0 585.4h0M309.5 597.8h0M373.2 567.2h0M378.8 607.1h0M311.4 611.8h0M337.3 615.8h0M314.0 600.7h0M360.9 567.2h0M297.7 559.3h0M367.1 613.7h0M305.1 583.3h0M344.6 618.3h0M378.3 570.9h0M368.2 606.4h0M349.3 586.2h0M319.4 578.3h0M313.9 597.9h0M305.0 565.5h0M331.0 565.6h0M374.0 598.4h0M306.4 624.6h0M355.5 581.4h0M320.0 604.8h0M314.6 615.1h0M329.9 620.5h0M294.4 585.4h0M328.6 621.9h0M311.5 585.5h0M296.6 581.6h0M370.1 621.6h0M346.1 588.8h0M378.7 583.7h0M294.6 588.3h0M307.6 582.0h0M324.4 607.4h0M303.8 601.1h0M356.0 574.1h0M355.0 609.7h0M374.4 617.9h0M320.5 593.3h0M298.7 610.6h0M300.4 562.8h0M315.3 609.8h0M326.2 560.5h0M302.7 623.0h0M376.1 585.0h0M353.3 567.5h0M291.2 564.3h0M376.3 600.7h0M292.8 585.2h0M318.5 590.1h0M334.1 618.4h0M315.8 607.2h0M322.0 586.1h0M321.1 586.2h0M293.1 613.8h0M308.8 563.6h0M317.1 589.8h0M356.7 590.0h0M325.5 622.7h0M342.5 622.3h0M342.9 582.0h0M293.4 563.1h0M313.1 611.1h0M366.7 584.2h0M364.1 579.2h0M293.8 608.9h0M356.9 596.3h0M355.5 585.3h0M377.9 619.3h0M322.9 587.3h0M299.3 578.6h0M349.1 594.2h0M299.3 577.9h0M339.5 619.7h0M299.8 616.4h0M291.4 586.3h0M298.2 607.4h0M341.8 570.6h0M303.5 580.7h0M365.1 581.2h0M332.2 623.7h0M351.9 572.7h0M294.4 613.1h0M330.0 590.0h0M357.0 563.8h0M302.4 621.6h0M308.4 570.4h0M353.8 576.6h0M354.6 574.9h0M290.4 593.4h0M315.2 574.0h0M332.6 575.4h0M313.8 591.5h0M359.0 574.5h0M373.6 581.5h0M309.8 587.7h0M340.0 580.6h0M297.9 595.4h0M294.2 602.2h0M305.4 592.7h0M326.5 589.9h0M339.6 566.0h0M366.6 620.6h0M375.5 558.4h0M377.2 613.6h0M319.1 580.4h0M358.5 574.7h0M304.6 567.0h0M310.2 601.4h0M305.4 572.6h0M360.4 593.6h0M357.9 573.5h0M326.2 624.3h0M321.0 618.9h0M359.6 579.9h0M323.1 576.4h0M289.9 590.8h0M294.5 619.2h0M373.2 580.1h0M306.1 566.1h0M329.8 582.2h0M313.4 620.8h0M305.4 580.5h0M316.5 569.3h0M296.0 572.0h0M334.3 567.7h0M376.9 588.2h0M365.4 588.5h0M374.3 623.5h0M357.9 584.1h0" stroke="#e6f2f8" stroke-width="0.9" stroke-linecap="round" fill="none" opacity="0.85"/>
<text x="293.8" y="563.5" font-size="3.2" font-weight="bold" fill="#fff" opacity="0.88">HCC11_MHH15_P2_120512</text>
<rect x="368.6" y="620.7" width="8" height="1.4" fill="#fff"/>
<text x="372.6" y="619.9" font-size="2.7" font-weight="bold" text-anchor="middle" fill="#fff">200 µm</text>
</g>
<clipPath id="ce13"><rect x="400.5" y="556.8" width="90.8" height="67.4"/></clipPath>
<g clip-path="url(#ce13)">
<rect x="399.5" y="555.8" width="92.8" height="70.2" fill="#5a849c"/>
<ellipse cx="445.9" cy="587.5" rx="49.9" ry="15.0" fill="#98b6c4" opacity="0.65" filter="url(#b8)" transform="rotate(24 445.9 587.5)"/>
<ellipse cx="407.8" cy="619.5" rx="31.8" ry="20.5" fill="#27506c" opacity="0.75" filter="url(#b8)"/>
<ellipse cx="491.3" cy="563.6" rx="22.7" ry="20.5" fill="#3a6683" opacity="0.5" filter="url(#b8)"/>
<ellipse cx="491.3" cy="625.0" rx="18.2" ry="17.1" fill="#315c79" opacity="0.5" filter="url(#b8)"/>
<rect x="400.5" y="556.8" width="90.8" height="68.2" filter="url(#nf)" opacity="0.3"/>
<rect x="400.5" y="556.8" width="90.8" height="68.2" filter="url(#nw2)" opacity="0.18"/>
<rect x="400.5" y="556.8" width="90.8" height="68.2" filter="url(#nk)" opacity="0.12"/>
<text x="405.7" y="563.5" font-size="3.2" font-weight="bold" fill="#fff" opacity="0.88">HCC11_MHH15_P4_120519</text>
<rect x="480.5" y="620.7" width="8" height="1.4" fill="#fff"/>
<text x="484.5" y="619.9" font-size="2.7" font-weight="bold" text-anchor="middle" fill="#fff">200 µm</text>
</g>
<clipPath id="ce20"><rect x="66.3" y="639.8" width="90.8" height="68.2"/></clipPath>
<g clip-path="url(#ce20)">
<rect x="65.3" y="638.8" width="92.8" height="70.2" fill="#866a8c"/>
<ellipse cx="114.4" cy="682.1" rx="8.2" ry="8.9" fill="#d8a8a8" opacity="0.45" filter="url(#b4)"/>
<ellipse cx="146.2" cy="660.3" rx="5.4" ry="10.2" fill="#d8a8a8" opacity="0.4" filter="url(#b4)"/>
<ellipse cx="91.7" cy="697.8" rx="9.1" ry="6.8" fill="#d8a8a8" opacity="0.35" filter="url(#b4)"/>
<path d="M143.4 652.5h0M152.5 693.9h0M143.8 665.4h0M119.0 680.1h0M116.8 676.9h0M111.4 705.9h0M109.4 685.5h0M143.4 657.4h0M78.7 698.7h0M141.1 654.7h0M147.4 677.0h0M97.6 694.5h0M113.5 702.6h0M147.8 647.7h0M93.5 705.4h0M88.8 697.8h0M94.2 700.2h0M79.3 697.1h0M111.6 678.8h0M85.2 703.5h0M84.8 706.3h0M113.6 693.1h0M116.6 701.6h0M89.4 694.9h0M104.4 688.2h0M146.8 645.8h0M136.2 673.3h0M108.0 697.7h0M107.0 703.6h0M139.6 680.8h0M92.2 695.2h0M105.3 702.0h0M88.9 698.9h0M77.4 700.8h0M113.2 704.2h0M96.9 698.7h0M150.7 657.5h0M115.5 669.2h0M137.6 670.2h0M108.2 705.6h0M89.1 703.3h0M108.8 688.5h0M106.5 685.1h0M145.6 666.6h0M147.1 654.4h0M118.8 687.0h0M111.9 678.1h0M111.4 704.6h0M110.3 704.9h0M125.0 674.1h0M154.6 693.9h0M151.0 648.4h0M109.2 699.6h0M140.0 647.5h0M153.9 684.4h0M140.9 672.2h0M118.1 684.7h0M146.8 663.7h0M120.6 679.5h0M145.6 665.0h0M151.5 659.3h0M86.1 703.7h0M111.8 702.2h0M113.4 683.6h0M155.7 691.9h0M105.4 688.5h0M78.4 701.6h0M136.1 672.0h0M106.5 677.1h0M112.9 674.7h0M144.3 658.3h0M152.2 695.8h0M119.6 673.3h0M100.8 704.1h0M153.0 696.7h0M96.4 690.6h0M143.0 656.4h0M150.5 662.6h0M96.4 696.2h0M84.2 700.1h0M117.8 701.8h0M89.8 697.4h0M117.4 680.8h0M109.8 683.6h0M148.4 660.4h0M154.4 652.3h0M80.1 694.8h0M95.4 707.3h0M109.2 700.4h0M119.6 686.8h0M140.8 661.9h0M112.5 706.0h0M140.4 672.3h0M145.4 656.5h0M143.8 661.7h0M95.5 697.7h0M104.2 688.6h0M112.4 678.4h0M154.7 674.9h0M120.7 698.0h0M144.4 649.8h0M91.0 701.3h0M144.9 648.3h0M150.7 657.7h0M154.4 701.3h0M144.4 664.2h0M154.5 691.6h0M126.5 705.5h0M92.1 699.5h0M149.1 664.9h0M116.0 704.7h0M112.5 673.9h0M95.9 694.7h0M105.4 704.4h0M122.8 701.2h0M122.9 694.1h0M110.8 704.6h0M138.9 657.7h0M116.3 678.7h0M98.3 693.8h0M152.8 685.5h0M105.9 702.1h0M90.1 699.2h0M145.7 642.1h0M144.0 663.7h0M146.7 668.5h0M96.0 701.9h0M96.5 685.8h0M141.6 662.1h0M117.2 695.4h0M153.1 691.0h0M121.2 686.0h0M140.7 655.0h0M108.3 694.5h0M99.3 701.1h0M116.2 676.5h0M121.7 675.7h0M93.4 700.6h0M96.9 692.3h0M124.3 683.1h0M152.5 656.5h0M107.1 685.4h0M153.1 687.3h0M111.8 686.4h0M106.7 704.9h0M125.9 685.0h0M88.7 696.1h0M99.3 691.7h0M115.2 673.1h0M141.9 647.3h0M156.0 685.0h0M148.7 658.4h0M143.0 662.2h0M108.1 671.0h0M91.2 700.6h0M138.7 674.3h0M88.7 682.0h0M144.1 654.4h0M99.9 700.4h0M109.2 704.0h0M118.3 679.5h0M79.9 696.1h0M141.7 661.0h0M114.7 684.8h0M87.6 691.3h0" stroke="#e6c4c4" stroke-width="3.1" stroke-linecap="round" fill="none" opacity="0.93"/>
<path d="M143.4 652.5h0M152.5 693.9h0M143.8 665.4h0M119.0 680.1h0M116.8 676.9h0M111.4 705.9h0M109.4 685.5h0M143.4 657.4h0M78.7 698.7h0M141.1 654.7h0M147.4 677.0h0M97.6 694.5h0M113.5 702.6h0M147.8 647.7h0M93.5 705.4h0M88.8 697.8h0M94.2 700.2h0M79.3 697.1h0M111.6 678.8h0M85.2 703.5h0M84.8 706.3h0M113.6 693.1h0M116.6 701.6h0M89.4 694.9h0M104.4 688.2h0M146.8 645.8h0M136.2 673.3h0M108.0 697.7h0M107.0 703.6h0M139.6 680.8h0M92.2 695.2h0M105.3 702.0h0M88.9 698.9h0M77.4 700.8h0M113.2 704.2h0M96.9 698.7h0M150.7 657.5h0M115.5 669.2h0M137.6 670.2h0M108.2 705.6h0M89.1 703.3h0M108.8 688.5h0M106.5 685.1h0M145.6 666.6h0M147.1 654.4h0M118.8 687.0h0M111.9 678.1h0M111.4 704.6h0M110.3 704.9h0M125.0 674.1h0M154.6 693.9h0M151.0 648.4h0M109.2 699.6h0M140.0 647.5h0M153.9 684.4h0M140.9 672.2h0M118.1 684.7h0M146.8 663.7h0M120.6 679.5h0M145.6 665.0h0M151.5 659.3h0M86.1 703.7h0M111.8 702.2h0M113.4 683.6h0M155.7 691.9h0M105.4 688.5h0M78.4 701.6h0M136.1 672.0h0M106.5 677.1h0M112.9 674.7h0M144.3 658.3h0M152.2 695.8h0M119.6 673.3h0M100.8 704.1h0M153.0 696.7h0M96.4 690.6h0M143.0 656.4h0M150.5 662.6h0M96.4 696.2h0M84.2 700.1h0M117.8 701.8h0M89.8 697.4h0M117.4 680.8h0M109.8 683.6h0M148.4 660.4h0M154.4 652.3h0M80.1 694.8h0M95.4 707.3h0M109.2 700.4h0M119.6 686.8h0M140.8 661.9h0M112.5 706.0h0M140.4 672.3h0M145.4 656.5h0M143.8 661.7h0M95.5 697.7h0M104.2 688.6h0M112.4 678.4h0M154.7 674.9h0M120.7 698.0h0M144.4 649.8h0M91.0 701.3h0M144.9 648.3h0M150.7 657.7h0M154.4 701.3h0M144.4 664.2h0M154.5 691.6h0M126.5 705.5h0M92.1 699.5h0M149.1 664.9h0M116.0 704.7h0M112.5 673.9h0M95.9 694.7h0M105.4 704.4h0M122.8 701.2h0M122.9 694.1h0M110.8 704.6h0M138.9 657.7h0M116.3 678.7h0M98.3 693.8h0M152.8 685.5h0M105.9 702.1h0M90.1 699.2h0M145.7 642.1h0M144.0 663.7h0M146.7 668.5h0M96.0 701.9h0M96.5 685.8h0M141.6 662.1h0M117.2 695.4h0M153.1 691.0h0M121.2 686.0h0M140.7 655.0h0M108.3 694.5h0M99.3 701.1h0M116.2 676.5h0M121.7 675.7h0M93.4 700.6h0M96.9 692.3h0M124.3 683.1h0M152.5 656.5h0M107.1 685.4h0M153.1 687.3h0M111.8 686.4h0M106.7 704.9h0M125.9 685.0h0M88.7 696.1h0M99.3 691.7h0M115.2 673.1h0M141.9 647.3h0M156.0 685.0h0M148.7 658.4h0M143.0 662.2h0M108.1 671.0h0M91.2 700.6h0M138.7 674.3h0M88.7 682.0h0M144.1 654.4h0M99.9 700.4h0M109.2 704.0h0M118.3 679.5h0M79.9 696.1h0M141.7 661.0h0M114.7 684.8h0M87.6 691.3h0" stroke="#a87886" stroke-width="1.30" stroke-linecap="round" fill="none" opacity="0.93"/>
<path d="M82.5 678.5h0M140.1 648.8h0M122.1 690.0h0M143.0 702.7h0M124.3 659.4h0M109.3 660.4h0M134.0 670.2h0M91.0 652.6h0" stroke="#c8a4bc" stroke-width="2.8" stroke-linecap="round" fill="none" opacity="0.8"/>
<path d="M82.5 678.5h0M140.1 648.8h0M122.1 690.0h0M143.0 702.7h0M124.3 659.4h0M109.3 660.4h0M134.0 670.2h0M91.0 652.6h0" stroke="#82648c" stroke-width="1.18" stroke-linecap="round" fill="none" opacity="0.8"/>
<path d="M110.8 684.6h0" stroke="#8c4434" stroke-width="2.0" stroke-linecap="round" fill="none" opacity="0.9"/>
<text x="71.5" y="646.5" font-size="3.2" font-weight="bold" fill="#fff" opacity="0.88">HCC12_MHH15_220530</text>
<rect x="146.3" y="704.5" width="8" height="1.4" fill="#fff"/>
<text x="150.3" y="703.7" font-size="2.7" font-weight="bold" text-anchor="middle" fill="#fff">100 µm</text>
</g>
<clipPath id="ce21"><rect x="178.2" y="639.8" width="90.8" height="68.2"/></clipPath>
<g clip-path="url(#ce21)">
<rect x="177.2" y="638.8" width="92.8" height="70.2" fill="#7f6293"/>
<ellipse cx="232.7" cy="660.3" rx="36.3" ry="23.9" fill="#9a80ac" opacity="0.4" filter="url(#b8)"/>
<ellipse cx="187.3" cy="701.2" rx="27.2" ry="20.5" fill="#6a4e80" opacity="0.4" filter="url(#b8)"/>
<path d="M187.9 687.7l-10.6 8.4M263.6 658.3l6.8 3.0M244.9 684.7l3.7 15.6M240.3 666.9l8.4 15.6M189.0 655.0l-9.4 2.0M210.7 657.6l-6.7 3.2M235.6 650.0l6.4 4.4M238.5 651.0l11.1 7.7M189.4 662.8l-16.2 4.4M196.8 706.5l-6.8 10.9M268.1 669.7l13.6 6.8M257.4 686.6l5.4 9.7M231.7 683.0l1.7 8.9M186.8 699.5l-9.0 10.4M195.8 670.7l-4.9 2.7M250.7 673.9l5.1 7.4M252.5 645.9l14.8 -1.4M180.7 690.3l-8.2 7.7M225.9 646.1l-16.0 -2.7M240.4 676.3l1.9 9.4M222.2 669.6l-2.2 6.8M186.8 672.2l-10.8 7.4M256.8 703.8l4.1 8.5M191.2 687.8l-11.7 11.3M179.9 687.9l-7.8 7.2M216.6 663.5l-11.1 13.5M263.5 657.8l7.4 2.8M195.3 682.7l-5.9 6.5M201.5 666.3l-10.1 7.4M206.6 706.8l-3.1 8.7M203.9 703.6l-2.7 7.7M201.0 642.2l-6.9 -1.1M196.3 655.5l-15.5 5.5M202.2 656.8l-14.7 7.1M261.5 659.7l8.7 3.8M211.7 678.1l-3.4 6.4M263.8 691.4l4.7 7.5M254.6 664.8l12.8 9.6M265.4 677.0l7.6 6.9M206.8 702.2l-7.1 14.7M200.7 703.5l-5.1 9.9M209.0 657.7l-6.5 3.3M196.4 687.0l-9.1 9.2M201.7 670.3l-5.2 5.3M212.7 693.3l-7.5 15.7M211.7 668.8l-3.4 4.4M198.4 649.8l-6.0 -0.2M191.5 685.4l-9.5 7.2M236.9 684.6l0.5 8.0M262.9 684.6l8.1 9.5M182.4 667.5l-17.2 5.3M220.9 703.5l-0.7 14.6M183.8 686.2l-11.4 12.5M227.5 646.4l-11.0 -2.6M216.9 706.7l-2.1 9.9M253.5 703.3l3.4 8.7M250.3 660.6l6.2 3.8M212.6 680.0l-3.2 5.1M219.0 693.3l-0.7 6.3M226.2 660.0l-1.9 6.1M200.7 686.3l-6.6 11.2M178.3 707.8l-11.1 10.9M268.0 703.1l7.5 13.6M255.9 666.9l8.9 8.7M209.6 703.6l-2.7 6.9M190.6 705.0l-7.0 14.3M242.3 705.8l3.0 13.9M254.0 670.0l5.9 6.8M184.5 669.7l-7.0 2.9M250.3 668.6l8.7 12.5M266.1 668.4l6.5 3.0M180.9 698.6l-7.0 6.8M213.4 675.2l-8.1 11.5M198.4 655.9l-8.0 1.2M256.3 656.6l16.2 3.9M256.9 677.9l5.5 6.9M239.5 686.6l2.0 6.7M248.5 668.7l6.5 8.3M245.8 682.4l5.7 11.0M194.9 665.2l-10.3 4.9M213.1 680.9l-6.7 15.1M246.7 663.6l10.3 11.1M253.4 661.0l5.0 3.6M236.0 648.9l7.7 3.8M203.2 701.5l-6.1 12.3M192.2 675.3l-13.1 7.2M222.3 683.1l-1.9 7.7M265.3 651.7l13.1 1.0M180.4 674.4l-14.6 7.5M190.2 679.9l-14.4 9.8M206.3 667.3l-13.7 10.5M233.1 663.7l1.0 10.3M255.7 677.7l8.4 10.9M252.5 707.9l3.6 12.3M179.6 660.6l-11.9 4.5M193.8 653.4l-7.2 1.8M188.6 697.7l-7.0 7.2M213.4 680.3l-9.2 13.9M248.6 669.7l4.3 6.0M247.6 645.0l5.6 -1.0M252.7 656.3l11.7 7.1M196.9 676.5l-9.3 9.3M212.4 676.1l-9.1 12.5M256.6 682.5l8.0 12.4M185.5 690.6l-3.9 4.9M228.7 655.5l-0.3 11.6M187.8 672.1l-10.4 7.6M213.2 644.2l-8.0 -1.8M266.5 664.4l14.6 6.9M209.0 658.4l-8.7 6.2M266.5 693.0l3.3 5.0M181.8 670.6l-5.6 2.8M183.8 665.5l-5.6 2.2M187.6 674.7l-4.9 3.3M262.3 702.3l7.3 13.4M194.4 705.5l-4.1 8.0M209.3 696.0l-4.1 9.9M264.7 687.6l5.0 4.9M192.1 704.1l-9.1 15.1M241.5 660.3l7.6 8.2M205.1 651.4l-13.1 3.9M189.0 656.4l-17.1 2.7M196.8 654.4l-7.4 2.5M199.5 640.5l-6.4 -0.7M238.1 661.0l5.2 10.4M229.0 654.8l-1.9 7.1M199.1 695.0l-3.7 6.6M178.5 697.6l-4.5 4.6M223.8 704.3l-0.8 11.3M200.1 643.2l-10.3 0.2M219.5 688.3l-1.1 6.5M267.2 703.6l5.2 7.1M224.0 701.9l-2.8 12.2M189.5 683.4l-6.8 4.7M266.5 662.0l11.3 3.0M204.6 661.8l-7.9 4.5M250.9 640.8l5.2 -2.0M200.6 705.2l-7.4 13.1M218.5 703.7l-0.9 14.2M213.1 667.0l-6.8 6.6M242.1 659.4l10.1 14.1M230.1 692.1l-0.8 8.4M221.9 704.6l-0.1 10.3M263.4 688.5l12.2 12.1M210.9 698.5l-3.8 10.0M246.1 666.2l3.8 4.5M179.8 689.6l-11.9 8.5M223.1 689.3l-0.3 9.0M264.0 685.1l10.1 14.3M262.5 643.5l14.2 0.3M262.2 697.5l9.9 14.7M257.1 651.9l10.8 1.8M205.1 703.2l-4.8 15.9M207.7 674.5l-10.0 13.2M257.3 647.1l9.5 1.1M268.8 640.6l12.5 -1.7M215.3 699.8l-1.9 11.1M230.0 694.7l0.9 15.7M253.6 640.9l7.4 -2.2M180.1 697.9l-13.8 11.1M186.8 669.1l-7.1 2.8M179.5 683.4l-4.9 4.2M207.6 642.7l-16.6 -2.0M253.7 692.3l3.8 8.8M200.9 705.4l-9.1 14.3M266.1 668.1l5.8 2.5M239.7 693.4l1.1 15.2M249.4 673.8l3.7 7.1M221.6 642.6l-13.3 -7.9M208.6 652.1l-14.0 3.5M226.0 661.4l-1.1 8.1M263.3 668.8l13.5 9.4M178.2 664.1l-7.0 3.2M224.5 707.6l-1.6 9.6M179.8 644.0l-15.8 -2.4M246.8 707.2l3.7 10.1M233.1 665.8l2.1 7.1M190.0 666.9l-12.1 7.3M251.7 676.5l10.3 10.5M255.5 660.3l14.7 6.0M243.4 682.6l5.5 16.0M235.7 701.4l-0.6 15.9M228.9 705.3l-0.9 16.3M262.3 700.0l5.5 8.6M188.2 700.3l-9.8 12.5M208.5 704.7l-3.7 11.8M236.8 655.2l3.6 4.4M197.8 647.1l-7.5 -0.3M219.7 691.1l-1.9 6.3M204.7 659.8l-5.1 2.2M190.2 678.1l-5.2 5.2M240.6 657.3l7.8 8.9M186.7 672.0l-12.5 9.0M178.3 683.9l-7.5 6.5M203.6 661.5l-9.2 4.7M192.3 658.2l-13.1 3.6M225.3 651.2l-5.7 4.4M222.8 699.0l-1.3 10.9M240.4 676.0l2.2 10.0M215.7 695.8l-1.0 7.7M227.9 672.5l0.4 16.7M215.8 651.4l-15.4 3.5M180.9 678.5l-8.2 5.9M257.5 703.4l7.8 13.8M250.9 664.2l13.7 10.9M221.0 690.5l-0.9 10.9M265.3 671.6l9.2 7.8M194.5 689.4l-3.4 4.4M215.3 665.7l-8.8 11.2M230.6 658.6l0.8 10.1M181.9 672.3l-15.6 8.3M188.0 654.7l-17.1 5.4M180.2 688.9l-12.3 12.5M254.1 697.8l5.1 9.7M262.1 649.5l13.0 3.0M199.8 687.4l-7.6 13.3M240.8 654.5l5.3 3.1M207.8 705.4l-2.6 8.4M241.7 670.4l5.0 13.6M187.0 655.2l-11.1 0.5M196.6 672.5l-11.2 6.6M190.2 665.0l-5.8 3.7M261.5 693.0l7.9 14.8M204.8 656.1l-6.0 3.3M226.4 706.0l-1.7 11.5M195.5 666.8l-4.9 3.4M184.3 641.3l-11.8 -1.7M179.8 695.9l-6.0 5.6M220.7 707.8l-4.2 14.0M264.0 654.7l8.6 0.8M216.1 676.0l-2.0 5.4M189.6 688.2l-10.6 10.6M264.0 694.1l6.4 8.4M182.3 643.8l-17.4 -0.4M218.4 642.2l-11.7 -3.8M183.5 707.6l-7.1 8.4M201.9 650.0l-10.5 0.1M187.9 694.1l-5.3 5.3M252.2 645.0l14.8 -2.0M255.8 666.7l11.1 11.2M179.3 675.2l-10.7 8.1M217.2 646.6l-7.1 0.3M251.9 659.2l12.9 7.9M193.4 681.8l-7.0 6.8M232.6 669.7l0.7 8.1M215.6 644.6l-14.7 -1.1M191.8 692.9l-6.8 6.8M265.9 679.1l6.9 7.3M264.0 707.3l5.3 8.0M229.2 655.6l-1.0 17.1M185.1 700.2l-6.9 8.3M196.7 651.8l-7.7 2.4M264.1 654.1l14.0 1.2M183.4 688.0l-9.2 6.2M252.6 703.9l3.5 12.0M220.7 694.5l-2.7 14.4M207.0 702.2l-3.0 7.9M199.8 697.3l-3.3 5.1M253.2 663.3l13.1 9.4M180.5 654.0l-12.6 3.7M224.0 692.6l-0.5 8.1M183.5 656.3l-9.1 0.9M264.2 674.9l8.5 7.6M207.5 657.8l-11.3 5.1M207.4 682.5l-2.5 5.1M240.5 702.1l0.6 7.8M185.6 672.6l-10.5 5.6M184.6 703.8l-5.7 5.7M187.9 640.4l-16.8 -4.0M180.7 671.9l-10.3 3.8M222.1 707.6l-2.2 14.0M178.6 666.8l-5.0 2.7M259.2 655.3l16.5 2.8M218.4 669.6l-4.2 7.6M201.3 683.8l-6.6 9.7M251.9 695.4l5.9 15.9M252.6 661.7l7.3 3.8M230.2 653.2l-0.9 8.9M227.7 674.6l0.5 11.9M231.3 676.7l0.9 12.1M209.3 670.9l-5.1 6.7M246.0 643.8l17.4 -1.8M225.2 678.7l-1.1 7.6M228.3 646.6l-16.3 -1.2M226.7 660.2l-4.3 11.1M223.1 706.5l-2.6 13.5M179.9 685.0l-8.6 8.8M194.8 664.7l-9.0 6.2M250.1 671.0l5.7 6.7M225.1 649.9l-13.6 8.2M256.6 686.2l10.7 14.0M221.5 648.7l-9.6 2.4M184.2 705.6l-9.4 10.8M222.2 686.4l-1.6 8.2M220.9 657.0l-10.0 13.2M227.2 665.7l-3.0 15.4M231.2 684.1l-0.8 14.0M189.9 691.3l-4.4 5.8M244.5 695.8l4.8 17.1M213.5 679.4l-5.5 10.8M266.9 647.4l9.6 0.9M190.0 660.6l-9.9 4.1M263.8 699.8l5.8 7.4M236.5 691.2l1.0 7.5M182.3 680.0l-8.1 6.2M219.5 692.2l-2.9 11.5M189.9 702.7l-10.4 13.3M225.2 694.4l-0.5 10.3M212.7 700.7l-4.8 10.0M253.0 707.1l6.7 12.0M188.7 666.3l-5.5 2.6M209.6 667.0l-4.0 3.9M220.1 696.7l-4.3 13.7M205.5 648.0l-9.9 0.2M252.1 657.4l9.1 3.0M195.7 687.5l-9.5 11.1M221.1 669.7l-5.5 12.8M197.2 686.4l-8.1 13.5M197.3 644.8l-12.1 -0.0M209.0 698.7l-3.8 11.0M182.1 676.2l-8.4 5.7M197.5 686.6l-10.1 12.1M266.1 654.6l6.7 1.3M189.8 646.8l-10.7 0.2M258.6 690.6l4.1 4.8M239.1 655.2l5.8 4.8M198.0 658.1l-6.7 2.9M223.8 658.2l-6.3 13.3M250.8 694.3l4.3 12.1M229.4 647.1l-6.4 5.5M234.6 652.1l5.3 8.4M233.7 705.7l0.5 15.9M192.0 692.8l-5.4 5.8M199.1 670.0l-10.2 9.1M220.3 706.7l-1.2 5.6M210.8 698.9l-4.1 9.1M224.9 677.4l-0.2 5.7M242.1 701.9l1.9 6.6M229.6 671.2l1.4 17.8M239.5 707.4l4.0 13.1M245.1 694.4l4.7 16.0M179.1 662.7l-11.4 2.4M247.2 662.9l5.6 6.7M186.0 690.1l-12.3 12.6M267.7 659.9l7.9 2.9M210.2 669.7l-8.2 10.3M195.7 670.3l-6.5 3.4M235.0 696.8l-0.2 13.0M219.0 705.8l-0.3 7.3M240.7 679.2l3.3 10.0M221.3 682.0l-4.7 16.5M210.7 669.0l-11.4 12.4M243.0 687.6l2.9 13.1M203.6 692.3l-9.8 13.0M225.4 657.3l-5.2 14.4M225.2 701.7l-1.5 8.3M245.9 668.7l8.3 11.7M258.1 660.7l10.0 7.0M211.3 653.0l-15.0 6.8M198.5 704.4l-7.8 10.3M201.6 651.2l-12.6 0.1M261.6 662.3l4.7 3.1M268.6 663.3l9.0 4.9M187.7 642.8l-16.7 0.9M206.4 655.6l-9.4 3.6M250.2 670.0l5.2 7.3M247.1 646.1l13.3 0.7M181.6 653.7l-8.9 1.6M194.5 702.6l-4.3 5.7M222.2 645.0l-10.7 -2.0M262.3 674.1l13.8 9.5M235.3 679.0l5.0 16.3M178.7 654.0l-13.9 3.2M268.4 652.9l7.4 1.8M240.0 678.8l2.4 7.8M182.5 656.4l-7.8 0.5M245.6 685.0l3.0 6.3M251.1 639.9l11.7 -2.1M184.7 648.2l-17.1 1.8M213.3 699.9l-1.7 6.5M219.5 706.4l-3.5 12.8M240.3 699.1l0.7 6.9M207.6 670.2l-11.1 11.8M226.4 668.8l-0.6 14.8M201.4 687.3l-3.4 6.1M235.0 691.4l0.4 5.7M251.2 674.0l7.0 10.8M240.6 691.2l3.6 13.0M179.7 641.3l-15.6 -1.1M236.4 646.3l6.0 -0.6M190.9 661.1l-7.4 2.4M244.1 650.1l12.1 3.5M183.4 666.8l-5.4 2.8M227.2 657.8l-3.2 8.4M210.1 704.2l-3.4 11.4M192.6 690.2l-7.4 11.0M206.6 693.0l-2.3 5.5M241.3 673.4l3.1 11.3M182.9 684.8l-9.6 10.2M212.0 649.8l-9.8 1.6M251.3 645.9l10.9 0.2M248.0 690.9l4.8 16.6M240.5 654.2l11.7 7.1M236.2 647.4l6.6 0.4M240.4 642.5l14.5 -5.1M252.0 694.1l4.7 12.0M188.3 697.2l-8.8 9.6M228.5 652.1l-2.3 7.2M195.4 641.1l-14.4 -3.2M187.1 645.8l-17.0 0.8M253.4 646.7l17.5 -0.1M192.0 663.2l-15.4 7.3M203.9 663.1l-7.6 4.8M243.3 653.6l12.3 5.3M220.2 659.8l-8.3 9.3M192.2 695.5l-4.7 7.7M188.8 684.4l-12.5 9.0M184.1 644.9l-15.5 1.1M187.8 675.1l-6.1 5.0M246.3 688.1l4.1 14.3M212.8 647.3l-7.3 0.8M250.2 655.6l10.5 4.0M200.7 664.9l-15.3 6.6M208.0 650.1l-10.0 1.8M214.1 696.2l-4.7 16.8M238.3 671.6l3.3 16.8M201.4 646.4l-16.7 0.4M192.9 685.3l-6.9 5.6M244.3 656.7l9.3 6.7M219.7 654.9l-6.5 6.3M237.7 670.9l5.4 17.1M247.7 684.3l4.1 8.5M228.7 669.6l-2.4 14.7M251.6 692.3l4.6 11.3M180.3 644.6l-10.1 -0.5M264.4 665.2l7.9 5.9M219.0 671.6l-6.1 16.7M234.9 654.0l7.5 14.6M255.2 670.9l6.1 5.9M204.5 667.7l-8.2 8.1M195.2 680.8l-8.1 7.6M200.6 640.9l-17.6 -2.4M217.1 665.8l-4.4 8.8M246.5 656.7l10.5 7.8M203.1 664.5l-15.2 8.0M224.6 683.5l-1.9 9.7M210.9 656.7l-13.6 6.2M262.1 698.2l7.4 14.2M250.9 667.3l8.4 10.4M259.1 706.5l4.2 9.5M201.1 644.1l-16.2 -0.8M185.3 697.9l-11.0 12.1M203.5 647.3l-11.3 0.7M194.4 651.4l-10.7 2.4M189.4 644.6l-13.2 -1.5M215.6 656.8l-12.7 8.9M245.2 641.9l11.0 -2.4M217.8 676.5l-1.9 5.6M261.4 643.5l6.7 -1.4M191.9 643.5l-15.4 -1.1M203.0 672.7l-9.5 7.2M193.9 648.8l-16.7 2.2M259.8 659.4l9.2 4.9M238.8 697.8l1.3 7.7M230.5 656.0l1.3 16.5M225.2 644.3l-7.7 -5.0M187.6 689.0l-13.8 11.1M192.4 659.1l-12.3 2.1M241.7 664.9l8.7 15.8M181.4 672.1l-16.8 6.8M228.3 683.0l-0.7 9.5M253.0 698.8l2.9 6.6M255.8 651.0l10.1 3.2M259.7 662.0l16.5 7.3M188.9 679.1l-4.9 3.2M185.2 659.6l-12.8 4.6M216.8 655.5l-6.4 4.6M240.0 668.8l3.6 6.3M266.6 685.8l8.1 9.9M248.8 671.2l9.0 14.5M191.2 672.3l-7.5 6.2M250.0 696.9l3.5 14.5M256.6 685.4l7.6 11.0M245.1 673.5l5.5 9.5M190.6 703.3l-3.8 6.0M198.4 694.8l-10.3 13.3M199.5 706.1l-7.2 11.3M219.1 673.4l-3.2 6.3M229.3 648.3l-3.7 9.3M214.5 664.6l-9.4 11.0M195.9 679.9l-7.1 5.3M194.1 690.9l-6.0 6.6M228.1 699.9l0.3 14.4M236.3 692.7l0.3 5.8M189.1 668.8l-13.7 5.7M199.9 654.2l-11.0 2.8M265.6 707.5l6.2 8.7M254.7 659.9l8.8 5.2M258.4 685.9l6.9 7.4M187.7 672.8l-8.5 5.7M245.3 642.1l12.8 -5.4M242.4 684.4l4.7 16.0M269.0 652.0l6.2 1.8M195.2 658.8l-5.8 2.7M231.8 668.8l-0.2 12.5M221.1 677.7l-2.4 8.7M234.8 658.7l3.8 13.0M238.8 660.1l3.0 4.8M192.0 707.5l-3.7 8.0M268.8 640.6l9.8 -1.0M186.6 689.1l-12.6 11.5M243.8 688.9l5.1 12.9M255.6 704.7l4.8 12.6M203.0 704.6l-3.3 9.5M260.2 681.7l9.1 9.9M227.0 656.6l-2.3 14.7M188.3 656.9l-6.6 1.4M261.2 649.0l10.5 1.8M230.0 672.0l-0.6 15.2M180.8 648.8l-12.3 2.4" stroke="#d0c0dc" stroke-width="0.55" fill="none" opacity="0.3" stroke-linecap="round"/>
<path d="M202.1 673.4l-5.5 5.2M212.7 679.5l-3.2 6.9M209.7 670.3l-7.6 9.8M245.6 650.8l13.2 4.1M245.4 690.6l4.4 11.5M259.6 674.2l7.7 7.3M204.7 670.4l-7.2 5.3M190.9 690.2l-8.5 7.4M251.6 688.7l7.3 13.8M220.3 672.8l-5.2 9.9M194.2 649.9l-7.0 1.5M182.0 682.0l-11.0 6.2M256.5 669.1l5.6 3.6M185.4 680.9l-11.1 11.1M226.1 670.4l-1.6 13.6M237.6 680.9l4.3 12.5M256.3 653.8l10.6 3.5M215.9 682.1l-4.2 15.5M228.8 672.4l-1.5 10.3M194.3 700.3l-5.5 10.9M259.8 660.4l8.7 5.2M221.5 683.4l-1.7 10.5M255.4 651.6l8.8 2.6M235.8 669.2l0.7 5.8M189.7 676.4l-6.8 5.1M244.5 681.3l5.4 11.3M255.2 661.0l10.7 7.0M210.5 690.4l-4.5 13.0M247.6 700.9l2.6 6.1M256.6 660.7l11.0 4.2M182.1 670.4l-10.2 6.2M258.9 654.3l11.5 3.7M210.5 706.5l-3.5 10.8M253.7 666.3l11.2 8.5M245.4 703.9l3.1 8.0M240.9 658.9l8.5 9.7M218.2 685.8l-1.7 8.5M253.2 670.3l4.2 3.7M267.6 706.2l7.0 13.2M212.1 662.1l-7.9 5.8M265.2 689.2l7.9 11.0M263.8 646.9l5.9 0.2M230.3 663.6l-0.5 15.9M245.3 659.3l4.2 3.9M209.6 673.5l-4.5 7.5M215.4 705.0l-2.1 9.3M227.7 643.9l-5.4 -8.9M201.0 662.2l-5.1 3.3M196.7 663.9l-9.5 6.6M180.9 694.0l-8.8 11.3M213.4 686.8l-7.3 14.3M238.3 701.1l1.3 6.6M262.8 649.3l8.9 0.8M238.9 688.7l2.8 13.5M223.9 687.7l-2.5 12.1M182.0 674.8l-13.5 6.8M208.9 700.3l-4.7 15.1M200.8 686.2l-4.6 5.5M252.6 656.8l9.2 3.3M244.4 644.5l6.7 -1.2M250.4 690.2l8.1 12.9M257.5 684.7l4.6 5.7M229.5 674.9l-0.2 6.4M195.3 649.5l-14.0 -0.3M197.3 703.1l-6.1 8.6M184.8 663.6l-11.5 3.8M228.7 653.3l-2.2 9.4M220.2 650.0l-14.4 3.9M244.2 644.4l5.6 -1.7M254.4 679.0l6.0 9.0M258.6 642.4l13.0 -3.1M221.6 692.5l-0.9 5.6M249.4 677.1l4.6 6.6M186.3 698.4l-8.5 9.6M256.9 694.3l5.8 7.6M257.1 651.9l11.2 2.8M204.4 677.2l-7.4 6.8M245.4 685.7l3.4 13.7M196.4 655.7l-7.6 2.7M242.4 702.5l2.9 7.8M185.1 661.4l-15.9 3.2M220.3 691.1l-0.8 8.7M191.1 668.9l-6.0 3.2M255.3 689.8l2.9 6.8M189.7 698.0l-9.5 10.8M206.8 694.0l-5.7 15.0M250.6 660.5l5.7 4.2M252.6 688.5l5.9 9.0M192.2 656.2l-9.2 1.7M192.3 644.8l-15.6 -0.8M253.1 699.0l3.9 14.2M199.3 666.5l-9.5 7.1M209.5 692.4l-4.7 14.5M222.9 687.0l-1.7 15.8M258.9 685.2l7.8 9.9M228.3 687.0l0.5 8.0M228.1 660.7l-0.8 10.6M212.5 693.3l-3.4 11.0M199.1 705.4l-7.3 10.5M266.7 688.7l4.4 5.3M258.2 691.6l6.4 10.5M247.2 651.5l7.8 2.9M225.8 694.3l0.5 14.8M259.6 662.6l6.8 3.9M263.3 643.5l15.9 -2.7M233.6 679.2l0.1 8.6M229.9 665.1l-1.2 11.4M250.0 667.0l5.3 4.8M243.0 700.8l3.0 11.1M241.4 662.2l6.5 9.4M241.7 683.9l1.3 8.4M263.5 668.0l11.5 6.0M241.4 649.2l7.2 1.1M214.0 696.1l-2.8 13.6M181.6 678.5l-11.7 7.9M242.7 704.6l4.2 15.6M187.3 692.2l-11.2 9.1M258.8 644.9l7.4 -1.0M258.6 694.2l6.8 10.3M236.1 671.3l2.2 10.9M195.3 689.6l-5.5 7.9M261.0 668.0l12.0 8.6M265.0 693.3l7.0 8.8M192.6 644.6l-11.2 -1.1M230.0 702.9l-1.1 10.7M219.4 673.1l-3.6 8.3M232.7 642.7l4.9 -7.1M199.6 669.4l-7.3 4.7M183.7 640.3l-9.9 -2.6M218.0 640.9l-5.2 -1.8M229.1 668.3l-1.3 15.1M249.2 689.9l1.9 6.2M256.3 693.6l4.5 8.3M249.4 666.2l6.8 8.7M250.5 655.9l7.5 3.9M261.2 669.8l4.7 2.9M243.2 700.8l5.4 14.9M243.6 702.3l1.5 14.2M226.1 696.2l-1.2 7.5M190.5 692.5l-7.1 9.7M255.5 682.9l3.9 7.7M193.3 670.3l-6.1 4.6M210.6 661.6l-8.0 7.4M216.5 681.4l-3.0 5.7M266.2 662.3l13.3 8.2M223.4 649.6l-10.5 3.7M224.4 663.8l-2.7 6.6M185.8 648.6l-8.7 -0.7M267.7 648.6l13.6 0.5M262.2 685.8l4.8 5.3M247.5 675.8l6.4 8.8M185.7 696.1l-5.0 5.5M229.3 704.8l-0.4 6.3M186.3 692.5l-9.8 7.7M257.5 665.8l5.1 4.2M217.1 644.7l-14.5 -0.1M232.2 647.5l6.0 2.3M190.5 645.8l-10.4 1.1M244.7 668.7l3.2 5.0M219.2 677.2l-5.0 11.6M198.4 702.9l-2.8 7.4M265.4 685.5l10.3 10.7M192.2 697.6l-9.2 11.0M182.6 690.6l-9.8 8.8M181.2 645.5l-9.0 -1.2M266.6 677.8l6.1 6.5M202.4 673.3l-12.1 9.9M260.9 687.3l4.7 7.0M188.6 661.9l-14.4 7.5M180.5 663.8l-11.6 5.6M268.3 703.4l3.7 6.8M242.2 705.9l1.1 11.2M238.2 685.9l1.1 9.5M216.1 680.1l-4.2 9.1M199.2 685.6l-6.6 6.7M266.2 655.4l7.6 1.3M178.8 663.3l-10.5 3.0M228.3 645.4l-4.8 -4.8M198.2 647.1l-11.9 1.2M202.3 700.6l-5.0 11.8M245.3 696.8l2.0 5.3M256.5 669.6l7.3 8.5M197.1 684.0l-8.0 7.9M209.8 672.3l-4.8 8.2M224.0 706.0l-0.1 11.9M179.3 696.1l-5.5 4.4M268.8 647.5l14.4 -1.2M233.3 679.6l4.0 15.8M232.5 697.9l0.2 8.0M263.2 647.8l13.5 -1.0M225.7 651.9l-7.2 8.6M253.6 702.1l6.9 11.9M261.4 671.1l13.1 9.0M197.6 674.3l-10.4 6.8M262.6 673.5l7.8 8.2M240.4 667.1l4.4 11.0M206.9 656.7l-10.9 5.9M261.1 652.9l16.2 1.3M260.1 643.7l11.5 -1.6M181.2 667.3l-13.5 6.3M264.6 642.5l6.8 -1.7M179.9 644.3l-14.1 1.2M217.1 685.3l-3.6 13.4M233.2 682.7l2.3 12.7M200.4 650.4l-12.8 2.6M214.6 670.8l-7.1 12.5M181.3 652.1l-10.4 0.2M202.4 682.6l-5.4 9.5M239.8 688.7l4.5 13.8M215.3 645.5l-14.1 -2.7M253.1 701.9l2.9 5.9M213.9 682.6l-4.6 15.5M181.8 651.9l-5.6 1.2M230.0 693.9l0.6 14.2M253.1 698.6l4.6 11.7M242.7 670.0l7.2 9.7M181.3 646.3l-15.4 0.8M203.4 643.8l-16.0 -2.4M194.6 649.9l-15.3 1.9M254.7 669.3l5.9 7.3M227.6 649.8l-5.9 9.1M197.3 692.8l-6.6 8.8M188.4 704.4l-6.2 9.2M234.4 683.8l1.4 6.3M245.1 652.8l11.9 6.9M205.3 700.5l-5.6 10.8M251.1 696.0l3.3 6.1M242.3 695.3l3.3 12.1M236.1 664.6l2.5 6.7M218.1 649.3l-15.4 2.0M268.3 690.2l6.8 8.9M255.2 658.0l7.5 2.3M245.9 659.3l6.2 6.6M195.4 688.2l-8.4 10.5M228.1 652.8l-1.9 5.6M262.9 680.6l10.8 8.8M179.0 689.9l-8.7 6.6M179.3 703.8l-8.8 12.5M193.9 672.5l-10.5 7.0M204.5 640.2l-5.6 -1.6M230.5 653.3l2.3 12.9M253.4 666.0l6.5 3.9M262.4 655.6l10.1 1.8M266.9 646.1l8.3 -1.0M214.6 676.5l-3.6 10.0M212.5 667.6l-5.0 5.6M180.8 704.1l-9.5 10.8M237.6 682.2l3.6 14.7M212.0 673.8l-4.0 7.6M204.7 700.6l-3.2 7.7M220.8 647.7l-13.7 3.2M202.1 662.2l-11.3 6.8M180.1 653.7l-11.8 1.2M268.3 648.6l9.9 -0.2M190.6 654.3l-7.4 0.8M248.3 645.4l14.5 -3.0M206.1 641.3l-14.4 -1.2M236.3 676.7l2.3 9.1M217.7 643.4l-15.6 -2.8M192.6 684.0l-7.4 5.9" stroke="#523c6c" stroke-width="0.55" fill="none" opacity="0.28" stroke-linecap="round"/>
<path d="M236.1 694.3h0M195.9 649.4h0M231.5 706.2h0M256.8 705.7h0M183.8 681.3h0M252.9 667.8h0M195.2 659.1h0M201.3 666.9h0M219.4 686.2h0M233.4 677.8h0M229.9 658.0h0M248.8 678.4h0M264.4 667.1h0M239.5 667.6h0M197.9 674.3h0M249.5 665.2h0M210.0 669.2h0M196.1 657.4h0M185.0 654.3h0M183.5 702.9h0M202.9 666.0h0M218.3 678.6h0M235.7 641.7h0M236.3 658.5h0M181.3 697.8h0M229.0 669.3h0M266.7 683.2h0M234.1 642.0h0M229.0 668.8h0M221.4 672.6h0M260.4 695.0h0M209.1 695.7h0M200.2 640.2h0M186.6 683.7h0M208.6 689.1h0M256.0 656.9h0M191.0 687.9h0M223.2 650.1h0" stroke="#eedcea" stroke-width="1.7" stroke-linecap="round" fill="none" opacity="0.9"/>
<text x="183.4" y="646.5" font-size="3.2" font-weight="bold" fill="#fff" opacity="0.88">HCC12_MHH15_70802</text>
<rect x="258.2" y="704.5" width="8" height="1.4" fill="#fff"/>
<text x="262.2" y="703.7" font-size="2.7" font-weight="bold" text-anchor="middle" fill="#fff">100 µm</text>
</g>
<clipPath id="ce22"><rect x="288.6" y="639.8" width="90.8" height="68.2"/></clipPath>
<g clip-path="url(#ce22)">
<rect x="287.6" y="638.8" width="92.8" height="70.2" fill="#717372"/>
<ellipse cx="302.2" cy="653.4" rx="31.8" ry="20.5" fill="#96999b" opacity="0.55" filter="url(#b8)"/>
<ellipse cx="370.3" cy="701.2" rx="27.2" ry="20.5" fill="#505358" opacity="0.6" filter="url(#b8)"/>
<ellipse cx="297.7" cy="704.6" rx="18.2" ry="13.6" fill="#5d6064" opacity="0.4" filter="url(#b8)"/>
<path d="M376.2 640.6l0.5 7.2M302.9 707.1l10.7 0.4M368.5 686.3l2.2 5.6M379.4 656.1l-5.7 3.0M352.9 658.9l-3.4 2.8M309.4 698.3l-0.4 3.9M361.0 655.0l-0.1 9.4M335.0 655.6l5.6 6.2M326.7 645.2l-4.5 4.8M321.3 678.6l7.4 4.7M347.2 667.4l-9.6 4.1M379.0 673.2l-10.0 0.5M290.3 649.4l3.9 8.2M373.8 686.9l-5.5 4.2M314.6 673.6l-4.3 1.5M297.7 647.7l-6.1 6.3M331.2 697.1l3.4 3.0M325.1 674.0l-2.3 3.6M374.7 663.9l5.8 8.4M316.9 696.1l-4.4 4.7M370.8 662.7l1.0 5.6M295.3 701.7l-5.3 5.6M331.7 647.7l-2.0 4.9M322.8 697.1l-5.4 1.2M355.9 659.4l-6.2 8.8M369.8 704.2l-3.7 1.4M334.0 672.6l-1.2 8.8M292.5 644.0l0.9 5.5M340.3 671.3l4.8 4.0M342.5 687.0l-3.5 6.7M296.3 640.4l-4.9 2.6M347.5 665.7l-5.3 9.3M344.8 687.9l3.0 5.7M316.9 695.8l2.1 3.6M369.7 700.7l7.7 5.3M349.4 663.5l3.0 4.6M335.6 649.6l-3.2 1.9M378.2 662.4l2.6 4.2M350.7 661.3l1.9 4.2M343.5 687.7l-3.3 4.5M294.0 651.5l-2.4 3.9M354.8 647.2l-4.0 2.0M340.9 662.6l-3.7 3.0M300.3 646.5l1.6 7.9M355.6 677.2l7.2 2.1M370.9 666.7l-2.7 6.1M289.0 693.2l-5.2 5.5M348.1 697.0l9.1 1.2M341.2 677.3l-4.7 0.4M322.1 655.7l6.8 3.9M335.8 647.7l-2.8 6.3M331.0 650.5l6.1 3.8M359.3 662.9l3.5 6.6M378.2 685.0l-6.6 1.5M313.3 648.7l-10.4 0.1M379.3 643.9l5.8 4.4M351.9 693.3l4.3 1.8M347.3 653.8l-0.7 3.9M360.7 689.0l-6.5 5.9M368.9 655.4l-9.1 0.6M367.2 643.6l-5.3 2.9M326.7 699.6l-5.3 0.2M340.3 674.0l-10.0 2.7M331.6 671.7l-6.8 6.6M327.9 668.7l7.7 5.6M377.3 656.7l4.1 3.2M290.8 662.5l9.1 2.6M304.0 685.4l-4.9 4.8M344.2 671.1l4.6 0.6M329.6 671.4l-7.0 4.6M324.0 694.8l6.6 7.9M346.3 691.5l-0.7 3.8M375.2 670.5l-6.1 0.2M376.9 678.8l1.3 10.1M308.0 654.8l-5.4 1.2M334.5 684.7l-5.2 1.9M350.6 661.9l4.2 0.3M329.4 651.8l6.8 3.8M370.5 648.0l6.5 7.3M351.1 658.2l1.4 3.9M372.3 650.2l0.1 4.3M310.4 650.0l10.4 0.3M379.0 684.5l4.2 1.4M324.5 669.0l3.1 3.3M362.5 687.6l1.7 8.3M345.6 667.3l2.5 7.2M367.5 692.6l4.7 0.8M323.2 706.6l5.5 6.0M349.0 646.4l-7.3 7.7M309.1 685.7l0.4 4.9M348.2 644.8l2.8 5.7M352.4 657.3l-8.2 2.4M311.4 673.5l0.3 7.1M309.9 694.7l-5.9 6.5M303.2 675.2l-7.0 1.9M374.8 678.0l-7.7 7.4M358.7 693.6l-4.6 1.4M345.1 695.1l-7.6 0.7M358.3 655.0l-9.6 3.2M324.3 675.3l-8.4 4.2M341.9 661.4l-7.3 8.1M348.2 703.3l-1.4 5.3M289.3 698.0l-1.8 7.8M364.9 683.2l-7.2 3.8M294.5 702.6l2.2 8.8M299.7 682.4l0.3 5.3M323.9 680.9l-8.4 0.9M321.2 653.2l-2.9 8.9M363.1 646.0l-1.2 6.9M320.2 704.7l8.1 1.4M376.4 643.1l5.2 6.1M301.8 679.7l-8.3 2.6M332.4 686.9l-2.9 3.2M334.6 666.4l-4.6 9.1M354.0 706.7l-0.9 8.5M372.5 697.6l5.2 6.9M333.6 648.0l5.2 5.3M305.3 703.3l-5.6 4.9M314.3 701.6l-1.9 4.6M362.3 647.2l-1.7 8.1M302.7 704.0l-2.8 4.2M328.9 691.1l-0.7 7.4M346.0 682.4l-0.8 4.9M372.8 685.4l-7.1 3.7M355.0 682.1l6.3 8.8M371.6 704.1l-2.1 5.6M322.0 652.6l1.7 5.9M341.2 669.4l3.5 3.2M332.4 687.2l4.0 1.2M347.3 684.8l-3.5 5.2M379.3 699.9l2.6 5.9M296.1 662.5l-10.2 1.4M366.0 664.8l5.8 6.3M354.6 671.2l-9.8 1.1M348.4 680.5l0.5 9.5M310.4 686.8l6.9 5.6M341.2 699.8l6.2 6.4M364.7 664.8l5.7 8.4M313.8 701.5l5.5 2.3M299.7 644.5l5.8 4.3M307.6 645.0l4.7 0.9M292.5 689.6l2.8 2.7M327.0 689.3l-5.9 7.8M360.9 683.6l-6.8 0.8M301.5 704.7l3.3 7.2M332.2 661.6l1.7 3.3M352.9 671.3l3.1 8.8M375.1 688.1l3.9 4.1M371.2 693.5l4.5 8.4M333.4 660.4l2.7 5.4M322.2 696.8l3.5 3.3M310.9 644.4l-9.7 4.0M322.7 676.7l-6.3 4.5M327.3 675.8l4.6 6.7M375.0 654.8l-1.0 5.4M348.4 697.0l-5.5 8.4M346.2 657.1l-3.0 5.3M376.6 644.4l-10.0 1.5M291.5 660.2l-2.5 5.3M370.3 694.6l7.9 6.3M289.3 691.2l2.7 3.3M373.3 648.9l6.3 7.4M344.7 699.6l-8.5 5.6M358.3 697.8l-8.4 2.9M378.2 681.0l-3.1 8.9M302.3 675.0l-2.1 10.5M376.3 681.5l2.3 3.2M290.7 646.9l-5.4 5.2M368.0 688.4l-6.7 2.1M371.7 674.9l-1.3 4.5M374.2 690.2l1.1 4.8M359.5 674.2l4.4 0.2M300.6 640.3l-5.9 8.2M375.0 645.8l9.4 1.8M337.5 648.8l-0.9 6.9M353.9 666.3l10.8 1.3M293.2 679.0l-2.1 4.2M310.2 658.7l-0.0 6.1M304.4 683.9l2.0 3.7M317.6 651.4l-6.9 0.8M293.5 697.9l4.8 2.0M361.1 665.4l5.0 9.6M348.2 680.5l-1.6 6.4M341.3 655.9l-3.4 1.6M317.5 655.4l-2.0 3.4M311.7 648.3l-1.7 8.2M337.3 698.3l-5.0 6.5M321.5 702.9l2.4 10.5M327.4 677.0l-3.4 2.3M333.3 685.0l4.5 0.1M307.9 662.7l1.4 4.5M311.6 678.6l2.4 3.2M327.0 671.1l3.1 4.1M301.6 684.5l8.7 5.2M372.6 649.2l-6.3 7.8M359.7 703.6l1.4 4.6M369.4 669.7l7.2 4.4M312.0 683.1l3.3 3.0M327.1 652.8l2.2 6.0M318.1 656.2l4.1 5.3M359.1 685.6l-6.2 5.8M344.9 682.2l4.3 4.9M304.4 703.3l-10.5 1.9M358.7 661.5l2.5 4.9M370.2 693.2l5.3 3.9M367.8 655.6l-4.1 1.4M378.1 697.2l-1.3 9.0M365.9 657.5l8.6 1.6M362.7 644.6l5.3 1.7M300.2 649.5l1.0 6.0M291.4 661.4l3.0 3.7M290.5 671.1l3.3 9.4M371.7 695.9l-5.7 2.9M292.2 690.4l7.9 2.6M333.1 686.1l0.3 9.1M313.8 705.2l0.1 5.9M367.7 645.1l6.5 1.6M343.1 690.9l4.5 1.6M294.5 703.3l4.5 5.4M370.7 687.9l1.8 6.4M328.8 652.6l4.6 0.9M332.0 698.1l5.0 1.5M377.5 663.8l3.1 6.2M361.2 699.9l-2.3 2.9M309.7 683.4l8.0 7.4M324.9 680.1l-1.7 5.0M355.6 646.6l-8.6 3.1M335.0 661.0l-3.4 10.3M312.3 669.6l2.7 6.8M377.6 653.7l7.1 6.5M307.6 648.8l6.7 4.5M327.1 697.5l-8.9 6.2M374.7 693.1l-1.3 6.0M368.3 658.4l4.7 4.4M330.2 682.2l10.0 3.3M290.0 640.7l9.2 4.5M372.4 673.3l1.4 4.0M304.5 649.6l-10.1 3.4M375.9 647.7l9.9 3.3M351.0 641.4l6.5 4.0M306.2 696.4l1.6 4.4M293.3 654.2l7.6 6.3M293.7 690.1l-1.4 7.1M300.4 654.6l7.5 4.4M327.8 675.6l0.3 8.3M313.7 655.8l-5.7 9.0M301.2 641.7l-3.6 7.4M376.7 642.4l2.7 3.9M315.4 676.3l-5.8 0.8M295.8 663.1l-8.6 3.0M338.5 676.9l9.2 3.0M335.5 647.9l5.0 4.0M342.2 652.6l5.5 3.4M334.3 673.5l-4.6 5.0M332.7 677.9l-7.2 6.0M367.0 692.0l5.4 7.2M335.7 662.0l1.1 10.6M360.2 693.3l-3.5 2.7M358.0 693.2l-1.9 3.7M309.3 665.5l-2.4 3.3" stroke="#c0c3c5" stroke-width="0.7" fill="none" opacity="0.45" stroke-linecap="round"/>
<path d="M303.2 700.2l6.6 5.2M367.9 640.3l4.6 6.6M293.1 693.3l-0.3 5.1M313.6 668.3l1.4 5.4M341.0 688.7l-8.6 0.7M344.9 663.5l2.3 6.2M374.5 688.9l5.9 6.2M309.6 693.6l5.4 3.6M293.5 667.7l1.8 7.0M378.5 702.9l-3.0 2.6M377.0 654.8l3.7 5.3M335.9 691.1l1.6 7.8M332.9 653.8l9.9 2.5M367.2 665.8l4.6 7.8M365.9 668.9l-0.1 7.2M304.6 653.5l5.5 1.7M345.1 695.7l-8.0 6.6M356.6 669.2l-6.6 1.1M348.7 687.5l5.6 2.8M322.6 705.2l4.1 1.9M294.8 703.0l-8.5 1.7M356.5 697.0l10.0 1.4M292.6 640.6l1.6 4.6M346.9 701.9l-3.0 5.5M330.1 698.5l8.7 4.4M322.2 673.0l4.2 2.7M331.8 683.3l1.1 7.3M295.1 680.5l3.1 9.9M373.2 707.9l10.2 1.6M359.9 692.0l1.4 6.3M337.8 671.8l-0.0 4.6M315.7 697.3l1.6 6.0M357.2 665.3l0.2 6.4M317.8 674.1l8.0 1.2M289.0 658.0l3.0 4.9M379.2 670.1l4.2 0.4M369.6 677.9l4.5 4.4M308.8 646.6l4.5 3.9M306.7 659.5l3.1 7.1M361.2 694.0l1.3 8.7M312.9 647.5l-8.3 6.0M308.4 704.9l-8.6 6.0M330.4 702.2l2.3 4.4M290.8 675.9l-5.0 4.8M318.0 673.5l-6.2 2.6M327.4 680.1l-5.3 6.4M291.3 703.6l-3.6 4.5M312.0 698.3l9.7 0.8M293.8 645.1l3.1 6.0M342.4 646.8l9.3 1.0M339.0 673.5l1.2 3.6M304.4 661.7l6.6 4.3M320.2 699.3l9.5 4.6M309.4 702.2l1.7 9.0M337.4 664.3l-2.4 4.1M356.0 691.6l3.6 3.1M335.1 661.6l-7.1 2.4M350.6 691.9l0.1 9.2M304.7 648.2l8.7 1.6M358.1 670.0l7.6 1.6M373.4 676.6l-3.5 1.0M318.1 671.5l4.5 4.4M327.9 643.8l4.8 5.1M292.3 686.2l-2.3 3.6M349.4 653.4l2.8 3.0M322.8 706.7l8.2 6.0M305.1 658.6l9.2 1.1M375.9 681.0l-3.9 6.6M376.0 652.2l3.8 9.4M310.8 690.0l-0.2 7.2M326.4 704.1l-8.4 2.1M364.4 704.4l-4.4 8.7M311.4 650.9l-4.6 4.2M301.3 654.2l-6.4 3.5M359.0 696.6l3.3 8.8M354.0 679.1l-4.0 9.7M368.2 704.0l-10.2 3.0M337.3 684.2l7.0 0.6M375.9 653.1l2.7 7.1M363.3 674.1l-3.0 5.6M313.0 664.9l-6.2 6.4M330.4 680.0l-5.5 4.9M379.0 705.3l2.2 4.0M314.7 644.1l-0.7 8.8M365.8 657.2l3.9 2.9M324.8 687.2l7.0 1.5M313.5 706.4l-2.6 9.1M299.1 648.7l-1.1 9.9M375.1 707.2l5.5 0.6M339.7 695.1l-4.0 3.1M332.6 693.2l2.7 4.8M329.2 681.3l-10.0 0.2M322.7 664.2l6.0 2.7M296.2 646.0l3.6 3.9M305.3 679.1l-2.6 3.5M304.1 686.5l-5.2 1.6M353.3 659.8l4.7 2.6M361.6 669.1l7.2 5.7M375.5 679.3l-7.7 2.8M376.9 700.4l2.4 5.9M304.2 660.1l5.3 7.5M314.5 704.1l-6.6 8.2M360.7 671.6l7.8 2.7M319.1 698.0l1.6 3.4M289.2 678.1l-2.2 8.3M312.0 643.8l-8.0 4.8M376.7 691.8l5.3 2.4M295.8 670.5l4.6 3.3M336.1 701.2l9.9 0.7M344.6 687.2l-3.4 6.2M374.0 667.5l7.0 5.3M324.4 643.6l-6.5 8.3M295.3 687.9l-6.5 7.1M316.2 697.8l1.0 6.8M368.4 644.3l10.1 3.1M301.1 661.6l3.7 7.7M335.8 698.3l-4.4 6.1M309.6 707.2l9.2 2.5M336.4 698.7l3.3 7.0M325.1 675.8l-8.4 0.6M379.2 662.8l-8.5 1.7M343.0 705.1l-4.3 4.1M295.1 642.2l-1.2 5.0M303.5 659.3l4.1 2.5M345.2 658.6l9.6 1.7M316.5 690.3l-6.7 7.6M363.4 692.7l1.6 4.8M291.3 679.6l0.3 6.3M351.8 654.0l-1.2 4.0M356.3 679.3l9.1 4.2M307.9 706.2l-6.1 4.2M362.5 655.8l-2.4 7.4M377.3 676.9l0.9 4.6M307.8 642.0l5.3 0.6M312.2 661.1l3.8 0.4M378.9 640.0l-0.5 4.9M368.7 642.7l-7.5 1.5M293.5 651.9l-2.4 4.9M310.9 691.2l-6.9 1.0M294.2 707.0l0.2 7.3M311.7 689.5l3.0 6.0M314.2 695.2l-5.1 4.0M322.9 680.1l7.8 7.5M363.2 655.1l-8.0 0.4M316.2 651.3l8.1 0.4M319.9 679.1l1.4 3.7M378.3 662.1l-3.8 8.2M300.2 674.4l-1.0 4.7M326.8 689.9l6.6 0.7M312.0 672.1l1.4 9.2M370.7 651.2l7.5 1.8M377.9 681.7l4.3 1.0M337.9 660.4l9.2 3.1M315.7 642.8l-3.9 1.7M377.5 696.7l-9.3 0.8M360.3 655.8l5.1 7.2M339.2 680.6l0.9 3.7M314.0 668.8l6.0 2.6M337.5 656.1l4.4 1.4M291.8 700.1l-9.6 0.7M307.8 654.3l2.9 3.5M341.1 698.4l8.6 5.3M332.2 674.0l-4.6 3.6M300.5 662.6l6.7 1.3M329.8 647.0l-3.1 6.4M307.8 680.1l2.9 6.1M357.2 653.9l5.1 2.6M357.5 682.7l-4.6 5.2M312.2 651.3l-6.5 0.3M341.2 665.9l-1.6 6.5M333.6 690.9l7.1 3.7M365.6 699.3l9.3 3.1M340.2 667.5l3.8 6.6M302.9 656.0l-1.8 8.8M297.3 647.8l3.2 8.0M324.7 694.3l6.8 6.0M310.5 674.4l0.4 8.3M323.6 702.8l6.7 5.3M366.5 683.7l3.8 1.2M321.1 707.5l7.1 7.7" stroke="#3e4146" stroke-width="0.7" fill="none" opacity="0.36" stroke-linecap="round"/>
<path d="M365.6 667.4h0M362.9 694.6h0M355.5 682.2h0M291.4 696.4h0M366.6 672.6h0M289.4 657.4h0M290.0 691.4h0M324.6 648.3h0M304.7 705.0h0M364.9 700.5h0M307.6 703.5h0M377.6 669.0h0M318.2 674.6h0M299.1 706.8h0M309.2 654.5h0M329.3 702.9h0M324.3 696.1h0M313.1 678.1h0" stroke="#f2f2f2" stroke-width="1.6" stroke-linecap="round" fill="none" opacity="0.9"/>
<path d="" stroke="#fff" stroke-width="2.4" stroke-linecap="round" fill="none" opacity="0.95"/>
<text x="293.8" y="646.5" font-size="3.2" font-weight="bold" fill="#fff" opacity="0.88">HCC12_MHH15_P3_120709</text>
<rect x="368.6" y="704.5" width="8" height="1.4" fill="#fff"/>
<text x="372.6" y="703.7" font-size="2.7" font-weight="bold" text-anchor="middle" fill="#fff">200 µm</text>
</g>
<clipPath id="ce23"><rect x="400.5" y="639.8" width="90.8" height="68.2"/></clipPath>
<g clip-path="url(#ce23)">
<rect x="399.5" y="638.8" width="92.8" height="70.2" fill="#6e6e6c"/>
<ellipse cx="423.2" cy="646.6" rx="40.9" ry="20.5" fill="#85888c" opacity="0.55" filter="url(#b8)"/>
<ellipse cx="445.9" cy="708.0" rx="63.6" ry="15.0" fill="#4a4d52" opacity="0.55" filter="url(#b8)"/>
<path d="M433.3 672.6l-0.3 3.1M441.1 667.7l-1.6 5.8M424.0 683.1l-8.8 1.0M427.9 662.7l-2.9 0.9M473.8 685.3l6.8 5.9M442.0 682.5l-8.5 2.4M420.9 660.9l-2.0 3.2M458.9 704.5l2.1 4.7M472.3 675.5l-3.3 2.1M441.7 681.6l-1.7 6.1M437.4 665.0l-7.6 1.3M460.4 667.1l-5.6 5.0M460.0 695.5l0.7 5.1M409.7 646.2l-0.2 4.0M423.7 651.9l-2.8 0.6M448.2 702.5l-1.5 8.5M413.9 666.3l-4.2 0.7M461.1 702.9l2.6 3.3M443.4 680.0l-7.8 0.1M445.0 645.2l3.0 8.4M461.2 689.2l-0.8 4.5M465.1 667.2l-2.9 5.8M457.8 654.9l-4.2 1.8M487.3 687.0l-7.6 0.6M460.7 683.3l3.2 3.0M473.0 674.6l7.9 2.5M453.2 663.6l2.0 8.0M468.4 701.6l-1.1 2.8M421.4 653.7l6.5 2.7M417.0 645.9l2.8 1.7M471.3 692.5l-6.9 5.9M437.7 648.2l2.9 8.5M454.4 667.9l-5.9 0.1M456.3 679.8l-0.8 4.3M455.9 667.7l-8.5 1.0M463.1 702.8l-3.3 3.7M440.8 689.2l1.6 2.4M474.4 700.7l-6.4 1.4M488.1 672.2l1.6 2.8M418.5 645.4l-4.0 8.0M476.0 705.9l-2.9 1.9M469.9 661.4l-1.6 2.4M438.5 659.6l-7.3 0.8M404.1 645.5l1.2 6.5M424.9 647.1l0.5 5.9M433.0 640.0l-2.4 8.1M423.6 668.4l-4.4 7.8M455.8 660.6l0.4 7.9M469.9 702.9l-3.4 6.6M458.0 646.0l-4.4 3.5M436.5 662.7l-4.6 2.1M449.4 641.1l2.7 0.4M454.0 675.9l-5.0 0.6M448.8 641.1l4.5 7.8M445.6 648.7l4.2 1.1M439.7 650.1l-4.3 3.8M467.3 661.1l-0.9 2.9M422.9 642.6l-2.8 2.4M411.4 645.3l0.3 5.9M457.9 656.5l-4.8 0.2M405.9 663.5l3.7 3.8M474.0 700.4l0.9 7.1M481.7 683.7l-3.8 8.0M418.6 650.7l2.1 8.3M467.1 680.5l1.1 3.8M413.9 642.1l-1.4 5.0M428.3 678.1l5.3 4.8M464.0 682.5l-4.8 0.8M432.0 647.2l-7.1 1.6M445.0 649.5l1.8 2.2M484.6 695.1l1.6 8.3M469.4 683.7l-1.1 5.4M450.4 644.3l-5.3 4.1M449.2 646.8l-5.2 3.1M450.5 702.4l-2.2 4.5M477.0 700.2l-8.0 2.0M469.6 669.5l4.3 3.1M440.0 686.2l2.8 0.1M475.7 670.9l-7.6 2.5M472.7 688.9l-4.3 2.2M456.1 685.7l1.9 2.4M461.2 684.1l-0.7 4.7M448.4 696.4l-1.2 5.9M482.4 703.3l-1.9 5.9M458.6 649.3l3.6 4.0M438.4 641.4l5.9 4.3M471.8 688.9l3.2 2.6M435.0 678.7l-8.7 1.1M457.5 693.0l-5.4 0.8M424.9 662.5l-0.3 6.7M484.2 696.6l-4.5 6.3M469.8 684.6l-2.0 3.3M464.4 663.6l-4.5 2.7M466.3 698.0l2.8 3.7M420.3 650.4l7.7 0.8M416.1 650.5l-3.2 6.7M435.6 649.0l-1.5 3.0M450.8 650.4l7.1 1.7M425.1 680.0l-6.7 1.1M474.4 684.9l-5.5 7.0M478.2 678.1l2.4 2.4M447.7 647.2l2.8 0.5M438.5 664.6l3.9 1.3M453.2 672.6l-7.8 2.7M440.5 643.4l-0.4 3.1M481.5 673.3l1.2 8.5M459.2 700.8l-3.0 0.0M448.3 655.2l4.6 1.1M461.5 678.8l-0.1 2.9M472.8 686.5l-3.6 3.3M466.5 681.4l1.1 3.8M453.9 701.3l-4.2 2.8M456.9 694.3l3.5 3.4M488.3 703.9l-7.9 2.9M456.0 668.4l-0.9 7.8M462.7 666.4l-3.8 2.9M452.1 683.4l-6.2 4.0M464.9 701.9l0.6 4.8M456.1 675.2l-0.8 6.4M443.8 663.5l-1.5 3.8M417.2 671.5l-3.1 1.4M425.2 641.5l8.4 3.2M414.1 645.3l6.4 0.5M434.9 659.9l-0.4 6.8M438.2 675.5l-5.8 4.4M471.3 687.7l-2.9 1.3M448.6 690.8l3.7 5.8M424.7 641.5l0.1 3.3M439.7 674.9l-4.7 6.1M474.9 702.0l3.0 0.2M459.8 686.5l7.2 4.8M464.9 675.7l-1.8 2.4M474.2 680.4l-6.6 4.3M486.0 695.6l-5.2 2.2M448.3 681.8l-6.5 4.3M418.6 641.6l1.5 7.4M434.3 656.5l7.7 2.7M478.5 686.3l6.8 4.3M449.5 668.8l-4.6 2.5M433.5 652.2l-7.7 3.4M461.1 679.3l-8.2 2.4M439.9 664.1l-8.5 3.0M458.1 650.4l2.0 3.1M415.0 669.4l-3.1 4.2M477.2 700.3l2.3 8.0M480.7 695.9l-4.2 0.1M460.8 702.7l8.0 2.9M418.0 640.9l-4.3 2.8M441.2 688.1l-1.0 8.5M468.4 678.6l0.9 3.1" stroke="#b0b3b6" stroke-width="0.6" fill="none" opacity="0.5" stroke-linecap="round"/>
<path d="M447.4 686.4l-6.4 5.5M421.5 667.1l-0.2 8.9M422.8 643.1l3.4 0.2M459.8 704.6l1.7 3.8M486.0 698.8l2.5 1.8M436.8 654.0l-2.7 8.6M416.7 701.9l2.8 1.7M471.5 652.2l-8.3 2.6M408.6 704.1l-2.6 0.9M471.6 707.8l2.2 7.0M410.0 655.4l1.5 3.6M402.4 685.8l-6.6 4.1M455.5 699.8l-2.3 3.4M427.8 656.5l-3.3 4.6M435.7 687.3l5.2 3.1M467.8 702.7l-3.5 2.0M442.5 653.3l-2.4 4.1M470.6 649.2l3.7 4.2M458.4 681.0l4.8 1.2M401.3 659.3l3.6 1.9M414.4 685.2l-5.2 5.3M417.2 697.9l6.0 4.7M490.5 702.9l-3.5 0.3M403.8 687.5l-2.0 3.5M458.6 661.2l2.9 1.1M449.3 642.7l-4.9 1.3M459.6 701.0l1.8 7.5M471.2 671.7l-1.1 4.6M475.7 679.5l-7.8 1.3M480.8 645.7l-5.4 6.7M445.1 689.9l-1.0 5.6M478.4 673.4l0.7 3.3M484.6 683.0l5.1 3.6M430.0 640.5l-6.6 3.8M453.6 697.2l4.6 3.6M407.8 697.4l0.8 8.1M405.7 705.1l2.9 1.4M409.8 705.8l-7.3 3.2M476.1 680.5l3.8 6.6M455.2 700.8l2.5 1.7M458.2 701.9l-8.8 1.7M436.4 688.7l-3.6 6.5M458.2 666.6l3.0 0.8M420.5 686.0l4.0 5.3M433.6 642.2l-1.7 4.3M482.0 657.7l-1.8 6.5M453.1 675.0l4.7 6.4M452.6 641.7l-1.4 6.6M462.9 672.2l6.8 1.2M408.2 696.7l3.0 0.1M429.1 681.5l6.6 4.9M443.1 652.7l1.4 7.8M409.9 671.7l-1.5 2.5M480.7 654.2l7.2 4.1M438.7 653.8l-0.9 2.9M413.8 659.1l4.4 3.3M464.3 669.3l-3.5 4.3M454.9 653.5l-2.4 1.5M416.0 697.7l1.3 3.1M464.6 689.9l-1.5 8.1" stroke="#404348" stroke-width="0.6" fill="none" opacity="0.35" stroke-linecap="round"/>
<path d="M439.9 667.2h0M471.9 707.4h0M469.0 676.9h0M448.3 685.0h0M424.9 640.4h0M452.5 670.4h0M460.8 674.2h0M422.0 672.4h0M453.7 682.2h0M458.2 654.7h0M488.1 683.4h0M455.8 661.9h0M426.1 661.2h0M463.7 644.3h0M455.0 691.6h0M455.0 678.8h0M451.1 680.7h0M438.7 672.1h0M460.8 683.9h0M472.2 698.4h0M435.4 660.1h0M469.1 681.2h0" stroke="#ececec" stroke-width="1.4" stroke-linecap="round" fill="none" opacity="0.9"/>
<text x="405.7" y="646.5" font-size="3.2" font-weight="bold" fill="#fff" opacity="0.88">HCC12_MHH15_P3_210727</text>
<rect x="480.5" y="704.5" width="8" height="1.4" fill="#fff"/>
<text x="484.5" y="703.7" font-size="2.7" font-weight="bold" text-anchor="middle" fill="#fff">200 µm</text>
</g>
<clipPath id="ce30"><rect x="66.3" y="721.9" width="90.8" height="68.2"/></clipPath>
<g clip-path="url(#ce30)">
<rect x="65.3" y="720.9" width="92.8" height="70.2" fill="#9274ac"/>
<rect x="66.3" y="721.9" width="90.8" height="68.2" filter="url(#nf)" opacity="0.12"/>
<path d="M126.4 729.4h0M101.2 772.8h0M140.2 784.6h0M132.5 743.0h0M117.5 768.7h0M110.5 748.7h0M116.6 757.1h0M120.0 757.3h0M112.1 758.5h0M138.4 751.1h0M135.1 778.5h0M96.6 758.6h0M111.2 741.2h0M113.0 731.7h0M105.9 740.3h0M103.0 783.9h0M104.7 739.6h0M123.8 747.8h0M109.2 735.5h0M111.1 788.6h0M84.2 777.1h0M94.4 765.8h0M115.0 744.0h0M103.9 773.9h0M84.4 730.2h0M141.6 748.2h0M117.1 786.6h0M118.2 784.9h0M131.5 784.5h0M102.5 741.0h0M106.9 728.0h0M111.5 743.1h0M118.6 763.3h0M125.7 749.9h0M115.4 761.5h0M99.9 755.6h0M109.2 762.2h0M103.2 767.9h0M122.0 765.1h0M112.3 760.7h0M124.0 759.5h0M115.4 736.7h0M111.0 769.2h0M103.0 764.7h0M130.2 751.3h0M99.8 740.9h0M105.8 756.7h0M96.1 758.7h0M130.8 738.7h0M129.5 784.4h0M111.0 759.1h0M111.4 773.7h0M101.2 777.1h0M100.8 743.6h0M97.1 767.1h0M108.0 767.6h0M105.8 781.8h0M98.7 775.2h0M109.4 754.9h0M119.1 748.9h0M94.9 749.2h0M128.3 771.4h0M127.8 757.8h0M134.6 741.7h0M101.0 745.1h0M116.4 747.1h0M128.4 749.5h0M76.3 760.4h0M117.5 753.5h0M120.8 764.7h0M86.7 757.9h0M116.7 756.7h0M105.5 747.8h0M129.5 755.3h0M112.0 771.6h0M113.5 746.4h0M123.4 757.3h0M114.7 736.4h0M115.6 750.4h0M69.6 729.1h0M121.4 750.8h0M112.8 755.4h0M129.8 734.5h0M114.1 768.0h0M125.3 765.5h0M114.1 722.9h0M101.6 736.8h0M88.2 772.5h0M130.9 777.3h0M84.0 755.0h0M109.1 771.4h0M106.6 759.2h0M119.6 761.3h0M142.4 753.5h0M101.6 763.8h0M103.6 749.3h0M114.7 766.7h0M100.1 750.9h0M90.5 784.8h0M117.1 754.8h0M114.4 774.7h0M114.9 747.9h0M129.8 761.6h0M111.2 763.3h0M101.2 786.4h0M96.2 777.1h0M79.2 774.2h0M108.4 783.9h0M121.3 728.9h0M115.0 732.9h0M117.6 739.3h0M123.1 762.8h0M104.3 761.7h0M98.6 758.7h0M90.6 758.6h0M122.8 755.8h0M91.5 743.7h0M90.5 758.6h0M124.3 756.4h0M119.5 744.2h0M86.9 743.5h0M125.9 744.5h0M122.1 773.8h0M135.9 744.3h0M104.2 773.8h0M117.6 772.3h0M126.8 745.2h0M114.0 749.9h0M122.7 750.9h0M99.1 768.7h0M118.5 749.5h0M109.9 758.5h0M128.5 762.7h0M98.8 767.6h0M120.1 766.1h0M106.6 786.3h0M102.0 758.0h0M106.3 764.9h0M109.0 767.9h0M113.3 776.3h0M100.0 772.4h0M124.4 749.6h0M117.6 750.6h0M109.5 785.7h0M131.9 744.5h0M117.1 769.2h0M110.7 738.9h0M93.8 785.2h0M122.7 771.8h0M117.1 764.5h0M102.0 762.8h0M121.5 759.2h0M119.5 764.4h0M109.4 786.5h0M92.9 747.1h0M100.0 754.3h0M135.1 756.7h0M101.5 757.4h0M93.2 745.8h0M106.5 768.4h0M118.5 773.8h0M101.8 780.4h0M92.7 752.1h0M118.5 759.0h0M128.9 751.1h0M96.6 770.5h0M114.7 752.7h0M122.5 740.0h0M118.2 777.4h0M133.4 756.4h0M99.0 766.2h0M106.6 757.7h0M125.7 771.0h0M105.3 752.0h0M104.1 751.0h0M130.9 767.7h0M100.4 762.0h0M117.8 756.6h0M127.0 759.1h0M98.6 771.0h0M117.7 754.3h0M119.9 772.4h0M99.5 753.2h0M113.9 773.1h0M98.8 775.0h0M112.1 787.1h0M84.2 769.3h0M122.2 753.3h0M110.8 767.6h0M101.3 757.4h0M100.5 770.7h0M120.3 773.3h0M132.8 741.2h0M111.5 755.4h0M123.8 737.8h0M98.6 764.8h0M116.1 761.4h0M108.1 769.3h0M108.0 777.1h0M117.4 742.7h0M140.6 753.6h0M95.2 755.8h0M99.9 743.2h0M90.5 780.5h0M93.2 741.0h0M91.5 748.0h0M108.7 769.6h0M110.3 737.2h0M105.1 740.9h0M135.6 760.8h0M122.1 768.1h0M113.7 727.2h0M109.8 774.2h0M112.7 764.8h0M106.5 732.0h0M121.0 739.5h0M105.9 761.7h0M117.8 774.1h0M108.6 751.1h0M110.0 769.9h0M128.4 764.4h0M123.9 763.0h0M108.7 755.5h0M118.7 758.7h0M110.0 777.8h0M82.3 744.2h0M106.0 759.0h0M101.5 756.7h0M108.8 760.5h0M103.0 735.2h0M109.9 747.2h0M109.7 738.9h0M129.3 750.1h0M119.8 752.2h0M113.5 778.4h0M120.4 783.5h0M123.4 749.1h0M94.5 737.4h0M91.8 738.3h0M128.5 747.9h0M115.4 750.6h0M118.8 778.2h0M75.8 763.7h0M107.5 752.0h0M88.1 737.5h0M124.0 744.4h0M102.0 753.2h0M118.5 756.2h0M122.5 738.1h0M120.1 763.9h0M111.3 746.9h0M105.5 776.6h0M109.0 748.6h0M97.6 765.7h0M122.1 761.9h0M97.8 765.4h0M131.4 742.4h0M89.5 765.4h0M113.5 773.5h0M117.8 764.3h0M94.0 746.7h0M108.7 770.8h0M100.7 746.0h0M101.3 758.6h0M86.8 769.4h0M111.0 754.2h0M110.1 781.2h0M106.0 773.8h0M124.7 764.5h0M100.5 762.6h0M96.0 739.0h0M110.0 762.8h0M109.3 764.5h0M101.6 761.3h0M104.1 765.8h0M113.3 757.9h0M99.0 777.8h0M120.1 779.0h0M111.7 742.2h0M123.2 751.6h0M117.0 772.7h0M102.3 772.9h0M101.7 745.4h0M109.3 767.4h0M112.5 750.1h0M113.0 748.2h0M126.8 753.9h0M97.6 752.3h0M116.0 758.6h0M117.6 761.9h0M95.0 737.9h0M117.5 774.4h0M130.1 758.4h0M101.5 789.4h0M103.7 754.8h0M117.2 773.6h0M113.4 758.1h0M111.5 770.2h0M133.5 759.2h0M116.3 754.3h0M120.3 765.1h0M107.7 752.2h0M109.0 754.8h0M105.9 742.7h0M118.0 760.8h0M109.2 762.0h0M144.6 767.3h0M125.0 756.7h0M101.4 776.3h0M111.8 766.9h0M117.1 764.7h0M91.7 747.2h0M98.6 779.9h0M96.5 767.8h0M89.9 755.9h0M112.9 737.3h0M96.2 775.1h0M115.3 769.9h0M106.0 754.1h0M128.1 755.7h0M115.5 764.4h0M126.4 760.1h0M72.8 742.6h0M117.8 746.0h0M106.7 764.1h0M84.2 784.5h0M123.3 767.1h0M100.6 781.4h0M89.7 761.6h0M119.2 770.3h0M116.6 767.2h0M131.0 743.1h0M120.3 738.3h0M129.3 761.1h0M96.1 772.1h0M106.8 759.8h0M109.9 762.7h0M106.1 731.6h0M90.6 766.1h0M120.4 768.1h0M113.8 778.1h0M116.1 770.4h0M122.3 745.7h0M104.9 749.3h0M146.2 754.1h0M145.3 758.4h0M153.4 751.1h0M129.4 741.1h0M111.3 745.6h0M133.5 768.3h0M134.6 766.8h0M112.5 748.8h0M85.0 743.0h0M126.8 758.3h0M114.1 746.9h0M119.0 767.4h0M121.4 747.7h0M109.7 761.0h0M137.7 760.6h0M121.1 769.9h0M87.0 776.4h0M69.0 775.8h0M112.8 743.0h0M109.3 787.5h0M104.5 750.1h0M117.1 765.6h0M69.7 767.5h0M122.3 777.1h0M96.0 754.6h0M82.1 774.0h0M98.2 741.2h0M90.7 765.0h0M98.6 750.8h0M107.1 756.8h0M114.7 787.3h0M95.6 778.7h0M106.4 770.5h0M110.8 746.0h0M100.9 772.0h0M107.2 737.6h0M108.3 755.5h0M96.6 758.5h0M106.8 776.2h0M99.0 765.4h0M120.3 747.2h0M117.2 750.6h0M116.9 771.8h0M84.7 761.5h0M87.1 771.5h0M73.4 787.9h0M86.9 750.4h0M127.7 778.2h0M121.9 751.0h0M122.8 778.3h0M156.3 764.1h0M122.4 777.8h0M93.7 740.7h0M120.7 758.4h0M132.1 749.7h0M110.2 778.9h0M76.5 740.9h0M115.6 764.0h0M134.7 770.3h0M104.7 763.9h0M93.3 743.0h0M106.8 781.0h0M117.5 756.3h0M88.0 767.3h0M112.0 744.7h0M115.9 762.0h0M99.5 783.5h0M100.5 758.8h0M79.4 760.1h0M99.3 764.9h0M120.1 762.3h0M130.2 774.5h0M115.9 746.4h0M127.8 738.5h0M100.5 750.7h0M128.4 778.8h0" stroke="#e6d8f0" stroke-width="1.0" stroke-linecap="round" fill="none" opacity="0.85"/>
<path d="M118.8 743.1h0M120.7 743.8h0M122.0 740.2h0M118.9 745.3h0M118.9 739.4h0" stroke="#fff" stroke-width="2.0" stroke-linecap="round" fill="none" opacity="1"/>
<path d="M103.5 748.9h0M101.3 751.0h0M100.4 753.7h0M101.5 749.5h0" stroke="#fff" stroke-width="1.9" stroke-linecap="round" fill="none" opacity="1"/>
<path d="" stroke="#fff" stroke-width="1.8" stroke-linecap="round" fill="none" opacity="1"/>
<path d="M104.6 736.3h0" stroke="#fff" stroke-width="1.9" stroke-linecap="round" fill="none" opacity="1"/>
<path d="" stroke="#fff" stroke-width="1.8" stroke-linecap="round" fill="none" opacity="1"/>
<circle cx="148.0" cy="746.5" r="1.3" fill="#fff"/>
<text x="71.5" y="728.6" font-size="3.2" font-weight="bold" fill="#fff" opacity="0.88">HCC13_MHH15C_220530</text>
<rect x="146.3" y="786.6" width="8" height="1.4" fill="#fff"/>
<text x="150.3" y="785.8" font-size="2.7" font-weight="bold" text-anchor="middle" fill="#fff">100 µm</text>
</g>
<clipPath id="ce31"><rect x="178.2" y="721.9" width="90.8" height="68.2"/></clipPath>
<g clip-path="url(#ce31)">
<rect x="177.2" y="720.9" width="92.8" height="70.2" fill="#9474aa"/>
<rect x="178.2" y="721.9" width="90.8" height="68.2" filter="url(#nf)" opacity="0.16"/>
<rect x="178.2" y="721.9" width="90.8" height="68.2" filter="url(#nk)" opacity="0.1"/>
<path d="M194.7 767.0h0M196.2 755.3h0M221.8 753.2h0M201.2 769.1h0M239.5 775.6h0M263.9 737.9h0M244.9 761.2h0M239.7 781.5h0M197.8 742.3h0M266.8 736.9h0M227.0 762.4h0M253.2 762.8h0M188.6 754.5h0M191.4 768.5h0M192.8 736.0h0M217.9 749.7h0M187.4 770.0h0M226.7 745.1h0M253.0 759.1h0M191.6 732.3h0M237.1 759.0h0M260.9 764.9h0M252.5 768.4h0M267.6 731.0h0M258.5 754.5h0M194.7 750.3h0M214.2 769.8h0M208.9 779.6h0M189.6 789.7h0M179.8 760.9h0M193.0 772.3h0M216.9 757.0h0M219.9 728.8h0M248.1 750.7h0M233.6 754.1h0M257.8 783.6h0M193.8 775.4h0M244.5 742.1h0M253.3 785.3h0M245.0 788.2h0M262.7 739.8h0M254.4 769.5h0M190.0 742.4h0M184.1 744.3h0M263.3 771.0h0M215.2 756.9h0M268.6 722.7h0M251.1 725.0h0M203.0 736.6h0M190.6 768.0h0M187.9 779.4h0M201.8 778.5h0M226.3 727.9h0M257.6 782.4h0M192.9 788.5h0M211.2 758.7h0M226.3 783.8h0M256.2 768.1h0M180.1 766.0h0M195.5 789.9h0M214.3 773.1h0M230.6 741.0h0M190.9 765.9h0M189.9 770.8h0M179.8 750.8h0M224.7 740.2h0M223.5 738.4h0M183.7 763.2h0M224.2 763.6h0M268.3 741.5h0M179.5 767.0h0M229.9 736.6h0M268.0 789.6h0M215.6 778.4h0M180.9 759.1h0M185.8 769.1h0M197.1 773.7h0M202.1 742.3h0M254.7 744.4h0M240.6 758.6h0M212.1 724.3h0M183.9 785.2h0M213.7 728.0h0M201.7 787.8h0M258.6 781.5h0M208.5 751.3h0M262.6 736.2h0M194.8 732.2h0M196.6 762.1h0M251.9 775.4h0M183.2 767.6h0M209.0 768.9h0M231.3 780.0h0M208.4 739.6h0M199.4 754.1h0M211.3 758.4h0M220.4 767.8h0M222.7 737.6h0M195.5 731.9h0M213.0 786.4h0M261.9 755.4h0M230.0 769.4h0M199.1 773.9h0M213.9 757.4h0M239.1 725.7h0M246.8 778.6h0M184.5 781.7h0M264.3 783.3h0M256.0 735.5h0M239.5 777.3h0M230.3 738.4h0M225.8 737.2h0M231.0 751.1h0M216.6 768.1h0M211.4 746.1h0M194.9 733.6h0M242.9 734.7h0M207.9 786.4h0M255.6 778.1h0M235.4 742.2h0M198.4 769.8h0M184.6 750.2h0M249.8 736.0h0M181.0 727.8h0M262.6 763.8h0M260.9 767.8h0M190.2 748.5h0M229.6 779.0h0M265.3 749.6h0M238.2 783.4h0" stroke="#dcc8e8" stroke-width="1.0" stroke-linecap="round" fill="none" opacity="0.8"/>
<ellipse cx="219.1" cy="764.2" rx="7.7" ry="7.5" fill="#f4e4ec" opacity="1" filter="url(#b2)"/>
<circle cx="219.1" cy="764.2" r="3.4" fill="#e29aa8"/><circle cx="219.1" cy="764.2" r="4.8" fill="none" stroke="#fff" stroke-width="1.8" stroke-dasharray="2.4 0.8"/>
<path d="M182.5 747.8h0M259.6 744.3h0M234.3 725.8h0M225.2 739.1h0M245.8 772.1h0M189.9 777.5h0M188.3 768.3h0M188.3 744.6h0M219.7 758.7h0M213.9 741.6h0M199.4 763.7h0M268.0 739.8h0M207.2 760.0h0M262.6 775.1h0M236.1 747.9h0M224.2 767.1h0M194.9 770.9h0M182.3 742.4h0M195.3 731.4h0M220.2 756.3h0M182.5 757.1h0M203.3 769.7h0M212.6 752.5h0M199.9 744.5h0M213.7 755.6h0M227.6 774.2h0" stroke="#fff" stroke-width="1.8" stroke-linecap="round" fill="none" opacity="0.95"/>
<path d="M231.9 784.3h0M225.1 779.9h0M230.3 782.6h0M223.1 776.3h0" stroke="#fff" stroke-width="2.0" stroke-linecap="round" fill="none" opacity="0.95"/>
<text x="183.4" y="728.6" font-size="3.2" font-weight="bold" fill="#fff" opacity="0.88">HCC13_MHH15C_220608</text>
<rect x="258.2" y="786.6" width="8" height="1.4" fill="#fff"/>
<text x="262.2" y="785.8" font-size="2.7" font-weight="bold" text-anchor="middle" fill="#fff">100 µm</text>
</g>
<clipPath id="ce32"><rect x="288.6" y="721.9" width="90.8" height="68.2"/></clipPath>
<g clip-path="url(#ce32)">
<rect x="287.6" y="720.9" width="92.8" height="70.2" fill="#766f75"/>
<ellipse cx="334.0" cy="762.8" rx="31.8" ry="23.9" fill="#868088" opacity="0.4" filter="url(#b8)"/>
<ellipse cx="288.6" cy="721.9" rx="22.7" ry="17.1" fill="#5e585f" opacity="0.5" filter="url(#b8)"/>
<ellipse cx="379.4" cy="790.1" rx="18.2" ry="13.6" fill="#625c63" opacity="0.4" filter="url(#b8)"/>
<rect x="288.6" y="721.9" width="90.8" height="68.2" filter="url(#nf)" opacity="0.18"/>
<rect x="288.6" y="721.9" width="90.8" height="68.2" filter="url(#nk)" opacity="0.1"/>
<path d="M314.9 732.0l-0.0 7.9M312.2 744.2l4.0 1.7M298.4 744.1l5.3 2.3M307.0 758.9l-8.6 2.7M324.6 766.8l0.7 8.5M301.2 764.6l3.2 4.7M291.0 747.6l4.8 4.3M314.4 749.4l6.3 5.3M334.5 766.7l-5.8 4.7M328.3 740.6l-2.4 4.9M304.1 741.4l3.8 6.1M307.7 756.6l2.7 6.3M306.5 757.6l5.6 3.9M300.9 744.0l-6.4 3.1M314.5 756.3l3.1 4.2M336.6 750.1l2.9 4.6M321.5 743.5l-3.5 2.2M302.1 741.6l-1.5 4.5M313.2 755.1l-0.9 7.5M302.1 787.8l1.0 4.7M307.6 762.5l-1.6 5.2M304.7 733.3l-1.5 7.5M311.4 733.1l3.4 5.6M305.8 757.5l-1.5 6.2M342.4 735.1l2.9 3.9M345.8 756.0l-4.1 2.0M323.8 761.0l3.3 1.5M301.9 749.0l-4.8 1.1M301.7 759.3l-3.2 4.4M314.2 744.3l-2.8 6.2M291.7 741.8l3.5 4.5M322.2 749.4l-7.0 2.2M313.4 747.6l7.5 3.4M309.2 755.9l0.9 3.5M302.6 776.0l-1.0 8.1M302.8 754.1l-1.6 4.9M307.2 743.4l-0.8 4.0M306.2 734.0l3.8 1.0M322.1 746.4l-0.8 6.5M305.6 762.4l2.1 6.7M306.1 727.7l7.1 5.6M326.5 746.4l5.0 3.1M308.5 755.0l-1.6 3.9M297.0 769.9l-4.0 0.1M311.7 773.0l-2.6 3.0M296.7 754.9l0.4 8.5M289.9 741.2l-1.8 4.5M322.4 759.4l-4.5 1.1M326.0 761.5l5.4 3.4M316.0 729.9l-2.5 5.1" stroke="#aaa2aa" stroke-width="0.5" fill="none" opacity="0.45" stroke-linecap="round"/>
<path d="M337.3 758.5h0M328.3 736.9h0M347.6 731.1h0M313.1 769.2h0M314.0 767.4h0M327.9 756.9h0M336.0 759.2h0M364.2 782.9h0M336.7 777.1h0M324.6 738.9h0M372.8 734.0h0M350.6 730.7h0M321.1 742.5h0M329.9 734.0h0M335.0 774.2h0M372.1 751.5h0M337.7 787.5h0M336.7 749.1h0M296.4 734.0h0M315.9 730.9h0M298.5 732.0h0M374.8 744.3h0M337.6 722.9h0M302.6 738.6h0M325.8 752.5h0M304.1 732.9h0M364.9 757.9h0M326.5 722.8h0M366.1 753.1h0M295.0 778.7h0M330.0 783.2h0M295.0 742.5h0M356.1 744.8h0M329.9 782.3h0" stroke="#f0e6da" stroke-width="1.5" stroke-linecap="round" fill="none" opacity="0.9"/>
<text x="293.8" y="728.6" font-size="3.2" font-weight="bold" fill="#fff" opacity="0.88">D0768_HCC13_MHH15_P1</text>
<rect x="368.6" y="786.6" width="8" height="1.4" fill="#fff"/>
<text x="372.6" y="785.8" font-size="2.7" font-weight="bold" text-anchor="middle" fill="#fff">200 µm</text>
</g>
<clipPath id="ce33"><rect x="400.5" y="721.9" width="90.8" height="68.2"/></clipPath>
<g clip-path="url(#ce33)">
<rect x="399.5" y="720.9" width="92.8" height="70.2" fill="#616b81"/>
<path d="M398.5 766.9C414.1 759.4 427.7 738.3 447.7 737.6S477.7 742.4 493.3 746.5V792.1H398.5z" fill="#535967" filter="url(#b2)"/>
<path d="M482.7 768.7h0M482.7 781.4h0M457.5 776.8h0M426.2 769.0h0M412.9 766.0h0M451.0 751.4h0M484.8 780.8h0M490.9 761.5h0M440.1 789.6h0M410.9 782.2h0M459.7 743.4h0M487.0 758.1h0M405.4 767.4h0M441.8 744.6h0M408.3 767.1h0M461.0 757.9h0M481.0 766.1h0M437.3 779.7h0M436.4 779.0h0M483.8 769.7h0M484.3 759.2h0M404.2 773.0h0M437.4 762.9h0M460.0 782.0h0M478.4 749.0h0M473.2 785.1h0M427.1 789.4h0M408.8 777.8h0M435.7 758.5h0M426.9 763.4h0M427.4 774.0h0M445.3 745.9h0M460.4 780.0h0M432.6 783.6h0M457.6 760.2h0M464.3 768.4h0M468.8 772.8h0M448.5 747.2h0M446.6 742.8h0M416.8 783.7h0M480.3 760.6h0M491.0 767.0h0M443.4 770.5h0M461.4 766.5h0M464.5 756.2h0M471.1 754.9h0M470.3 765.3h0M420.2 783.2h0M466.6 781.2h0M426.4 784.4h0M480.1 760.3h0M417.9 779.0h0M440.9 785.7h0M462.6 778.6h0M409.2 769.9h0M449.2 752.3h0M422.1 771.7h0M441.5 756.5h0M482.1 774.3h0M428.4 758.3h0M482.3 785.2h0M400.6 773.4h0M485.5 760.2h0M426.5 779.7h0M463.8 767.0h0M432.5 767.1h0M483.1 789.2h0M471.4 759.0h0M480.7 780.3h0M469.7 776.0h0M456.6 756.6h0M402.6 770.8h0M438.7 753.3h0M408.2 777.6h0M439.5 770.0h0M488.6 785.1h0M474.6 768.0h0M458.5 781.8h0M479.1 784.1h0M490.5 786.1h0M488.3 778.6h0M454.6 784.6h0M445.2 784.6h0M478.7 762.6h0M477.1 771.8h0M405.8 775.5h0M442.1 757.1h0M473.2 775.1h0M466.0 753.8h0M414.1 766.9h0M420.3 761.6h0M489.2 787.5h0M459.8 763.9h0M488.7 768.8h0M476.2 760.2h0M467.3 760.6h0M467.4 781.3h0M429.0 781.9h0M477.7 784.7h0M479.2 779.4h0M415.8 775.5h0M427.9 767.0h0M441.7 756.5h0M401.8 766.6h0M437.1 754.8h0M480.6 757.1h0M449.9 760.4h0M423.7 775.0h0M432.7 787.8h0M469.2 783.0h0M484.5 786.8h0M470.9 760.2h0M456.3 765.1h0M417.6 772.7h0M404.6 768.4h0M477.3 763.1h0M474.4 765.7h0M445.8 788.4h0M460.5 783.6h0M443.8 765.5h0M433.3 788.0h0M443.2 760.8h0M488.9 784.5h0M410.2 780.4h0M468.8 751.1h0M427.7 760.8h0M485.4 776.4h0M450.6 773.0h0M452.3 789.6h0M440.9 765.6h0M414.6 781.4h0M462.0 787.4h0M447.4 744.6h0M403.6 778.6h0M404.5 771.8h0M465.8 775.7h0M462.6 778.4h0M426.4 757.0h0M455.9 749.8h0M406.4 780.9h0M464.8 778.8h0M476.4 788.6h0M468.8 764.3h0M484.9 784.9h0M451.6 761.7h0M478.6 750.9h0M460.4 775.3h0M412.5 789.3h0M432.7 773.0h0M424.1 783.9h0M465.0 773.4h0M467.2 756.2h0M440.8 754.9h0M440.7 755.9h0M468.6 742.7h0M473.7 761.8h0M443.9 764.9h0M413.4 778.6h0M429.6 767.1h0M457.0 779.4h0M461.6 776.6h0M450.6 788.1h0M434.6 771.4h0M433.1 777.0h0M430.1 766.2h0M455.3 761.6h0M477.8 771.7h0M451.5 764.8h0M428.5 780.0h0M471.4 753.0h0M462.5 745.4h0M482.8 758.2h0M474.2 775.4h0M456.2 762.5h0M447.1 788.7h0M425.3 767.9h0M456.4 781.3h0M437.5 775.6h0M411.0 778.1h0M447.3 751.4h0M447.6 788.4h0M442.8 789.6h0M473.9 778.9h0M475.5 765.7h0M462.4 766.7h0M477.9 786.2h0M436.6 756.0h0M444.4 750.4h0M421.8 769.3h0M457.5 769.0h0M486.8 771.8h0M452.9 775.0h0M445.9 745.0h0M431.4 770.9h0M454.4 755.3h0M433.9 777.1h0M460.8 762.2h0M485.5 770.9h0M478.4 777.9h0M430.4 786.3h0M428.5 767.7h0M471.0 762.6h0M448.6 754.2h0M413.9 768.9h0M474.6 753.6h0M426.5 768.9h0M435.0 754.0h0M448.2 770.0h0M475.3 784.6h0M430.7 781.7h0M431.7 755.1h0M425.3 762.7h0M472.5 785.8h0M406.9 785.2h0M482.2 767.9h0M463.3 774.2h0M431.9 764.7h0M433.3 763.2h0M464.3 752.5h0M426.9 773.5h0M430.2 757.4h0M433.6 784.5h0M421.1 789.2h0M438.7 773.1h0M450.5 742.5h0M486.5 786.1h0M441.3 776.4h0M471.4 782.4h0M416.7 787.2h0M418.9 773.3h0M481.7 786.4h0M462.5 784.3h0M453.3 754.4h0M439.3 780.8h0M457.9 760.6h0M420.3 770.2h0M475.6 778.7h0M400.9 784.0h0M457.1 779.6h0M485.0 778.7h0M421.2 769.1h0M456.0 745.8h0M409.2 771.1h0M477.7 762.2h0M441.8 782.7h0M483.6 781.0h0M452.4 777.7h0M468.1 768.4h0M446.4 753.8h0M471.8 761.3h0M438.1 753.1h0M454.6 761.0h0M443.9 755.9h0M401.0 776.1h0M457.3 759.9h0M475.9 761.8h0M486.9 766.0h0M468.8 751.6h0M452.9 740.7h0M422.2 775.2h0M483.2 759.5h0M488.9 780.0h0M453.3 741.4h0M421.2 770.6h0M457.0 787.3h0M439.0 769.3h0M490.4 770.7h0M436.4 779.9h0M457.9 775.9h0M413.2 787.9h0M472.1 766.5h0M467.9 753.7h0M466.6 788.4h0M434.7 753.3h0M436.6 763.4h0M407.2 775.7h0M445.3 764.9h0M402.0 778.0h0M456.1 753.8h0M424.8 775.7h0M468.9 751.0h0M416.3 787.6h0M487.3 771.6h0M452.0 742.7h0M464.1 763.8h0M478.8 776.7h0M446.3 785.8h0M401.1 778.6h0M459.9 781.4h0M469.9 783.9h0M461.1 787.7h0M420.4 771.0h0M446.8 742.1h0M429.5 781.2h0M413.6 765.7h0M464.7 756.0h0M411.7 776.3h0M413.7 763.3h0M477.2 764.1h0M432.0 786.9h0M490.1 771.9h0M437.8 757.4h0M461.4 755.7h0M475.4 765.4h0M402.2 775.7h0M404.9 766.4h0M462.2 761.7h0M484.4 785.5h0M453.7 766.3h0M440.4 786.7h0M482.5 773.7h0M428.6 775.5h0M488.2 768.0h0M476.5 769.5h0M401.4 767.8h0M421.8 769.8h0M458.8 745.6h0M482.1 764.9h0M434.0 785.0h0M450.0 751.2h0M450.3 761.9h0M433.6 753.0h0M488.9 780.5h0M401.8 766.7h0M405.1 774.1h0M442.9 762.9h0M415.5 780.0h0M473.8 759.5h0M429.1 782.9h0M450.1 753.3h0M413.9 780.6h0M424.5 762.1h0M475.0 757.8h0M447.7 755.5h0M429.6 781.7h0M425.3 779.6h0M452.5 755.7h0M486.5 783.7h0M457.4 771.0h0M442.5 778.6h0M487.5 757.6h0M454.0 780.4h0M463.5 743.7h0M416.6 769.9h0M480.6 750.9h0M490.4 772.4h0M430.7 785.9h0M477.6 789.1h0M444.0 747.6h0M479.4 784.8h0M460.5 752.2h0M459.3 761.2h0M442.7 779.9h0M425.5 785.1h0M438.2 777.3h0M430.6 789.7h0M462.0 771.2h0M453.1 748.2h0M488.6 788.6h0M482.3 787.8h0M409.9 776.7h0M409.2 773.5h0M490.5 782.9h0M403.3 770.0h0M489.2 779.7h0M448.4 755.3h0M466.0 780.7h0M479.1 784.5h0M470.8 749.6h0M483.1 776.0h0M485.3 762.4h0M447.4 770.6h0M462.5 787.4h0M471.9 751.7h0M474.5 775.5h0M464.3 778.7h0M403.4 772.2h0M452.6 778.3h0M401.5 779.4h0M424.4 782.7h0M476.5 784.8h0M486.3 771.9h0M454.4 784.8h0M412.6 771.3h0M447.2 764.2h0M454.5 759.2h0M402.3 785.2h0M468.8 744.1h0M421.6 767.9h0M430.1 757.5h0M478.3 760.5h0M465.6 751.7h0M467.9 789.8h0M470.1 765.4h0M436.4 789.1h0M436.4 755.8h0M436.9 754.7h0M474.1 787.0h0M458.2 765.4h0M453.4 759.8h0M427.3 785.9h0M477.4 748.9h0M469.0 776.2h0M413.2 788.8h0M426.8 765.4h0M490.4 758.7h0M469.7 772.9h0M450.7 750.7h0M450.0 750.7h0M440.5 783.3h0M424.2 763.6h0M435.0 755.1h0M420.6 781.3h0M439.6 752.7h0M442.2 746.5h0M456.6 742.7h0M476.2 778.4h0M425.3 787.3h0M417.6 769.0h0M437.5 777.2h0M458.8 775.4h0M471.5 765.0h0M404.0 766.3h0M465.7 767.8h0M485.6 773.8h0M454.0 746.3h0M456.3 747.8h0M477.0 752.5h0M479.5 759.2h0M426.2 755.8h0M418.7 783.7h0M457.9 749.0h0M432.1 777.1h0M468.6 774.6h0M443.9 747.9h0M476.4 788.4h0M452.3 751.3h0M437.6 760.7h0M460.2 747.0h0M450.7 776.7h0M488.7 787.7h0M449.3 766.7h0M402.5 766.6h0M434.5 776.7h0M451.6 761.8h0M470.0 766.7h0M454.3 747.1h0M452.5 783.9h0M417.8 764.0h0M473.7 761.4h0M442.8 764.9h0M488.1 775.1h0M444.5 750.9h0M453.3 744.9h0M456.4 774.2h0M433.1 759.4h0M463.2 751.6h0M441.8 771.2h0M474.2 787.4h0M422.8 767.8h0M461.9 766.4h0M446.7 779.5h0M428.7 771.7h0M457.1 759.6h0M451.7 772.2h0M401.8 773.6h0M409.6 765.1h0M459.6 748.3h0M452.1 762.4h0M481.8 789.3h0M474.3 747.9h0M488.1 762.5h0M458.6 781.0h0M436.3 782.1h0M443.0 778.2h0M434.7 758.9h0M416.9 773.9h0M444.0 765.5h0M409.1 768.8h0M441.0 757.9h0M436.6 759.4h0M444.8 744.1h0M470.4 752.1h0M415.2 782.9h0M401.9 768.6h0M455.1 780.4h0M475.2 781.5h0M462.0 769.4h0M435.5 788.6h0M442.2 768.7h0M462.2 773.0h0M490.0 772.1h0M450.0 764.5h0M468.7 787.9h0M454.9 770.5h0M431.3 773.2h0M473.1 781.4h0M446.7 758.4h0M464.8 768.6h0M443.0 762.4h0M484.4 770.3h0M401.5 773.1h0M487.4 759.4h0M416.1 786.7h0M435.5 782.3h0M473.9 776.5h0M416.1 778.5h0M433.5 759.5h0M407.8 769.4h0M465.1 769.7h0M465.8 780.5h0M407.7 780.0h0M458.0 763.3h0M428.7 773.6h0M430.1 758.0h0M487.9 766.3h0M444.3 753.0h0M461.4 749.2h0M431.0 789.3h0M472.3 771.9h0M484.3 772.8h0M408.3 786.9h0M431.0 785.2h0M419.5 787.4h0M417.7 776.2h0M457.7 749.5h0M442.9 750.0h0M464.0 779.3h0M420.0 770.7h0M471.2 786.2h0M405.2 771.2h0M431.7 752.0h0M428.7 758.9h0M480.3 760.4h0M401.4 773.6h0M472.4 749.9h0M446.2 786.0h0M442.7 745.5h0M444.8 763.0h0M469.2 750.0h0M438.4 763.3h0M441.5 747.8h0M487.6 761.3h0M466.8 788.7h0M467.7 761.1h0M458.5 772.8h0M478.1 768.6h0M463.5 779.7h0M421.4 759.6h0M462.7 789.6h0M449.4 757.8h0M415.4 777.1h0M459.2 783.7h0M425.2 782.7h0M407.6 768.4h0M451.6 759.2h0M481.1 769.2h0M473.1 764.5h0M452.5 747.9h0M469.1 754.0h0" stroke="#a8b0c0" stroke-width="1.0" stroke-linecap="round" fill="none" opacity="0.8"/>
<path d="M464.2 787.9h0M441.5 759.7h0M411.7 785.1h0M487.4 765.3h0M430.4 783.5h0M417.2 785.2h0M449.6 763.4h0M448.7 768.4h0M417.0 776.6h0M443.6 750.7h0M427.0 782.4h0M429.1 773.7h0M477.9 764.9h0M441.8 772.8h0M453.4 771.0h0M405.9 786.2h0M453.8 748.8h0M405.2 784.2h0M430.4 764.9h0M460.5 768.2h0M485.6 774.3h0M491.1 763.2h0M482.8 768.7h0M450.0 762.6h0M457.2 776.7h0M457.5 740.3h0M481.9 771.9h0M454.2 750.2h0M440.9 774.0h0M415.7 775.5h0M474.9 778.1h0M457.7 747.8h0M446.4 763.8h0M473.2 765.4h0M459.7 767.5h0M463.8 770.8h0M467.9 770.1h0M467.8 755.8h0M415.7 771.6h0M480.8 760.0h0M442.1 767.3h0M438.3 789.1h0M448.4 773.9h0M454.0 766.4h0M451.9 789.8h0M451.8 742.9h0M424.6 785.2h0M473.1 768.8h0M438.6 754.9h0M470.1 745.5h0M428.6 781.7h0M468.5 751.9h0M444.8 784.1h0M435.8 781.8h0M457.3 773.5h0M443.7 761.3h0M416.0 782.3h0M479.7 755.7h0M474.6 772.6h0M460.5 776.2h0M458.6 773.5h0M454.0 763.6h0M455.1 770.1h0M447.1 743.3h0M423.0 766.1h0M479.5 787.2h0M401.8 767.8h0M420.8 783.2h0M440.5 748.3h0M439.0 789.1h0M446.2 762.5h0M457.3 750.5h0M474.9 784.9h0M431.5 779.2h0M449.1 777.3h0M457.8 767.0h0M434.3 771.1h0M440.2 786.6h0M471.8 783.4h0M410.9 772.1h0M483.7 783.4h0M430.4 774.9h0M476.1 759.7h0M454.9 745.1h0M439.7 761.8h0M488.9 765.2h0M436.0 789.5h0M401.9 773.8h0M454.5 778.6h0M465.6 784.9h0M456.0 759.6h0M444.3 744.7h0M402.3 777.7h0M464.2 748.0h0M452.0 753.0h0M439.7 773.7h0M434.9 751.6h0M419.4 775.7h0M436.0 753.5h0M437.2 778.8h0M466.2 764.5h0M414.4 780.4h0M465.5 753.5h0M437.2 768.1h0M475.2 760.1h0M440.3 760.3h0M463.7 760.0h0M443.0 744.0h0M473.9 745.6h0M428.5 771.9h0M420.9 779.1h0M472.8 761.3h0M449.3 746.8h0M431.2 778.7h0M457.5 774.9h0M463.9 776.5h0M461.5 763.2h0M455.5 753.2h0M462.2 789.7h0M428.9 764.2h0M488.2 785.8h0M439.2 776.3h0M447.7 777.4h0M414.5 782.0h0M440.3 761.7h0M410.8 771.6h0M418.2 767.7h0M483.0 784.7h0M466.2 770.6h0M467.0 788.9h0M441.0 753.5h0M471.8 755.3h0M470.5 763.2h0M426.1 756.7h0M406.6 777.2h0M453.5 769.0h0M481.4 773.5h0M413.1 769.1h0M428.7 767.0h0M469.8 782.8h0M415.1 787.7h0M451.1 749.2h0M449.1 747.1h0M421.2 788.3h0M452.0 772.2h0M488.4 788.3h0M466.0 746.2h0M473.2 764.5h0M463.4 761.3h0M481.1 783.5h0M427.2 759.9h0M465.3 767.6h0M466.2 772.6h0M464.0 782.3h0M422.9 771.1h0M478.4 789.0h0M445.8 760.2h0M439.9 760.9h0M423.8 783.1h0M476.4 776.1h0M433.4 763.2h0M457.4 741.6h0M421.4 785.6h0M461.4 788.4h0M454.6 758.8h0M448.6 764.6h0M473.4 782.1h0M416.1 785.0h0M438.7 758.1h0M438.6 773.6h0M457.1 773.1h0M417.5 766.3h0M449.3 771.0h0M422.2 785.8h0M456.5 779.3h0M451.0 783.0h0M443.5 789.6h0M431.9 759.0h0M478.5 784.3h0M475.1 759.5h0M418.4 783.7h0M453.6 757.9h0M416.6 786.0h0M462.6 774.1h0M459.0 783.3h0M478.3 771.4h0M413.4 785.2h0M458.5 757.2h0M430.9 780.0h0M413.6 778.6h0M447.6 765.7h0M475.0 749.6h0M437.9 762.5h0M482.0 771.9h0M477.8 785.0h0M467.0 789.3h0M457.8 764.8h0M416.6 768.5h0M416.2 780.0h0M487.3 761.8h0M464.2 742.1h0M441.0 784.1h0M459.3 781.3h0M446.4 781.2h0M488.7 777.8h0M464.0 756.9h0M452.2 779.8h0M491.0 780.3h0M486.6 757.5h0M440.7 769.0h0M489.4 786.6h0M419.8 789.0h0M456.8 774.6h0M419.8 788.9h0M430.4 780.2h0M476.8 763.0h0M464.3 778.4h0M451.7 784.2h0M456.4 763.8h0M472.9 756.7h0M419.2 770.0h0M467.6 774.6h0M455.3 756.2h0M489.3 776.0h0M472.9 765.1h0M475.7 765.0h0M455.3 756.4h0M450.6 782.7h0M466.0 760.2h0M430.8 770.8h0M451.1 781.7h0M412.8 778.5h0M467.3 782.3h0M488.3 771.6h0M410.7 770.3h0M451.2 788.5h0M411.1 782.4h0M481.4 754.0h0M450.7 773.0h0M445.8 781.4h0M420.5 760.5h0M461.4 770.6h0M465.2 772.0h0M432.9 758.7h0M469.8 748.6h0M470.6 749.8h0M425.5 756.9h0M455.0 738.8h0M442.4 768.3h0M454.6 786.5h0M414.5 787.5h0M415.2 785.2h0M476.2 766.8h0M409.4 785.7h0M440.1 767.8h0M446.3 769.8h0M407.4 784.7h0M425.5 756.3h0M453.1 771.3h0M443.9 780.5h0" stroke="#2a2e38" stroke-width="1.0" stroke-linecap="round" fill="none" opacity="0.65"/>
<path d="M428.2 748.9h0M463.1 745.7h0M439.5 745.8h0M424.9 748.0h0M428.0 747.1h0M465.8 750.3h0M450.3 745.9h0M424.2 742.5h0M425.1 747.0h0M472.4 748.5h0M451.5 748.1h0M420.7 739.0h0M410.2 753.4h0M413.5 751.6h0M441.4 757.3h0M448.5 748.2h0" stroke="#f2eedc" stroke-width="1.6" stroke-linecap="round" fill="none" opacity="0.95"/>
<path d="M458.7 752.8l-0.5 4.7M441.9 746.3l-6.3 4.0M464.3 738.7l2.1 5.5M441.4 747.8l-3.6 3.5M432.5 745.7l4.4 7.2M471.6 746.6l-5.8 0.3M444.7 742.6l0.6 5.1M478.0 744.6l1.3 8.0M457.5 737.6l-3.7 6.5M450.3 739.4l-4.3 3.5M431.7 744.2l-8.7 0.7M465.0 743.0l-3.2 2.4M435.8 737.2l4.6 1.2M450.1 748.5l-5.3 1.6M455.1 736.1l-3.0 4.5M426.7 745.8l5.5 6.4" stroke="#c4ccd4" stroke-width="0.6" fill="none" opacity="0.75" stroke-linecap="round"/>
<text x="405.7" y="728.6" font-size="3.2" font-weight="bold" fill="#fff" opacity="0.88">HCC13_MHH15_P2_210727</text>
<rect x="480.5" y="786.6" width="8" height="1.4" fill="#fff"/>
<text x="484.5" y="785.8" font-size="2.7" font-weight="bold" text-anchor="middle" fill="#fff">200 µm</text>
</g>
</svg>
</body></html>
